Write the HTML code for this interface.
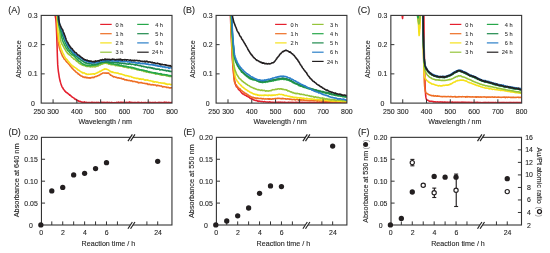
<!DOCTYPE html>
<html><head><meta charset="utf-8"><style>
html,body{margin:0;padding:0;background:#fff;}
body{width:550px;height:253px;overflow:hidden;}
svg{display:block;font-family:"Liberation Sans", sans-serif;will-change:transform;}
text{stroke:#2a2a2a;stroke-width:0.12px;}
text.lg{stroke-width:0.08px;fill:#333;}
</style></head><body>
<svg width="550" height="253" viewBox="0 0 550 253">
<rect width="550" height="253" fill="#fff"/>
<clipPath id="c0"><rect x="41.2" y="15.4" width="130.8" height="87.69999999999999"/></clipPath>
<text transform="translate(8.20 12.70) scale(0.9200 1.0000)" font-size="9.72" text-anchor="start" fill="#262626">(A)</text>
<text transform="translate(32.90 17.90) scale(0.9200 1.0000)" font-size="7.56" text-anchor="middle" fill="#262626">0.3</text>
<text transform="translate(32.90 47.13) scale(0.9200 1.0000)" font-size="7.56" text-anchor="middle" fill="#262626">0.2</text>
<text transform="translate(32.90 76.37) scale(0.9200 1.0000)" font-size="7.56" text-anchor="middle" fill="#262626">0.1</text>
<text transform="translate(32.90 105.60) scale(0.9200 1.0000)" font-size="7.56" text-anchor="middle" fill="#262626">0</text>
<text transform="translate(39.20 113.60) scale(0.9200 1.0000)" font-size="7.56" text-anchor="middle" fill="#262626">250</text>
<text transform="translate(53.09 113.60) scale(0.9200 1.0000)" font-size="7.56" text-anchor="middle" fill="#262626">300</text>
<text transform="translate(76.87 113.60) scale(0.9200 1.0000)" font-size="7.56" text-anchor="middle" fill="#262626">400</text>
<text transform="translate(100.65 113.60) scale(0.9200 1.0000)" font-size="7.56" text-anchor="middle" fill="#262626">500</text>
<text transform="translate(124.44 113.60) scale(0.9200 1.0000)" font-size="7.56" text-anchor="middle" fill="#262626">600</text>
<text transform="translate(148.22 113.60) scale(0.9200 1.0000)" font-size="7.56" text-anchor="middle" fill="#262626">700</text>
<text transform="translate(172.00 113.60) scale(0.9200 1.0000)" font-size="7.56" text-anchor="middle" fill="#262626">800</text>
<text transform="translate(105.20 124.00) scale(0.9200 1.0000)" font-size="7.78" text-anchor="middle" fill="#262626">Wavelength / nm</text>
<text transform="translate(20.50 59.25) rotate(-90) scale(0.9200 1.0000)" font-size="7.67" text-anchor="middle" fill="#262626">Absorbance</text>
<clipPath id="c1"><rect x="216.1" y="15.4" width="130.8" height="87.69999999999999"/></clipPath>
<text transform="translate(183.10 12.70) scale(0.9200 1.0000)" font-size="9.72" text-anchor="start" fill="#262626">(B)</text>
<text transform="translate(207.80 17.90) scale(0.9200 1.0000)" font-size="7.56" text-anchor="middle" fill="#262626">0.3</text>
<text transform="translate(207.80 47.13) scale(0.9200 1.0000)" font-size="7.56" text-anchor="middle" fill="#262626">0.2</text>
<text transform="translate(207.80 76.37) scale(0.9200 1.0000)" font-size="7.56" text-anchor="middle" fill="#262626">0.1</text>
<text transform="translate(207.80 105.60) scale(0.9200 1.0000)" font-size="7.56" text-anchor="middle" fill="#262626">0</text>
<text transform="translate(214.10 113.60) scale(0.9200 1.0000)" font-size="7.56" text-anchor="middle" fill="#262626">250</text>
<text transform="translate(227.99 113.60) scale(0.9200 1.0000)" font-size="7.56" text-anchor="middle" fill="#262626">300</text>
<text transform="translate(251.77 113.60) scale(0.9200 1.0000)" font-size="7.56" text-anchor="middle" fill="#262626">400</text>
<text transform="translate(275.55 113.60) scale(0.9200 1.0000)" font-size="7.56" text-anchor="middle" fill="#262626">500</text>
<text transform="translate(299.34 113.60) scale(0.9200 1.0000)" font-size="7.56" text-anchor="middle" fill="#262626">600</text>
<text transform="translate(323.12 113.60) scale(0.9200 1.0000)" font-size="7.56" text-anchor="middle" fill="#262626">700</text>
<text transform="translate(346.90 113.60) scale(0.9200 1.0000)" font-size="7.56" text-anchor="middle" fill="#262626">800</text>
<text transform="translate(280.10 124.00) scale(0.9200 1.0000)" font-size="7.78" text-anchor="middle" fill="#262626">Wavelength / nm</text>
<text transform="translate(195.40 59.25) rotate(-90) scale(0.9200 1.0000)" font-size="7.67" text-anchor="middle" fill="#262626">Absorbance</text>
<clipPath id="c2"><rect x="390.85" y="15.4" width="130.8" height="87.69999999999999"/></clipPath>
<text transform="translate(357.85 12.70) scale(0.9200 1.0000)" font-size="9.72" text-anchor="start" fill="#262626">(C)</text>
<text transform="translate(382.55 17.90) scale(0.9200 1.0000)" font-size="7.56" text-anchor="middle" fill="#262626">0.3</text>
<text transform="translate(382.55 47.13) scale(0.9200 1.0000)" font-size="7.56" text-anchor="middle" fill="#262626">0.2</text>
<text transform="translate(382.55 76.37) scale(0.9200 1.0000)" font-size="7.56" text-anchor="middle" fill="#262626">0.1</text>
<text transform="translate(382.55 105.60) scale(0.9200 1.0000)" font-size="7.56" text-anchor="middle" fill="#262626">0</text>
<text transform="translate(388.85 113.60) scale(0.9200 1.0000)" font-size="7.56" text-anchor="middle" fill="#262626">250</text>
<text transform="translate(402.74 113.60) scale(0.9200 1.0000)" font-size="7.56" text-anchor="middle" fill="#262626">300</text>
<text transform="translate(426.52 113.60) scale(0.9200 1.0000)" font-size="7.56" text-anchor="middle" fill="#262626">400</text>
<text transform="translate(450.30 113.60) scale(0.9200 1.0000)" font-size="7.56" text-anchor="middle" fill="#262626">500</text>
<text transform="translate(474.09 113.60) scale(0.9200 1.0000)" font-size="7.56" text-anchor="middle" fill="#262626">600</text>
<text transform="translate(497.87 113.60) scale(0.9200 1.0000)" font-size="7.56" text-anchor="middle" fill="#262626">700</text>
<text transform="translate(521.65 113.60) scale(0.9200 1.0000)" font-size="7.56" text-anchor="middle" fill="#262626">800</text>
<text transform="translate(454.85 124.00) scale(0.9200 1.0000)" font-size="7.78" text-anchor="middle" fill="#262626">Wavelength / nm</text>
<text transform="translate(370.15 59.25) rotate(-90) scale(0.9200 1.0000)" font-size="7.67" text-anchor="middle" fill="#262626">Absorbance</text>
<path d="M54.70,8.00 L55.00,13.80 L55.30,16.53 L55.60,17.85 L55.90,19.83 L56.20,24.10 L56.50,30.53 L56.80,37.98 L57.10,47.04 L57.40,57.08 L57.70,64.38 L58.00,68.12 L58.30,70.78 L58.60,72.78 L58.90,74.72 L59.20,76.80 L59.50,78.36 L59.80,79.77 L60.10,81.08 L60.40,82.14 L60.70,83.09 L61.00,84.07 L61.30,84.92 L61.60,85.72 L61.90,86.58 L62.20,87.15 L62.50,87.39 L62.80,87.88 L63.10,88.70 L63.40,89.24 L63.70,89.48 L64.00,89.79 L64.30,90.23 L64.60,90.53 L64.90,91.11 L65.20,91.41 L65.50,91.55 L65.80,92.04 L66.10,92.22 L66.40,92.34 L66.70,92.66 L67.00,92.91 L67.30,92.95 L67.60,93.17 L67.90,93.72 L68.20,93.72 L68.50,93.86 L68.80,94.30 L69.10,94.32 L69.40,94.80 L69.70,95.22 L70.00,95.04 L70.30,95.19 L70.60,95.67 L70.90,95.88 L71.20,96.14 L71.50,96.40 L71.80,96.64 L72.10,97.08 L72.40,97.15 L72.70,97.23 L73.00,97.50 L73.30,97.72 L73.60,97.86 L73.90,98.00 L74.20,98.35 L74.50,98.76 L74.80,99.15 L75.10,99.06 L75.40,99.01 L75.70,99.46 L76.00,99.48 L76.30,99.51 L76.60,99.93 L76.90,100.31 L77.20,100.57 L77.50,100.52 L77.80,100.53 L78.10,100.68 L78.40,101.07 L78.70,101.17 L79.00,101.06 L79.30,101.27 L79.60,101.40 L79.90,101.43 L80.20,101.39 L80.50,101.50 L80.80,101.67 L81.10,101.90 L81.40,102.12 L81.70,102.04 L82.00,102.11 L82.30,102.14 L82.60,102.24 L82.90,102.34 L83.20,102.32 L83.50,102.19 L83.80,102.19 L84.10,102.16 L84.40,101.87 L84.70,102.07 L85.00,102.24 L85.30,102.33 L85.60,102.76 L85.90,102.64 L86.20,102.29 L86.50,102.44 L86.80,102.60 L87.10,102.57 L87.40,102.49 L87.70,102.62 L88.00,102.72 L88.30,102.51 L88.60,102.44 L88.90,102.58 L89.20,102.46 L89.50,102.49 L89.80,102.52 L90.10,102.61 L90.40,102.75 L90.70,102.64 L91.00,102.53 L91.30,102.51 L91.60,102.32 L91.90,102.19 L92.20,102.50 L92.50,102.37 L92.80,102.43 L93.10,102.48 L93.40,102.47 L93.70,102.59 L94.00,102.59 L94.30,102.72 L94.60,102.42 L94.90,102.56 L95.20,102.95 L95.50,102.78 L95.80,102.56 L96.10,102.54 L96.40,102.45 L96.70,102.62 L97.00,102.67 L97.30,102.52 L97.60,102.49 L97.90,102.42 L98.20,102.35 L98.50,102.60 L98.80,102.74 L99.10,102.71 L99.40,102.73 L99.70,102.51 L100.00,102.47 L100.30,102.48 L100.60,102.53 L100.90,102.55 L101.20,102.51 L101.50,102.38 L101.80,102.32 L102.10,102.71 L102.40,102.73 L102.70,102.38 L103.00,102.51 L103.30,102.83 L103.60,102.59 L103.90,102.38 L104.20,102.49 L104.50,102.29 L104.80,102.47 L105.10,102.69 L105.40,102.61 L105.70,102.51 L106.00,102.56 L106.30,102.59 L106.60,102.51 L106.90,102.44 L107.20,102.30 L107.50,102.62 L107.80,102.71 L108.10,102.57 L108.40,102.63 L108.70,102.54 L109.00,102.48 L109.30,102.62 L109.60,102.64 L109.90,102.54 L110.20,102.58 L110.50,102.76 L110.80,102.84 L111.10,102.74 L111.40,102.58 L111.70,102.35 L112.00,102.54 L112.30,102.85 L112.60,102.71 L112.90,102.65 L113.20,102.77 L113.50,102.81 L113.80,102.83 L114.10,102.66 L114.40,102.74 L114.70,102.63 L115.00,102.55 L115.30,102.78 L115.60,102.78 L115.90,102.96 L116.20,103.04 L116.50,102.64 L116.80,102.23 L117.10,102.49 L117.40,102.57 L117.70,102.47 L118.00,102.71 L118.30,102.50 L118.60,102.11 L118.90,102.36 L119.20,102.64 L119.50,102.57 L119.80,102.57 L120.10,102.49 L120.40,102.29 L120.70,102.38 L121.00,102.45 L121.30,102.26 L121.60,102.45 L121.90,102.66 L122.20,102.64 L122.50,102.52 L122.80,102.39 L123.10,102.38 L123.40,102.35 L123.70,102.51 L124.00,102.52 L124.30,102.54 L124.60,102.69 L124.90,102.91 L125.20,102.68 L125.50,102.53 L125.80,102.70 L126.10,102.59 L126.40,102.41 L126.70,102.35 L127.00,102.64 L127.30,102.69 L127.60,102.60 L127.90,102.57 L128.20,102.71 L128.50,102.75 L128.80,102.31 L129.10,102.22 L129.40,102.25 L129.70,101.92 L130.00,102.11 L130.30,102.70 L130.60,102.78 L130.90,102.45 L131.20,102.33 L131.50,102.62 L131.80,102.77 L132.10,102.63 L132.40,102.60 L132.70,102.60 L133.00,102.71 L133.30,102.78 L133.60,102.70 L133.90,102.49 L134.20,102.53 L134.50,102.58 L134.80,102.65 L135.10,102.58 L135.40,102.42 L135.70,102.58 L136.00,102.43 L136.30,102.65 L136.60,103.01 L136.90,102.73 L137.20,102.64 L137.50,102.75 L137.80,102.31 L138.10,102.29 L138.40,102.62 L138.70,102.60 L139.00,102.47 L139.30,102.42 L139.60,102.54 L139.90,102.73 L140.20,102.80 L140.50,102.64 L140.80,102.80 L141.10,102.73 L141.40,102.48 L141.70,102.31 L142.00,102.57 L142.30,102.93 L142.60,102.84 L142.90,102.81 L143.20,102.70 L143.50,102.64 L143.80,102.60 L144.10,102.54 L144.40,102.58 L144.70,102.80 L145.00,102.87 L145.30,102.66 L145.60,102.52 L145.90,102.44 L146.20,102.73 L146.50,102.87 L146.80,102.67 L147.10,102.56 L147.40,102.41 L147.70,102.45 L148.00,102.70 L148.30,102.66 L148.60,102.52 L148.90,102.54 L149.20,102.59 L149.50,102.41 L149.80,102.36 L150.10,102.46 L150.40,102.60 L150.70,102.61 L151.00,102.57 L151.30,102.87 L151.60,102.76 L151.90,102.48 L152.20,102.55 L152.50,102.62 L152.80,102.47 L153.10,102.53 L153.40,102.92 L153.70,102.83 L154.00,102.54 L154.30,102.44 L154.60,102.51 L154.90,102.48 L155.20,102.29 L155.50,102.62 L155.80,102.65 L156.10,102.62 L156.40,102.94 L156.70,102.83 L157.00,102.71 L157.30,102.93 L157.60,102.83 L157.90,102.50 L158.20,102.35 L158.50,102.43 L158.80,102.80 L159.10,102.92 L159.40,102.60 L159.70,102.37 L160.00,102.42 L160.30,102.57 L160.60,102.61 L160.90,102.60 L161.20,102.67 L161.50,102.60 L161.80,102.56 L162.10,102.62 L162.40,102.62 L162.70,102.65 L163.00,102.91 L163.30,102.92 L163.60,102.68 L163.90,102.39 L164.20,102.43 L164.50,102.40 L164.80,102.16 L165.10,102.53 L165.40,102.80 L165.70,102.67 L166.00,102.36 L166.30,102.33 L166.60,102.46 L166.90,102.59 L167.20,102.98 L167.50,102.92 L167.80,102.53 L168.10,102.35 L168.40,102.44 L168.70,102.57 L169.00,102.43 L169.30,102.47 L169.60,102.47 L169.90,102.59 L170.20,102.88 L170.50,102.88 L170.80,102.68 L171.10,102.61 L171.40,102.65 L171.70,102.53 L172.00,102.51" fill="none" stroke="#e5202e" stroke-width="1.55" stroke-linejoin="round" clip-path="url(#c0)"/>
<path d="M56.60,7.83 L56.90,19.64 L57.20,29.92 L57.50,35.48 L57.80,39.11 L58.10,41.67 L58.40,43.29 L58.70,44.57 L59.00,46.11 L59.30,47.47 L59.60,48.49 L59.90,49.56 L60.20,50.54 L60.50,51.09 L60.80,51.77 L61.10,52.82 L61.40,53.76 L61.70,54.13 L62.00,54.92 L62.30,55.87 L62.60,56.44 L62.90,56.84 L63.20,57.13 L63.50,57.51 L63.80,58.33 L64.10,58.89 L64.40,59.18 L64.70,59.53 L65.00,59.74 L65.30,60.00 L65.60,60.32 L65.90,61.03 L66.20,61.28 L66.50,61.64 L66.80,62.18 L67.10,62.24 L67.40,62.47 L67.70,62.88 L68.00,63.27 L68.30,63.61 L68.60,63.86 L68.90,64.24 L69.20,64.58 L69.50,64.81 L69.80,65.30 L70.10,65.94 L70.40,66.11 L70.70,66.35 L71.00,66.82 L71.30,67.03 L71.60,67.56 L71.90,67.95 L72.20,68.36 L72.50,68.65 L72.80,68.82 L73.10,69.21 L73.40,69.37 L73.70,69.79 L74.00,70.17 L74.30,70.47 L74.60,70.78 L74.90,70.85 L75.20,71.12 L75.50,71.55 L75.80,71.96 L76.10,72.09 L76.40,72.23 L76.70,72.39 L77.00,72.74 L77.30,73.09 L77.60,73.04 L77.90,73.43 L78.20,74.07 L78.50,74.13 L78.80,74.09 L79.10,74.43 L79.40,74.66 L79.70,75.03 L80.00,75.28 L80.30,75.34 L80.60,75.71 L80.90,75.88 L81.20,76.02 L81.50,76.13 L81.80,76.05 L82.10,76.06 L82.40,76.58 L82.70,76.90 L83.00,76.80 L83.30,76.94 L83.60,77.03 L83.90,77.14 L84.20,77.45 L84.50,77.39 L84.80,77.02 L85.10,77.09 L85.40,77.18 L85.70,77.46 L86.00,77.79 L86.30,77.63 L86.60,77.39 L86.90,77.52 L87.20,77.93 L87.50,77.65 L87.80,77.58 L88.10,77.85 L88.40,77.94 L88.70,77.97 L89.00,77.81 L89.30,77.77 L89.60,77.68 L89.90,78.04 L90.20,78.25 L90.50,77.99 L90.80,77.73 L91.10,77.49 L91.40,77.49 L91.70,77.67 L92.00,77.65 L92.30,77.57 L92.60,77.36 L92.90,77.28 L93.20,77.35 L93.50,77.44 L93.80,77.61 L94.10,77.35 L94.40,76.93 L94.70,76.86 L95.00,76.79 L95.30,76.62 L95.60,76.59 L95.90,76.45 L96.20,76.43 L96.50,76.45 L96.80,76.29 L97.10,76.17 L97.40,75.93 L97.70,75.71 L98.00,75.65 L98.30,75.58 L98.60,75.52 L98.90,75.47 L99.20,75.13 L99.50,74.99 L99.80,74.83 L100.10,74.56 L100.40,74.51 L100.70,74.12 L101.00,73.98 L101.30,74.07 L101.60,73.85 L101.90,73.60 L102.20,73.42 L102.50,73.20 L102.80,73.10 L103.10,73.07 L103.40,73.06 L103.70,72.96 L104.00,72.97 L104.30,73.15 L104.60,73.10 L104.90,73.02 L105.20,73.11 L105.50,72.96 L105.80,72.94 L106.10,73.19 L106.40,73.17 L106.70,73.19 L107.00,73.06 L107.30,72.98 L107.60,73.15 L107.90,73.24 L108.20,73.18 L108.50,72.93 L108.80,73.05 L109.10,73.62 L109.40,74.00 L109.70,74.25 L110.00,74.31 L110.30,74.78 L110.60,75.28 L110.90,75.05 L111.20,75.28 L111.50,75.56 L111.80,75.48 L112.10,75.73 L112.40,76.19 L112.70,76.35 L113.00,76.34 L113.30,76.73 L113.60,77.01 L113.90,76.87 L114.20,76.73 L114.50,76.67 L114.80,76.71 L115.10,77.01 L115.40,77.24 L115.70,77.28 L116.00,77.44 L116.30,77.40 L116.60,77.34 L116.90,77.62 L117.20,77.77 L117.50,77.89 L117.80,77.94 L118.10,77.83 L118.40,77.90 L118.70,77.88 L119.00,77.70 L119.30,77.98 L119.60,78.26 L119.90,78.31 L120.20,78.17 L120.50,78.16 L120.80,78.39 L121.10,78.40 L121.40,78.26 L121.70,78.41 L122.00,78.89 L122.30,79.06 L122.60,78.94 L122.90,78.97 L123.20,79.22 L123.50,78.93 L123.80,78.89 L124.10,79.39 L124.40,79.57 L124.70,79.79 L125.00,79.92 L125.30,79.81 L125.60,79.77 L125.90,79.90 L126.20,79.86 L126.50,79.82 L126.80,80.07 L127.10,80.40 L127.40,80.33 L127.70,80.13 L128.00,80.25 L128.30,80.49 L128.60,80.53 L128.90,80.61 L129.20,80.55 L129.50,80.40 L129.80,80.56 L130.10,80.75 L130.40,80.98 L130.70,80.74 L131.00,80.55 L131.30,80.85 L131.60,80.95 L131.90,80.77 L132.20,81.05 L132.50,81.37 L132.80,81.36 L133.10,81.30 L133.40,81.43 L133.70,81.52 L134.00,81.59 L134.30,81.56 L134.60,81.37 L134.90,81.58 L135.20,81.65 L135.50,81.78 L135.80,81.96 L136.10,81.81 L136.40,81.84 L136.70,81.97 L137.00,82.14 L137.30,82.16 L137.60,82.04 L137.90,82.34 L138.20,82.74 L138.50,82.90 L138.80,82.67 L139.10,82.49 L139.40,82.74 L139.70,82.75 L140.00,82.48 L140.30,82.56 L140.60,82.80 L140.90,82.73 L141.20,82.51 L141.50,82.49 L141.80,82.84 L142.10,82.98 L142.40,82.93 L142.70,83.11 L143.00,83.26 L143.30,83.24 L143.60,83.28 L143.90,83.26 L144.20,83.20 L144.50,83.23 L144.80,83.48 L145.10,83.66 L145.40,83.47 L145.70,83.48 L146.00,83.60 L146.30,83.79 L146.60,83.66 L146.90,83.48 L147.20,83.69 L147.50,84.21 L147.80,84.43 L148.10,84.14 L148.40,84.15 L148.70,84.49 L149.00,84.41 L149.30,84.15 L149.60,84.38 L149.90,84.54 L150.20,84.52 L150.50,84.44 L150.80,84.65 L151.10,84.99 L151.40,84.86 L151.70,84.78 L152.00,84.49 L152.30,84.53 L152.60,84.82 L152.90,84.84 L153.20,85.01 L153.50,84.96 L153.80,84.70 L154.10,84.84 L154.40,85.01 L154.70,84.97 L155.00,85.04 L155.30,85.09 L155.60,84.92 L155.90,85.17 L156.20,85.55 L156.50,85.59 L156.80,85.87 L157.10,85.78 L157.40,85.34 L157.70,85.27 L158.00,85.40 L158.30,85.50 L158.60,85.72 L158.90,85.58 L159.20,85.67 L159.50,85.78 L159.80,85.83 L160.10,86.06 L160.40,86.04 L160.70,86.10 L161.00,86.12 L161.30,86.10 L161.60,86.01 L161.90,86.14 L162.20,86.65 L162.50,86.96 L162.80,86.95 L163.10,86.84 L163.40,86.63 L163.70,86.78 L164.00,86.91 L164.30,86.77 L164.60,86.79 L164.90,86.87 L165.20,86.90 L165.50,86.94 L165.80,86.91 L166.10,86.92 L166.40,87.41 L166.70,87.51 L167.00,87.24 L167.30,87.37 L167.60,87.55 L167.90,87.39 L168.20,87.32 L168.50,87.64 L168.80,87.76 L169.10,87.71 L169.40,87.93 L169.70,87.89 L170.00,87.75 L170.30,87.83 L170.60,88.06 L170.90,87.93 L171.20,87.71 L171.50,87.95 L171.80,88.18" fill="none" stroke="#ee6e24" stroke-width="1.55" stroke-linejoin="round" clip-path="url(#c0)"/>
<path d="M56.90,8.08 L57.20,17.58 L57.50,24.98 L57.80,30.17 L58.10,33.71 L58.40,36.11 L58.70,38.43 L59.00,40.36 L59.30,41.72 L59.60,43.25 L59.90,44.56 L60.20,45.63 L60.50,46.87 L60.80,47.91 L61.10,48.91 L61.40,49.65 L61.70,50.03 L62.00,50.72 L62.30,51.53 L62.60,52.17 L62.90,53.01 L63.20,53.73 L63.50,54.02 L63.80,54.77 L64.10,55.55 L64.40,56.03 L64.70,56.56 L65.00,57.07 L65.30,57.52 L65.60,58.05 L65.90,58.53 L66.20,58.84 L66.50,59.25 L66.80,59.41 L67.10,59.73 L67.40,60.27 L67.70,60.71 L68.00,60.95 L68.30,61.51 L68.60,62.07 L68.90,62.07 L69.20,62.19 L69.50,62.66 L69.80,63.21 L70.10,63.49 L70.40,63.83 L70.70,64.15 L71.00,64.51 L71.30,64.79 L71.60,64.99 L71.90,65.48 L72.20,66.08 L72.50,66.08 L72.80,65.93 L73.10,66.20 L73.40,66.59 L73.70,66.79 L74.00,66.85 L74.30,67.22 L74.60,67.37 L74.90,67.46 L75.20,67.74 L75.50,67.80 L75.80,67.88 L76.10,68.30 L76.40,68.71 L76.70,68.94 L77.00,68.88 L77.30,69.04 L77.60,69.57 L77.90,69.90 L78.20,69.99 L78.50,70.00 L78.80,70.29 L79.10,70.52 L79.40,70.48 L79.70,70.65 L80.00,71.17 L80.30,71.49 L80.60,71.63 L80.90,71.71 L81.20,71.85 L81.50,72.00 L81.80,72.01 L82.10,72.56 L82.40,72.82 L82.70,72.55 L83.00,72.56 L83.30,72.79 L83.60,73.08 L83.90,73.09 L84.20,72.83 L84.50,72.98 L84.80,73.32 L85.10,73.49 L85.40,73.77 L85.70,73.90 L86.00,73.93 L86.30,73.83 L86.60,73.92 L86.90,74.41 L87.20,74.46 L87.50,74.27 L87.80,74.22 L88.10,74.44 L88.40,74.31 L88.70,74.06 L89.00,74.24 L89.30,74.34 L89.60,74.22 L89.90,74.15 L90.20,74.15 L90.50,74.11 L90.80,74.11 L91.10,73.93 L91.40,73.92 L91.70,74.16 L92.00,74.01 L92.30,73.83 L92.60,74.01 L92.90,73.87 L93.20,73.78 L93.50,73.75 L93.80,73.83 L94.10,74.24 L94.40,74.30 L94.70,73.91 L95.00,73.66 L95.30,73.62 L95.60,73.43 L95.90,73.51 L96.20,73.20 L96.50,73.01 L96.80,73.05 L97.10,72.96 L97.40,72.85 L97.70,72.44 L98.00,72.31 L98.30,72.35 L98.60,72.18 L98.90,72.01 L99.20,71.81 L99.50,71.32 L99.80,71.36 L100.10,71.57 L100.40,71.31 L100.70,71.06 L101.00,71.01 L101.30,70.78 L101.60,70.38 L101.90,70.25 L102.20,70.34 L102.50,70.02 L102.80,69.87 L103.10,69.83 L103.40,69.40 L103.70,69.52 L104.00,69.53 L104.30,69.06 L104.60,68.90 L104.90,69.08 L105.20,69.20 L105.50,69.00 L105.80,68.92 L106.10,69.13 L106.40,69.08 L106.70,69.16 L107.00,69.37 L107.30,69.41 L107.60,69.51 L107.90,69.75 L108.20,69.97 L108.50,70.03 L108.80,70.11 L109.10,70.49 L109.40,70.73 L109.70,70.87 L110.00,71.17 L110.30,71.31 L110.60,71.62 L110.90,71.60 L111.20,71.56 L111.50,71.77 L111.80,72.03 L112.10,72.40 L112.40,72.00 L112.70,71.75 L113.00,72.18 L113.30,72.49 L113.60,72.58 L113.90,72.55 L114.20,72.58 L114.50,72.75 L114.80,72.75 L115.10,72.87 L115.40,72.65 L115.70,72.66 L116.00,72.88 L116.30,72.99 L116.60,73.15 L116.90,72.97 L117.20,73.11 L117.50,73.17 L117.80,73.07 L118.10,73.04 L118.40,73.22 L118.70,73.55 L119.00,73.76 L119.30,73.74 L119.60,73.82 L119.90,73.91 L120.20,73.84 L120.50,73.99 L120.80,74.22 L121.10,74.18 L121.40,74.10 L121.70,74.20 L122.00,74.33 L122.30,74.32 L122.60,74.53 L122.90,74.68 L123.20,74.69 L123.50,74.72 L123.80,74.80 L124.10,75.05 L124.40,75.03 L124.70,75.34 L125.00,75.53 L125.30,75.59 L125.60,75.76 L125.90,75.53 L126.20,75.45 L126.50,75.68 L126.80,75.83 L127.10,75.87 L127.40,75.92 L127.70,75.77 L128.00,75.86 L128.30,75.90 L128.60,76.07 L128.90,76.35 L129.20,76.30 L129.50,76.45 L129.80,76.67 L130.10,76.59 L130.40,76.42 L130.70,76.55 L131.00,76.59 L131.30,76.69 L131.60,77.24 L131.90,77.31 L132.20,77.27 L132.50,77.31 L132.80,77.34 L133.10,77.55 L133.40,77.57 L133.70,77.76 L134.00,78.07 L134.30,78.09 L134.60,77.94 L134.90,77.85 L135.20,77.98 L135.50,78.13 L135.80,78.23 L136.10,78.31 L136.40,78.49 L136.70,78.30 L137.00,78.09 L137.30,78.52 L137.60,78.57 L137.90,78.40 L138.20,78.47 L138.50,78.45 L138.80,78.55 L139.10,79.10 L139.40,79.28 L139.70,78.87 L140.00,78.66 L140.30,78.81 L140.60,79.10 L140.90,79.10 L141.20,78.93 L141.50,79.20 L141.80,79.46 L142.10,79.34 L142.40,79.14 L142.70,79.04 L143.00,79.14 L143.30,79.11 L143.60,79.35 L143.90,79.61 L144.20,79.63 L144.50,80.01 L144.80,80.16 L145.10,79.82 L145.40,79.84 L145.70,80.20 L146.00,80.05 L146.30,79.83 L146.60,79.97 L146.90,79.95 L147.20,80.22 L147.50,80.17 L147.80,79.90 L148.10,80.24 L148.40,80.41 L148.70,80.53 L149.00,80.66 L149.30,80.67 L149.60,80.84 L149.90,80.65 L150.20,80.57 L150.50,80.82 L150.80,80.90 L151.10,81.08 L151.40,81.01 L151.70,80.96 L152.00,81.24 L152.30,81.43 L152.60,81.30 L152.90,81.58 L153.20,82.03 L153.50,81.63 L153.80,81.43 L154.10,82.01 L154.40,82.13 L154.70,81.89 L155.00,81.82 L155.30,81.78 L155.60,81.84 L155.90,81.90 L156.20,82.08 L156.50,82.15 L156.80,82.05 L157.10,82.00 L157.40,82.11 L157.70,82.20 L158.00,82.24 L158.30,82.55 L158.60,82.67 L158.90,82.66 L159.20,82.71 L159.50,82.70 L159.80,82.69 L160.10,82.70 L160.40,82.87 L160.70,82.82 L161.00,82.95 L161.30,83.15 L161.60,82.93 L161.90,82.91 L162.20,82.97 L162.50,83.11 L162.80,83.15 L163.10,83.33 L163.40,83.38 L163.70,82.98 L164.00,83.04 L164.30,83.12 L164.60,83.26 L164.90,83.71 L165.20,83.85 L165.50,83.59 L165.80,83.46 L166.10,83.91 L166.40,84.10 L166.70,83.92 L167.00,84.06 L167.30,84.43 L167.60,84.51 L167.90,84.26 L168.20,84.18 L168.50,84.29 L168.80,84.21 L169.10,84.04 L169.40,84.17 L169.70,84.24 L170.00,84.27 L170.30,84.45 L170.60,84.81 L170.90,84.73 L171.20,84.45 L171.50,84.59 L171.80,84.71" fill="none" stroke="#f5e11a" stroke-width="1.55" stroke-linejoin="round" clip-path="url(#c0)"/>
<path d="M57.50,8.14 L57.80,15.13 L58.10,19.83 L58.40,22.31 L58.70,24.15 L59.00,26.24 L59.30,28.60 L59.60,30.77 L59.90,33.28 L60.20,36.68 L60.50,39.65 L60.80,40.83 L61.10,41.78 L61.40,42.50 L61.70,43.12 L62.00,44.19 L62.30,44.61 L62.60,44.87 L62.90,45.68 L63.20,46.20 L63.50,46.64 L63.80,47.26 L64.10,47.93 L64.40,48.47 L64.70,48.76 L65.00,49.26 L65.30,49.88 L65.60,50.29 L65.90,50.87 L66.20,51.45 L66.50,51.93 L66.80,52.16 L67.10,52.52 L67.40,53.08 L67.70,53.44 L68.00,53.79 L68.30,53.93 L68.60,54.03 L68.90,54.45 L69.20,54.59 L69.50,54.79 L69.80,55.18 L70.10,55.39 L70.40,55.51 L70.70,55.72 L71.00,56.22 L71.30,56.73 L71.60,57.13 L71.90,57.27 L72.20,57.38 L72.50,57.54 L72.80,57.88 L73.10,58.21 L73.40,58.49 L73.70,59.00 L74.00,59.17 L74.30,58.99 L74.60,59.13 L74.90,59.37 L75.20,59.57 L75.50,60.16 L75.80,60.58 L76.10,60.45 L76.40,60.73 L76.70,61.32 L77.00,61.42 L77.30,61.39 L77.60,61.62 L77.90,61.97 L78.20,62.33 L78.50,62.69 L78.80,63.00 L79.10,63.23 L79.40,63.49 L79.70,63.64 L80.00,63.49 L80.30,63.60 L80.60,64.04 L80.90,64.19 L81.20,64.45 L81.50,64.61 L81.80,64.51 L82.10,64.87 L82.40,65.19 L82.70,65.14 L83.00,65.28 L83.30,65.50 L83.60,65.53 L83.90,65.18 L84.20,65.15 L84.50,65.51 L84.80,65.56 L85.10,65.74 L85.40,66.11 L85.70,66.11 L86.00,65.89 L86.30,66.29 L86.60,66.45 L86.90,66.09 L87.20,66.24 L87.50,66.51 L87.80,66.43 L88.10,66.52 L88.40,66.58 L88.70,66.39 L89.00,66.49 L89.30,66.72 L89.60,66.62 L89.90,66.56 L90.20,66.63 L90.50,66.96 L90.80,66.88 L91.10,66.69 L91.40,66.77 L91.70,66.58 L92.00,66.68 L92.30,66.81 L92.60,66.88 L92.90,66.81 L93.20,66.56 L93.50,66.45 L93.80,66.60 L94.10,66.74 L94.40,66.86 L94.70,66.84 L95.00,66.78 L95.30,66.89 L95.60,66.73 L95.90,66.28 L96.20,66.03 L96.50,65.95 L96.80,66.21 L97.10,66.19 L97.40,66.03 L97.70,66.10 L98.00,66.04 L98.30,65.96 L98.60,65.59 L98.90,65.31 L99.20,65.20 L99.50,65.11 L99.80,64.90 L100.10,64.75 L100.40,64.90 L100.70,64.57 L101.00,64.28 L101.30,64.28 L101.60,64.18 L101.90,64.30 L102.20,64.16 L102.50,64.04 L102.80,63.73 L103.10,63.66 L103.40,63.67 L103.70,63.50 L104.00,63.49 L104.30,62.98 L104.60,62.77 L104.90,63.06 L105.20,63.30 L105.50,63.27 L105.80,63.08 L106.10,62.85 L106.40,63.03 L106.70,63.49 L107.00,63.37 L107.30,63.19 L107.60,63.07 L107.90,63.32 L108.20,64.01 L108.50,64.11 L108.80,64.05 L109.10,64.16 L109.40,64.00 L109.70,64.22 L110.00,64.31 L110.30,64.21 L110.60,64.51 L110.90,64.73 L111.20,64.81 L111.50,64.81 L111.80,64.72 L112.10,64.55 L112.40,64.72 L112.70,64.84 L113.00,64.72 L113.30,64.69 L113.60,64.85 L113.90,64.82 L114.20,64.75 L114.50,64.82 L114.80,65.06 L115.10,65.37 L115.40,65.65 L115.70,65.44 L116.00,65.13 L116.30,65.49 L116.60,65.59 L116.90,65.47 L117.20,65.76 L117.50,65.80 L117.80,65.47 L118.10,65.38 L118.40,65.62 L118.70,65.87 L119.00,65.70 L119.30,65.58 L119.60,65.87 L119.90,66.13 L120.20,66.03 L120.50,66.08 L120.80,66.29 L121.10,66.04 L121.40,65.97 L121.70,66.31 L122.00,66.33 L122.30,66.06 L122.60,66.15 L122.90,66.58 L123.20,66.88 L123.50,66.55 L123.80,66.74 L124.10,66.94 L124.40,66.78 L124.70,67.14 L125.00,67.20 L125.30,67.12 L125.60,66.90 L125.90,67.02 L126.20,67.14 L126.50,66.79 L126.80,67.31 L127.10,67.79 L127.40,67.71 L127.70,67.56 L128.00,67.58 L128.30,67.97 L128.60,68.04 L128.90,67.89 L129.20,67.59 L129.50,67.63 L129.80,67.57 L130.10,67.43 L130.40,67.79 L130.70,67.95 L131.00,67.98 L131.30,68.15 L131.60,68.49 L131.90,68.74 L132.20,68.54 L132.50,68.60 L132.80,68.57 L133.10,68.43 L133.40,68.71 L133.70,68.66 L134.00,68.57 L134.30,68.63 L134.60,68.74 L134.90,69.19 L135.20,69.15 L135.50,69.03 L135.80,69.08 L136.10,68.97 L136.40,69.00 L136.70,69.41 L137.00,69.95 L137.30,69.90 L137.60,69.57 L137.90,69.67 L138.20,69.79 L138.50,69.88 L138.80,70.04 L139.10,70.04 L139.40,70.16 L139.70,70.12 L140.00,70.07 L140.30,69.99 L140.60,70.06 L140.90,70.18 L141.20,70.29 L141.50,70.42 L141.80,70.53 L142.10,70.79 L142.40,70.66 L142.70,70.57 L143.00,70.71 L143.30,70.98 L143.60,71.40 L143.90,71.48 L144.20,71.28 L144.50,71.43 L144.80,71.35 L145.10,71.42 L145.40,71.60 L145.70,71.11 L146.00,71.61 L146.30,72.24 L146.60,71.83 L146.90,71.71 L147.20,71.88 L147.50,71.94 L147.80,71.84 L148.10,71.80 L148.40,72.12 L148.70,72.30 L149.00,72.46 L149.30,72.51 L149.60,72.72 L149.90,72.68 L150.20,72.47 L150.50,72.38 L150.80,72.25 L151.10,72.73 L151.40,72.84 L151.70,72.80 L152.00,72.97 L152.30,72.83 L152.60,72.85 L152.90,72.98 L153.20,73.03 L153.50,73.25 L153.80,73.46 L154.10,73.35 L154.40,73.21 L154.70,73.38 L155.00,73.54 L155.30,73.70 L155.60,74.12 L155.90,74.15 L156.20,73.86 L156.50,73.79 L156.80,73.74 L157.10,73.70 L157.40,73.74 L157.70,73.86 L158.00,73.99 L158.30,74.20 L158.60,74.26 L158.90,74.19 L159.20,74.14 L159.50,74.44 L159.80,74.71 L160.10,74.79 L160.40,74.88 L160.70,74.90 L161.00,74.82 L161.30,74.77 L161.60,75.21 L161.90,75.01 L162.20,74.86 L162.50,75.30 L162.80,75.25 L163.10,75.18 L163.40,75.35 L163.70,75.22 L164.00,75.16 L164.30,75.18 L164.60,75.09 L164.90,75.17 L165.20,75.30 L165.50,75.45 L165.80,75.58 L166.10,75.42 L166.40,75.68 L166.70,76.07 L167.00,75.95 L167.30,75.80 L167.60,75.74 L167.90,75.91 L168.20,76.03 L168.50,75.78 L168.80,75.87 L169.10,76.53 L169.40,76.24 L169.70,76.03 L170.00,76.37 L170.30,76.27 L170.60,76.45 L170.90,76.36 L171.20,76.24 L171.50,76.64 L171.80,76.64" fill="none" stroke="#95c43a" stroke-width="1.55" stroke-linejoin="round" clip-path="url(#c0)"/>
<path d="M57.70,7.94 L58.00,15.10 L58.30,19.96 L58.60,22.61 L58.90,24.32 L59.20,25.66 L59.50,27.02 L59.80,28.27 L60.10,29.57 L60.40,30.23 L60.70,31.38 L61.00,32.86 L61.30,34.36 L61.60,36.44 L61.90,37.92 L62.20,38.72 L62.50,40.01 L62.80,41.03 L63.10,41.83 L63.40,42.58 L63.70,42.93 L64.00,43.51 L64.30,44.39 L64.60,45.11 L64.90,45.53 L65.20,46.00 L65.50,46.56 L65.80,47.04 L66.10,47.87 L66.40,48.48 L66.70,48.59 L67.00,49.02 L67.30,49.74 L67.60,50.33 L67.90,50.64 L68.20,50.85 L68.50,51.23 L68.80,51.43 L69.10,51.56 L69.40,52.19 L69.70,52.58 L70.00,52.79 L70.30,53.27 L70.60,53.55 L70.90,53.63 L71.20,54.07 L71.50,54.39 L71.80,54.29 L72.10,54.54 L72.40,54.88 L72.70,54.92 L73.00,55.13 L73.30,55.49 L73.60,55.50 L73.90,55.80 L74.20,56.32 L74.50,56.59 L74.80,56.72 L75.10,57.04 L75.40,57.57 L75.70,57.95 L76.00,58.12 L76.30,58.50 L76.60,58.79 L76.90,58.98 L77.20,59.61 L77.50,59.83 L77.80,59.86 L78.10,60.36 L78.40,60.64 L78.70,60.72 L79.00,61.07 L79.30,61.51 L79.60,61.44 L79.90,61.45 L80.20,61.86 L80.50,62.07 L80.80,62.32 L81.10,62.58 L81.40,62.95 L81.70,63.15 L82.00,63.31 L82.30,63.66 L82.60,63.71 L82.90,63.82 L83.20,64.28 L83.50,64.46 L83.80,64.30 L84.10,64.40 L84.40,64.50 L84.70,64.68 L85.00,65.05 L85.30,65.03 L85.60,65.00 L85.90,65.35 L86.20,65.40 L86.50,65.35 L86.80,65.33 L87.10,65.24 L87.40,65.32 L87.70,65.71 L88.00,65.73 L88.30,65.37 L88.60,65.35 L88.90,65.39 L89.20,65.55 L89.50,65.59 L89.80,65.76 L90.10,65.76 L90.40,65.67 L90.70,65.67 L91.00,65.55 L91.30,65.32 L91.60,65.21 L91.90,65.38 L92.20,65.35 L92.50,65.07 L92.80,65.20 L93.10,65.42 L93.40,65.23 L93.70,65.23 L94.00,65.24 L94.30,65.31 L94.60,65.15 L94.90,64.93 L95.20,65.09 L95.50,65.17 L95.80,65.02 L96.10,64.85 L96.40,64.70 L96.70,64.68 L97.00,64.85 L97.30,64.62 L97.60,64.56 L97.90,64.71 L98.20,64.34 L98.50,64.22 L98.80,63.98 L99.10,63.55 L99.40,63.46 L99.70,63.52 L100.00,63.54 L100.30,63.43 L100.60,63.38 L100.90,63.08 L101.20,63.04 L101.50,63.05 L101.80,62.81 L102.10,62.85 L102.40,62.69 L102.70,62.46 L103.00,62.38 L103.30,62.46 L103.60,62.56 L103.90,62.54 L104.20,62.25 L104.50,61.99 L104.80,61.93 L105.10,62.03 L105.40,61.84 L105.70,61.91 L106.00,62.10 L106.30,61.84 L106.60,61.98 L106.90,62.27 L107.20,62.35 L107.50,62.44 L107.80,62.52 L108.10,62.66 L108.40,62.94 L108.70,62.90 L109.00,63.06 L109.30,63.22 L109.60,63.18 L109.90,63.16 L110.20,63.23 L110.50,63.55 L110.80,63.51 L111.10,63.56 L111.40,63.84 L111.70,63.86 L112.00,63.59 L112.30,63.61 L112.60,64.04 L112.90,64.01 L113.20,63.99 L113.50,63.83 L113.80,63.96 L114.10,64.24 L114.40,64.31 L114.70,64.21 L115.00,64.23 L115.30,64.49 L115.60,64.55 L115.90,64.51 L116.20,64.37 L116.50,64.83 L116.80,64.85 L117.10,64.51 L117.40,64.63 L117.70,64.63 L118.00,64.87 L118.30,65.28 L118.60,65.08 L118.90,64.69 L119.20,64.98 L119.50,65.40 L119.80,65.41 L120.10,65.48 L120.40,65.31 L120.70,65.20 L121.00,65.19 L121.30,65.09 L121.60,65.45 L121.90,65.61 L122.20,65.84 L122.50,66.00 L122.80,65.68 L123.10,65.83 L123.40,66.21 L123.70,66.23 L124.00,65.90 L124.30,65.94 L124.60,66.34 L124.90,66.29 L125.20,66.08 L125.50,66.34 L125.80,66.52 L126.10,66.31 L126.40,66.30 L126.70,66.41 L127.00,66.56 L127.30,66.74 L127.60,66.91 L127.90,67.06 L128.20,66.77 L128.50,66.79 L128.80,67.18 L129.10,67.25 L129.40,67.33 L129.70,67.27 L130.00,67.08 L130.30,67.34 L130.60,67.39 L130.90,67.05 L131.20,67.39 L131.50,67.64 L131.80,67.54 L132.10,67.52 L132.40,67.45 L132.70,67.55 L133.00,67.74 L133.30,68.01 L133.60,67.82 L133.90,67.94 L134.20,68.15 L134.50,67.99 L134.80,68.29 L135.10,68.49 L135.40,68.27 L135.70,68.59 L136.00,68.75 L136.30,68.62 L136.60,68.83 L136.90,69.05 L137.20,69.04 L137.50,69.06 L137.80,69.09 L138.10,69.18 L138.40,69.25 L138.70,69.13 L139.00,69.55 L139.30,69.72 L139.60,69.56 L139.90,69.88 L140.20,69.99 L140.50,69.67 L140.80,69.79 L141.10,69.82 L141.40,69.94 L141.70,70.33 L142.00,70.18 L142.30,70.01 L142.60,70.18 L142.90,70.34 L143.20,70.26 L143.50,70.40 L143.80,70.33 L144.10,70.27 L144.40,70.56 L144.70,70.64 L145.00,70.80 L145.30,70.75 L145.60,70.85 L145.90,71.05 L146.20,70.96 L146.50,70.87 L146.80,70.87 L147.10,71.16 L147.40,71.25 L147.70,71.28 L148.00,71.61 L148.30,71.80 L148.60,71.93 L148.90,71.82 L149.20,71.55 L149.50,71.78 L149.80,72.03 L150.10,72.10 L150.40,72.13 L150.70,72.20 L151.00,72.37 L151.30,72.38 L151.60,72.39 L151.90,72.42 L152.20,72.44 L152.50,72.48 L152.80,72.64 L153.10,72.61 L153.40,72.77 L153.70,72.88 L154.00,72.84 L154.30,72.91 L154.60,72.80 L154.90,73.14 L155.20,73.19 L155.50,72.82 L155.80,72.83 L156.10,73.01 L156.40,73.44 L156.70,73.56 L157.00,73.46 L157.30,73.36 L157.60,73.34 L157.90,73.61 L158.20,73.86 L158.50,73.74 L158.80,73.63 L159.10,73.82 L159.40,73.66 L159.70,73.67 L160.00,73.83 L160.30,73.58 L160.60,73.75 L160.90,74.17 L161.20,74.09 L161.50,73.90 L161.80,74.20 L162.10,74.46 L162.40,74.45 L162.70,74.65 L163.00,74.50 L163.30,74.48 L163.60,74.56 L163.90,74.50 L164.20,74.57 L164.50,74.63 L164.80,74.83 L165.10,74.90 L165.40,74.79 L165.70,74.78 L166.00,74.90 L166.30,74.86 L166.60,74.80 L166.90,74.96 L167.20,75.00 L167.50,75.04 L167.80,75.08 L168.10,75.40 L168.40,75.70 L168.70,75.54 L169.00,75.41 L169.30,75.68 L169.60,75.78 L169.90,75.53 L170.20,75.57 L170.50,75.66 L170.80,75.85 L171.10,75.85 L171.40,75.98 L171.70,75.92 L172.00,75.78" fill="none" stroke="#27a74a" stroke-width="1.55" stroke-linejoin="round" clip-path="url(#c0)"/>
<path d="M57.90,7.87 L58.20,15.34 L58.50,20.19 L58.80,22.12 L59.10,23.84 L59.40,25.20 L59.70,26.02 L60.00,26.85 L60.30,27.71 L60.60,28.59 L60.90,29.52 L61.20,30.23 L61.50,30.97 L61.80,31.86 L62.10,32.88 L62.40,34.13 L62.70,35.58 L63.00,36.37 L63.30,37.15 L63.60,38.22 L63.90,39.13 L64.20,39.85 L64.50,40.52 L64.80,41.23 L65.10,42.03 L65.40,42.85 L65.70,43.38 L66.00,44.03 L66.30,44.62 L66.60,44.95 L66.90,45.62 L67.20,46.42 L67.50,46.86 L67.80,47.47 L68.10,48.16 L68.40,48.37 L68.70,48.58 L69.00,49.36 L69.30,50.07 L69.60,50.16 L69.90,50.20 L70.20,50.56 L70.50,50.99 L70.80,51.20 L71.10,51.59 L71.40,51.93 L71.70,52.07 L72.00,52.64 L72.30,52.99 L72.60,53.13 L72.90,53.56 L73.20,53.93 L73.50,54.06 L73.80,54.20 L74.10,54.38 L74.40,54.82 L74.70,55.22 L75.00,55.05 L75.30,55.17 L75.60,55.62 L75.90,55.91 L76.20,56.30 L76.50,56.68 L76.80,56.64 L77.10,56.72 L77.40,56.91 L77.70,57.23 L78.00,57.71 L78.30,58.31 L78.60,58.58 L78.90,58.24 L79.20,58.40 L79.50,58.95 L79.80,59.12 L80.10,59.23 L80.40,59.57 L80.70,59.93 L81.00,60.17 L81.30,60.22 L81.60,60.55 L81.90,60.80 L82.20,60.84 L82.50,60.93 L82.80,61.09 L83.10,61.54 L83.40,61.62 L83.70,61.71 L84.00,62.18 L84.30,62.30 L84.60,62.39 L84.90,62.43 L85.20,62.70 L85.50,63.10 L85.80,63.06 L86.10,62.78 L86.40,62.68 L86.70,63.11 L87.00,63.54 L87.30,63.52 L87.60,63.53 L87.90,63.48 L88.20,63.36 L88.50,63.50 L88.80,63.64 L89.10,63.50 L89.40,63.62 L89.70,64.05 L90.00,63.83 L90.30,63.53 L90.60,63.77 L90.90,63.91 L91.20,63.60 L91.50,63.82 L91.80,64.19 L92.10,64.05 L92.40,64.33 L92.70,64.44 L93.00,64.08 L93.30,64.09 L93.60,64.07 L93.90,63.96 L94.20,64.15 L94.50,64.17 L94.80,64.04 L95.10,64.30 L95.40,64.42 L95.70,64.25 L96.00,64.14 L96.30,64.02 L96.60,64.05 L96.90,63.90 L97.20,63.86 L97.50,63.64 L97.80,63.27 L98.10,63.11 L98.40,63.01 L98.70,63.16 L99.00,63.30 L99.30,63.07 L99.60,62.80 L99.90,62.77 L100.20,62.62 L100.50,62.45 L100.80,62.49 L101.10,62.35 L101.40,62.29 L101.70,62.45 L102.00,62.28 L102.30,62.08 L102.60,61.92 L102.90,62.23 L103.20,62.18 L103.50,62.08 L103.80,62.28 L104.10,61.99 L104.40,61.72 L104.70,61.86 L105.00,62.21 L105.30,61.93 L105.60,61.65 L105.90,61.90 L106.20,61.98 L106.50,62.11 L106.80,61.99 L107.10,61.81 L107.40,61.73 L107.70,61.94 L108.00,62.03 L108.30,61.48 L108.60,61.58 L108.90,61.86 L109.20,62.15 L109.50,62.14 L109.80,61.91 L110.10,62.06 L110.40,62.29 L110.70,62.23 L111.00,62.19 L111.30,62.29 L111.60,62.15 L111.90,62.12 L112.20,62.19 L112.50,62.09 L112.80,62.28 L113.10,62.25 L113.40,62.28 L113.70,62.61 L114.00,62.48 L114.30,62.29 L114.60,62.31 L114.90,62.50 L115.20,62.66 L115.50,62.67 L115.80,62.74 L116.10,62.66 L116.40,62.59 L116.70,62.50 L117.00,62.60 L117.30,62.85 L117.60,62.73 L117.90,62.89 L118.20,63.06 L118.50,62.57 L118.80,62.52 L119.10,62.72 L119.40,62.89 L119.70,63.43 L120.00,63.25 L120.30,62.97 L120.60,63.04 L120.90,63.10 L121.20,63.25 L121.50,63.41 L121.80,63.23 L122.10,63.30 L122.40,63.34 L122.70,63.20 L123.00,63.51 L123.30,63.60 L123.60,63.36 L123.90,63.21 L124.20,63.30 L124.50,63.42 L124.80,63.67 L125.10,63.54 L125.40,63.49 L125.70,63.77 L126.00,63.82 L126.30,63.83 L126.60,63.99 L126.90,64.03 L127.20,63.98 L127.50,64.03 L127.80,64.18 L128.10,63.90 L128.40,63.87 L128.70,64.12 L129.00,63.95 L129.30,63.89 L129.60,63.72 L129.90,63.83 L130.20,64.02 L130.50,64.17 L130.80,64.11 L131.10,64.26 L131.40,64.53 L131.70,64.35 L132.00,64.26 L132.30,64.23 L132.60,64.21 L132.90,64.28 L133.20,64.47 L133.50,64.56 L133.80,64.42 L134.10,64.45 L134.40,64.56 L134.70,64.66 L135.00,65.06 L135.30,65.17 L135.60,64.94 L135.90,64.69 L136.20,64.60 L136.50,64.65 L136.80,64.98 L137.10,65.16 L137.40,65.13 L137.70,65.21 L138.00,65.27 L138.30,65.59 L138.60,65.55 L138.90,65.39 L139.20,65.44 L139.50,65.66 L139.80,65.69 L140.10,65.49 L140.40,65.51 L140.70,65.54 L141.00,65.85 L141.30,66.43 L141.60,66.30 L141.90,66.16 L142.20,66.38 L142.50,66.18 L142.80,66.17 L143.10,66.35 L143.40,66.36 L143.70,66.70 L144.00,66.61 L144.30,66.46 L144.60,66.82 L144.90,66.75 L145.20,66.78 L145.50,67.03 L145.80,67.09 L146.10,67.08 L146.40,67.21 L146.70,66.95 L147.00,67.11 L147.30,67.72 L147.60,67.72 L147.90,67.61 L148.20,67.35 L148.50,67.26 L148.80,67.39 L149.10,67.39 L149.40,67.68 L149.70,67.70 L150.00,67.62 L150.30,67.53 L150.60,67.58 L150.90,67.89 L151.20,67.88 L151.50,67.83 L151.80,68.22 L152.10,68.21 L152.40,67.88 L152.70,67.99 L153.00,68.33 L153.30,68.77 L153.60,68.71 L153.90,68.39 L154.20,68.35 L154.50,68.64 L154.80,68.63 L155.10,68.73 L155.40,69.09 L155.70,68.96 L156.00,68.91 L156.30,69.06 L156.60,69.23 L156.90,69.05 L157.20,69.05 L157.50,69.19 L157.80,68.99 L158.10,69.11 L158.40,69.23 L158.70,69.15 L159.00,69.02 L159.30,69.08 L159.60,69.53 L159.90,69.96 L160.20,69.91 L160.50,69.86 L160.80,69.76 L161.10,69.65 L161.40,69.81 L161.70,69.73 L162.00,69.61 L162.30,69.82 L162.60,69.96 L162.90,69.86 L163.20,70.01 L163.50,70.16 L163.80,70.30 L164.10,70.38 L164.40,70.26 L164.70,70.33 L165.00,70.40 L165.30,70.35 L165.60,70.37 L165.90,70.61 L166.20,70.80 L166.50,70.92 L166.80,70.66 L167.10,70.50 L167.40,70.71 L167.70,70.84 L168.00,70.89 L168.30,70.85 L168.60,71.06 L168.90,71.20 L169.20,71.00 L169.50,71.20 L169.80,71.53 L170.10,71.33 L170.40,71.36 L170.70,71.39 L171.00,71.48 L171.30,71.60 L171.60,71.40 L171.90,71.43" fill="none" stroke="#1f8a4c" stroke-width="1.55" stroke-linejoin="round" clip-path="url(#c0)"/>
<path d="M58.10,7.88 L58.40,15.20 L58.70,20.06 L59.00,21.99 L59.30,23.27 L59.60,23.72 L59.90,24.73 L60.20,25.90 L60.50,26.71 L60.80,27.89 L61.10,28.52 L61.40,28.88 L61.70,29.41 L62.00,30.09 L62.30,30.73 L62.60,31.44 L62.90,32.25 L63.20,33.46 L63.50,34.56 L63.80,35.46 L64.10,36.32 L64.40,36.99 L64.70,37.79 L65.00,38.63 L65.30,39.55 L65.60,40.25 L65.90,40.73 L66.20,41.26 L66.50,42.31 L66.80,43.03 L67.10,43.32 L67.40,44.18 L67.70,44.95 L68.00,45.34 L68.30,45.62 L68.60,46.41 L68.90,47.03 L69.20,47.21 L69.50,47.57 L69.80,47.70 L70.10,47.93 L70.40,48.63 L70.70,49.30 L71.00,49.58 L71.30,49.70 L71.60,49.87 L71.90,50.37 L72.20,50.71 L72.50,51.25 L72.80,52.01 L73.10,52.64 L73.40,52.92 L73.70,52.68 L74.00,52.70 L74.30,52.53 L74.60,52.86 L74.90,53.65 L75.20,54.16 L75.50,54.54 L75.80,54.71 L76.10,54.88 L76.40,55.09 L76.70,55.48 L77.00,55.39 L77.30,55.26 L77.60,55.38 L77.90,55.89 L78.20,56.50 L78.50,56.56 L78.80,56.37 L79.10,56.51 L79.40,56.91 L79.70,57.14 L80.00,57.40 L80.30,57.73 L80.60,57.94 L80.90,58.24 L81.20,58.57 L81.50,58.59 L81.80,58.74 L82.10,58.91 L82.40,59.27 L82.70,59.49 L83.00,59.61 L83.30,59.79 L83.60,59.70 L83.90,60.10 L84.20,60.35 L84.50,60.49 L84.80,60.90 L85.10,60.68 L85.40,60.62 L85.70,60.94 L86.00,61.09 L86.30,61.09 L86.60,61.44 L86.90,61.68 L87.20,61.70 L87.50,61.75 L87.80,61.81 L88.10,61.83 L88.40,61.85 L88.70,62.13 L89.00,62.21 L89.30,62.11 L89.60,62.00 L89.90,62.16 L90.20,62.45 L90.50,62.44 L90.80,62.31 L91.10,62.49 L91.40,63.05 L91.70,62.96 L92.00,62.66 L92.30,62.80 L92.60,62.37 L92.90,62.35 L93.20,62.67 L93.50,62.89 L93.80,62.97 L94.10,62.63 L94.40,62.64 L94.70,62.78 L95.00,62.69 L95.30,62.61 L95.60,62.43 L95.90,62.33 L96.20,62.60 L96.50,62.86 L96.80,62.76 L97.10,62.40 L97.40,62.37 L97.70,62.39 L98.00,62.37 L98.30,62.28 L98.60,61.90 L98.90,61.68 L99.20,61.65 L99.50,61.58 L99.80,61.52 L100.10,61.29 L100.40,60.87 L100.70,60.83 L101.00,60.79 L101.30,60.85 L101.60,61.12 L101.90,60.79 L102.20,60.85 L102.50,61.20 L102.80,61.06 L103.10,61.14 L103.40,61.38 L103.70,60.87 L104.00,60.70 L104.30,60.93 L104.60,60.80 L104.90,60.86 L105.20,60.66 L105.50,60.40 L105.80,60.37 L106.10,60.35 L106.40,60.46 L106.70,60.35 L107.00,60.20 L107.30,60.53 L107.60,60.69 L107.90,60.66 L108.20,60.38 L108.50,60.20 L108.80,60.42 L109.10,60.55 L109.40,60.56 L109.70,60.71 L110.00,60.80 L110.30,60.66 L110.60,60.68 L110.90,60.80 L111.20,60.74 L111.50,60.81 L111.80,60.97 L112.10,60.83 L112.40,60.78 L112.70,60.85 L113.00,61.01 L113.30,61.09 L113.60,61.01 L113.90,61.01 L114.20,60.98 L114.50,61.05 L114.80,61.04 L115.10,60.53 L115.40,60.76 L115.70,61.12 L116.00,60.73 L116.30,60.70 L116.60,60.76 L116.90,61.14 L117.20,61.38 L117.50,60.80 L117.80,60.83 L118.10,61.03 L118.40,61.26 L118.70,61.17 L119.00,60.52 L119.30,60.72 L119.60,61.04 L119.90,60.99 L120.20,60.72 L120.50,60.88 L120.80,61.51 L121.10,61.16 L121.40,61.10 L121.70,61.34 L122.00,61.55 L122.30,61.73 L122.60,61.35 L122.90,61.49 L123.20,61.63 L123.50,61.38 L123.80,61.44 L124.10,61.48 L124.40,61.10 L124.70,61.54 L125.00,61.79 L125.30,61.40 L125.60,61.54 L125.90,61.41 L126.20,61.17 L126.50,61.37 L126.80,61.53 L127.10,61.65 L127.40,61.94 L127.70,61.88 L128.00,61.80 L128.30,62.00 L128.60,61.78 L128.90,61.74 L129.20,61.79 L129.50,61.96 L129.80,62.21 L130.10,62.07 L130.40,61.81 L130.70,61.86 L131.00,61.98 L131.30,62.10 L131.60,62.23 L131.90,62.02 L132.20,62.22 L132.50,62.49 L132.80,62.28 L133.10,62.38 L133.40,62.46 L133.70,62.26 L134.00,62.36 L134.30,62.32 L134.60,62.26 L134.90,62.39 L135.20,62.74 L135.50,63.04 L135.80,62.79 L136.10,62.84 L136.40,62.91 L136.70,62.75 L137.00,62.94 L137.30,62.96 L137.60,63.24 L137.90,63.27 L138.20,62.73 L138.50,62.94 L138.80,63.10 L139.10,62.88 L139.40,62.51 L139.70,62.76 L140.00,63.41 L140.30,63.42 L140.60,63.48 L140.90,63.66 L141.20,63.54 L141.50,63.46 L141.80,63.39 L142.10,63.22 L142.40,63.55 L142.70,63.71 L143.00,63.37 L143.30,63.41 L143.60,63.63 L143.90,63.49 L144.20,63.63 L144.50,63.74 L144.80,63.46 L145.10,63.38 L145.40,63.96 L145.70,63.94 L146.00,63.73 L146.30,64.11 L146.60,64.22 L146.90,63.97 L147.20,63.86 L147.50,64.12 L147.80,64.34 L148.10,64.26 L148.40,63.99 L148.70,64.30 L149.00,64.70 L149.30,64.65 L149.60,64.42 L149.90,64.47 L150.20,64.62 L150.50,64.74 L150.80,64.56 L151.10,64.49 L151.40,64.71 L151.70,64.56 L152.00,64.67 L152.30,64.90 L152.60,64.84 L152.90,64.94 L153.20,64.83 L153.50,64.80 L153.80,65.15 L154.10,65.25 L154.40,65.40 L154.70,65.21 L155.00,64.84 L155.30,65.12 L155.60,65.48 L155.90,65.83 L156.20,65.91 L156.50,65.48 L156.80,65.56 L157.10,65.61 L157.40,65.29 L157.70,65.90 L158.00,66.24 L158.30,65.98 L158.60,66.07 L158.90,66.30 L159.20,66.31 L159.50,66.26 L159.80,66.11 L160.10,65.74 L160.40,66.19 L160.70,66.70 L161.00,66.60 L161.30,66.46 L161.60,66.46 L161.90,66.36 L162.20,66.64 L162.50,66.91 L162.80,66.80 L163.10,66.80 L163.40,66.95 L163.70,67.02 L164.00,67.03 L164.30,66.82 L164.60,66.84 L164.90,67.43 L165.20,67.32 L165.50,67.01 L165.80,67.29 L166.10,67.52 L166.40,67.54 L166.70,67.18 L167.00,67.22 L167.30,67.35 L167.60,67.19 L167.90,67.53 L168.20,67.67 L168.50,67.77 L168.80,68.38 L169.10,68.44 L169.40,68.11 L169.70,67.90 L170.00,67.75 L170.30,67.78 L170.60,67.86 L170.90,67.91 L171.20,67.95 L171.50,68.16 L171.80,68.17" fill="none" stroke="#2a7fc8" stroke-width="1.55" stroke-linejoin="round" clip-path="url(#c0)"/>
<path d="M58.30,7.77 L58.60,14.89 L58.90,19.85 L59.20,21.87 L59.50,23.23 L59.80,24.32 L60.10,24.89 L60.40,25.62 L60.70,26.19 L61.00,27.11 L61.30,28.13 L61.60,28.29 L61.90,28.46 L62.20,29.11 L62.50,29.58 L62.80,30.03 L63.10,31.15 L63.40,32.05 L63.70,32.65 L64.00,33.61 L64.30,34.35 L64.60,35.05 L64.90,35.92 L65.20,36.49 L65.50,37.42 L65.80,38.17 L66.10,39.17 L66.40,39.99 L66.70,40.74 L67.00,41.36 L67.30,41.81 L67.60,42.43 L67.90,42.69 L68.20,43.45 L68.50,44.29 L68.80,44.56 L69.10,45.11 L69.40,45.65 L69.70,45.92 L70.00,46.53 L70.30,47.02 L70.60,47.07 L70.90,47.62 L71.20,48.38 L71.50,48.42 L71.80,48.53 L72.10,48.68 L72.40,48.97 L72.70,49.66 L73.00,50.16 L73.30,50.21 L73.60,50.50 L73.90,51.24 L74.20,51.57 L74.50,51.53 L74.80,52.09 L75.10,52.54 L75.40,52.61 L75.70,52.72 L76.00,52.74 L76.30,52.92 L76.60,53.36 L76.90,53.78 L77.20,54.17 L77.50,54.56 L77.80,54.79 L78.10,55.00 L78.40,55.05 L78.70,54.93 L79.00,55.25 L79.30,55.68 L79.60,55.90 L79.90,56.24 L80.20,56.37 L80.50,56.46 L80.80,56.86 L81.10,57.26 L81.40,57.38 L81.70,57.63 L82.00,57.88 L82.30,57.82 L82.60,58.04 L82.90,58.68 L83.20,58.74 L83.50,58.80 L83.80,59.30 L84.10,59.52 L84.40,59.33 L84.70,59.57 L85.00,59.88 L85.30,59.66 L85.60,59.74 L85.90,60.01 L86.20,60.18 L86.50,60.17 L86.80,60.47 L87.10,60.48 L87.40,60.19 L87.70,60.51 L88.00,60.86 L88.30,60.98 L88.60,60.77 L88.90,60.84 L89.20,61.16 L89.50,61.33 L89.80,61.12 L90.10,60.94 L90.40,61.16 L90.70,60.92 L91.00,60.91 L91.30,61.40 L91.60,61.48 L91.90,61.23 L92.20,61.48 L92.50,61.79 L92.80,61.84 L93.10,61.58 L93.40,61.44 L93.70,61.74 L94.00,61.66 L94.30,61.38 L94.60,61.61 L94.90,61.96 L95.20,61.61 L95.50,60.90 L95.80,60.80 L96.10,60.99 L96.40,61.14 L96.70,61.33 L97.00,61.25 L97.30,60.96 L97.60,60.92 L97.90,60.79 L98.20,60.68 L98.50,60.65 L98.80,61.00 L99.10,61.16 L99.40,60.52 L99.70,60.17 L100.00,60.17 L100.30,60.01 L100.60,59.90 L100.90,59.98 L101.20,60.18 L101.50,60.16 L101.80,59.83 L102.10,59.61 L102.40,59.48 L102.70,59.62 L103.00,59.72 L103.30,59.85 L103.60,59.73 L103.90,59.66 L104.20,59.76 L104.50,59.54 L104.80,59.15 L105.10,58.91 L105.40,59.33 L105.70,59.75 L106.00,59.66 L106.30,59.56 L106.60,59.46 L106.90,59.28 L107.20,59.24 L107.50,59.46 L107.80,59.63 L108.10,59.44 L108.40,59.34 L108.70,59.47 L109.00,59.58 L109.30,59.36 L109.60,59.59 L109.90,59.77 L110.20,59.51 L110.50,59.71 L110.80,59.88 L111.10,59.63 L111.40,59.56 L111.70,59.41 L112.00,59.23 L112.30,59.04 L112.60,59.34 L112.90,59.41 L113.20,59.32 L113.50,59.50 L113.80,59.24 L114.10,59.34 L114.40,59.55 L114.70,59.68 L115.00,59.93 L115.30,59.89 L115.60,59.75 L115.90,59.60 L116.20,59.58 L116.50,59.71 L116.80,59.53 L117.10,59.49 L117.40,59.56 L117.70,59.61 L118.00,59.69 L118.30,59.59 L118.60,59.41 L118.90,59.62 L119.20,59.48 L119.50,59.27 L119.80,59.80 L120.10,59.47 L120.40,59.12 L120.70,59.68 L121.00,59.53 L121.30,59.85 L121.60,59.71 L121.90,59.54 L122.20,60.21 L122.50,60.14 L122.80,59.87 L123.10,59.79 L123.40,59.69 L123.70,59.78 L124.00,59.76 L124.30,59.60 L124.60,59.95 L124.90,59.83 L125.20,59.62 L125.50,59.84 L125.80,59.70 L126.10,59.88 L126.40,60.16 L126.70,59.75 L127.00,59.70 L127.30,59.83 L127.60,59.75 L127.90,59.90 L128.20,59.91 L128.50,60.07 L128.80,60.09 L129.10,60.11 L129.40,60.23 L129.70,60.23 L130.00,60.17 L130.30,59.97 L130.60,59.89 L130.90,60.09 L131.20,60.44 L131.50,60.71 L131.80,60.79 L132.10,60.51 L132.40,60.30 L132.70,60.34 L133.00,60.40 L133.30,60.59 L133.60,60.77 L133.90,60.43 L134.20,60.19 L134.50,60.57 L134.80,60.75 L135.10,60.52 L135.40,60.69 L135.70,60.69 L136.00,60.48 L136.30,60.49 L136.60,60.25 L136.90,60.49 L137.20,60.63 L137.50,60.43 L137.80,60.53 L138.10,60.77 L138.40,60.90 L138.70,60.82 L139.00,60.59 L139.30,60.60 L139.60,60.66 L139.90,60.75 L140.20,61.08 L140.50,61.05 L140.80,61.35 L141.10,61.47 L141.40,61.27 L141.70,61.24 L142.00,61.15 L142.30,61.31 L142.60,61.55 L142.90,61.22 L143.20,61.25 L143.50,61.57 L143.80,61.59 L144.10,61.62 L144.40,61.30 L144.70,61.08 L145.00,61.60 L145.30,61.87 L145.60,61.39 L145.90,61.45 L146.20,61.66 L146.50,61.35 L146.80,61.08 L147.10,61.16 L147.40,61.62 L147.70,61.91 L148.00,61.88 L148.30,61.98 L148.60,62.16 L148.90,61.83 L149.20,61.73 L149.50,61.98 L149.80,61.89 L150.10,61.98 L150.40,62.21 L150.70,62.31 L151.00,62.15 L151.30,62.17 L151.60,62.77 L151.90,62.74 L152.20,62.20 L152.50,62.46 L152.80,62.88 L153.10,62.97 L153.40,62.75 L153.70,62.89 L154.00,62.99 L154.30,62.71 L154.60,62.79 L154.90,63.01 L155.20,63.28 L155.50,63.45 L155.80,63.38 L156.10,63.49 L156.40,63.56 L156.70,63.60 L157.00,63.42 L157.30,63.08 L157.60,63.48 L157.90,63.56 L158.20,63.44 L158.50,63.70 L158.80,63.72 L159.10,63.72 L159.40,64.08 L159.70,63.80 L160.00,63.77 L160.30,64.60 L160.60,64.51 L160.90,64.20 L161.20,64.36 L161.50,64.71 L161.80,64.46 L162.10,64.24 L162.40,64.45 L162.70,64.58 L163.00,64.70 L163.30,64.77 L163.60,64.73 L163.90,64.69 L164.20,64.70 L164.50,64.65 L164.80,64.79 L165.10,64.93 L165.40,64.82 L165.70,65.15 L166.00,65.37 L166.30,64.95 L166.60,65.21 L166.90,65.37 L167.20,65.33 L167.50,65.50 L167.80,65.52 L168.10,65.61 L168.40,65.53 L168.70,65.57 L169.00,66.05 L169.30,65.74 L169.60,65.48 L169.90,65.97 L170.20,65.85 L170.50,65.62 L170.80,66.19 L171.10,66.41 L171.40,66.45 L171.70,66.66 L172.00,66.40" fill="none" stroke="#231f20" stroke-width="1.55" stroke-linejoin="round" clip-path="url(#c0)"/>
<path d="M230.20,8.06 L230.50,17.30 L230.80,25.65 L231.10,33.32 L231.40,40.07 L231.70,46.37 L232.00,52.60 L232.30,58.20 L232.60,62.55 L232.90,65.86 L233.20,69.06 L233.50,71.89 L233.80,74.40 L234.10,76.73 L234.40,78.84 L234.70,80.83 L235.00,82.52 L235.30,83.69 L235.60,84.72 L235.90,85.43 L236.20,86.18 L236.50,86.84 L236.80,86.98 L237.10,87.23 L237.40,87.26 L237.70,87.73 L238.00,88.50 L238.30,89.13 L238.60,89.31 L238.90,89.66 L239.20,90.14 L239.50,90.33 L239.80,90.39 L240.10,90.66 L240.40,91.25 L240.70,91.65 L241.00,92.03 L241.30,92.13 L241.60,92.54 L241.90,93.05 L242.20,93.29 L242.50,93.60 L242.80,93.90 L243.10,94.00 L243.40,93.92 L243.70,93.95 L244.00,94.46 L244.30,94.89 L244.60,94.91 L244.90,94.93 L245.20,95.08 L245.50,95.29 L245.80,95.40 L246.10,95.47 L246.40,95.92 L246.70,96.19 L247.00,96.02 L247.30,96.00 L247.60,96.16 L247.90,96.58 L248.20,96.95 L248.50,97.03 L248.80,97.14 L249.10,97.33 L249.40,97.38 L249.70,97.77 L250.00,98.13 L250.30,98.46 L250.60,98.49 L250.90,98.34 L251.20,98.69 L251.50,98.83 L251.80,98.70 L252.10,98.77 L252.40,99.09 L252.70,99.39 L253.00,99.50 L253.30,99.71 L253.60,99.97 L253.90,100.01 L254.20,100.01 L254.50,100.06 L254.80,100.22 L255.10,100.46 L255.40,100.49 L255.70,100.51 L256.00,100.55 L256.30,100.40 L256.60,100.39 L256.90,100.72 L257.20,100.96 L257.50,101.13 L257.80,101.14 L258.10,101.11 L258.40,101.32 L258.70,101.39 L259.00,101.21 L259.30,101.11 L259.60,101.24 L259.90,101.19 L260.20,101.26 L260.50,101.54 L260.80,101.46 L261.10,101.60 L261.40,101.66 L261.70,101.43 L262.00,101.46 L262.30,101.43 L262.60,101.54 L262.90,101.65 L263.20,101.82 L263.50,101.92 L263.80,101.81 L264.10,101.73 L264.40,101.52 L264.70,101.56 L265.00,101.65 L265.30,101.79 L265.60,101.91 L265.90,102.01 L266.20,102.12 L266.50,102.04 L266.80,102.00 L267.10,101.94 L267.40,102.01 L267.70,102.11 L268.00,101.96 L268.30,101.93 L268.60,102.35 L268.90,102.29 L269.20,101.96 L269.50,101.91 L269.80,101.78 L270.10,102.02 L270.40,102.22 L270.70,102.13 L271.00,102.36 L271.30,102.64 L271.60,102.32 L271.90,102.16 L272.20,102.36 L272.50,102.30 L272.80,102.29 L273.10,102.26 L273.40,102.40 L273.70,102.49 L274.00,102.36 L274.30,102.45 L274.60,102.52 L274.90,102.44 L275.20,102.38 L275.50,102.55 L275.80,102.58 L276.10,102.37 L276.40,102.22 L276.70,102.20 L277.00,102.18 L277.30,102.24 L277.60,102.41 L277.90,102.15 L278.20,102.13 L278.50,102.46 L278.80,102.48 L279.10,102.30 L279.40,102.43 L279.70,102.47 L280.00,102.17 L280.30,102.13 L280.60,102.27 L280.90,102.52 L281.20,102.67 L281.50,102.58 L281.80,102.29 L282.10,102.19 L282.40,102.23 L282.70,102.29 L283.00,102.19 L283.30,102.22 L283.60,102.52 L283.90,102.49 L284.20,102.47 L284.50,102.37 L284.80,102.14 L285.10,102.18 L285.40,102.50 L285.70,102.70 L286.00,102.51 L286.30,102.53 L286.60,102.55 L286.90,102.59 L287.20,102.69 L287.50,102.45 L287.80,102.49 L288.10,102.45 L288.40,102.25 L288.70,102.17 L289.00,102.31 L289.30,102.48 L289.60,102.44 L289.90,102.40 L290.20,102.59 L290.50,102.59 L290.80,102.33 L291.10,102.53 L291.40,102.79 L291.70,102.68 L292.00,102.30 L292.30,102.19 L292.60,102.48 L292.90,102.55 L293.20,102.67 L293.50,102.50 L293.80,102.40 L294.10,102.49 L294.40,102.57 L294.70,102.64 L295.00,102.60 L295.30,102.54 L295.60,102.24 L295.90,102.19 L296.20,102.29 L296.50,102.30 L296.80,102.52 L297.10,102.80 L297.40,102.69 L297.70,102.41 L298.00,102.36 L298.30,102.41 L298.60,102.60 L298.90,102.72 L299.20,102.60 L299.50,102.52 L299.80,102.22 L300.10,102.18 L300.40,102.29 L300.70,102.42 L301.00,102.57 L301.30,102.43 L301.60,102.37 L301.90,102.66 L302.20,102.59 L302.50,102.30 L302.80,102.38 L303.10,102.41 L303.40,102.39 L303.70,102.54 L304.00,102.80 L304.30,102.52 L304.60,102.31 L304.90,102.53 L305.20,102.53 L305.50,102.50 L305.80,102.47 L306.10,102.61 L306.40,102.60 L306.70,102.47 L307.00,102.52 L307.30,102.55 L307.60,102.53 L307.90,102.64 L308.20,102.66 L308.50,102.56 L308.80,102.56 L309.10,102.42 L309.40,102.33 L309.70,102.32 L310.00,102.44 L310.30,102.49 L310.60,102.34 L310.90,102.45 L311.20,102.64 L311.50,102.40 L311.80,102.54 L312.10,102.76 L312.40,102.55 L312.70,102.67 L313.00,102.69 L313.30,102.49 L313.60,102.75 L313.90,102.69 L314.20,102.42 L314.50,102.65 L314.80,102.53 L315.10,102.42 L315.40,102.60 L315.70,102.90 L316.00,102.75 L316.30,102.45 L316.60,102.64 L316.90,102.66 L317.20,102.43 L317.50,102.47 L317.80,102.63 L318.10,102.64 L318.40,102.76 L318.70,102.83 L319.00,102.74 L319.30,102.66 L319.60,102.48 L319.90,102.43 L320.20,102.58 L320.50,102.55 L320.80,102.54 L321.10,102.49 L321.40,102.66 L321.70,103.02 L322.00,102.79 L322.30,102.58 L322.60,102.60 L322.90,102.70 L323.20,102.78 L323.50,102.64 L323.80,102.56 L324.10,102.57 L324.40,102.48 L324.70,102.54 L325.00,102.58 L325.30,102.56 L325.60,102.66 L325.90,102.73 L326.20,102.71 L326.50,102.71 L326.80,102.60 L327.10,102.55 L327.40,102.63 L327.70,102.58 L328.00,102.62 L328.30,102.71 L328.60,102.46 L328.90,102.39 L329.20,102.45 L329.50,102.55 L329.80,102.50 L330.10,102.23 L330.40,102.27 L330.70,102.59 L331.00,102.63 L331.30,102.45 L331.60,102.54 L331.90,102.31 L332.20,102.34 L332.50,102.63 L332.80,102.65 L333.10,102.68 L333.40,102.66 L333.70,102.55 L334.00,102.55 L334.30,102.59 L334.60,102.86 L334.90,102.87 L335.20,102.66 L335.50,102.54 L335.80,102.43 L336.10,102.68 L336.40,102.64 L336.70,102.35 L337.00,102.48 L337.30,102.53 L337.60,102.78 L337.90,102.55 L338.20,102.36 L338.50,102.73 L338.80,102.55 L339.10,102.39 L339.40,102.57 L339.70,102.85 L340.00,102.68 L340.30,102.30 L340.60,102.53 L340.90,102.90 L341.20,102.74 L341.50,102.29 L341.80,102.51 L342.10,102.75 L342.40,102.71 L342.70,102.73 L343.00,102.55 L343.30,102.50 L343.60,102.72 L343.90,102.95 L344.20,102.52 L344.50,102.23 L344.80,102.70 L345.10,102.77 L345.40,102.39 L345.70,102.44 L346.00,102.59 L346.30,102.58 L346.60,102.53 L346.90,102.51" fill="none" stroke="#e5202e" stroke-width="1.55" stroke-linejoin="round" clip-path="url(#c1)"/>
<path d="M230.40,7.95 L230.70,17.15 L231.00,25.37 L231.30,33.00 L231.60,39.95 L231.90,46.27 L232.20,52.05 L232.50,57.17 L232.80,62.05 L233.10,66.59 L233.40,71.26 L233.70,75.63 L234.00,79.22 L234.30,81.38 L234.60,82.17 L234.90,82.78 L235.20,83.57 L235.50,84.23 L235.80,84.58 L236.10,84.76 L236.40,84.96 L236.70,85.60 L237.00,86.31 L237.30,86.74 L237.60,86.85 L237.90,87.22 L238.20,87.63 L238.50,87.86 L238.80,88.26 L239.10,88.40 L239.40,88.56 L239.70,88.67 L240.00,88.89 L240.30,89.18 L240.60,89.60 L240.90,90.07 L241.20,90.39 L241.50,90.67 L241.80,90.73 L242.10,90.97 L242.40,91.23 L242.70,91.49 L243.00,91.80 L243.30,91.83 L243.60,92.01 L243.90,92.35 L244.20,92.53 L244.50,92.84 L244.80,93.28 L245.10,93.33 L245.40,93.29 L245.70,93.26 L246.00,93.48 L246.30,93.89 L246.60,93.84 L246.90,94.11 L247.20,94.63 L247.50,94.70 L247.80,94.78 L248.10,94.94 L248.40,95.27 L248.70,95.39 L249.00,95.45 L249.30,96.05 L249.60,96.28 L249.90,96.28 L250.20,96.42 L250.50,96.38 L250.80,96.55 L251.10,96.88 L251.40,96.90 L251.70,97.01 L252.00,97.39 L252.30,97.58 L252.60,97.34 L252.90,97.19 L253.20,97.27 L253.50,97.61 L253.80,97.95 L254.10,97.99 L254.40,97.88 L254.70,97.73 L255.00,97.90 L255.30,98.11 L255.60,98.05 L255.90,98.10 L256.20,98.32 L256.50,98.37 L256.80,98.20 L257.10,97.95 L257.40,98.07 L257.70,98.38 L258.00,98.40 L258.30,98.36 L258.60,98.33 L258.90,98.49 L259.20,98.59 L259.50,98.54 L259.80,98.45 L260.10,98.38 L260.40,98.53 L260.70,98.50 L261.00,98.35 L261.30,98.45 L261.60,98.76 L261.90,98.85 L262.20,98.89 L262.50,98.87 L262.80,98.68 L263.10,98.55 L263.40,98.53 L263.70,98.89 L264.00,99.01 L264.30,98.95 L264.60,99.01 L264.90,98.93 L265.20,98.84 L265.50,98.87 L265.80,98.99 L266.10,99.04 L266.40,99.03 L266.70,99.01 L267.00,98.87 L267.30,98.83 L267.60,98.82 L267.90,98.98 L268.20,98.85 L268.50,98.71 L268.80,99.25 L269.10,99.24 L269.40,98.82 L269.70,98.86 L270.00,99.15 L270.30,99.13 L270.60,99.05 L270.90,99.07 L271.20,98.95 L271.50,99.30 L271.80,99.34 L272.10,98.88 L272.40,98.80 L272.70,98.89 L273.00,98.98 L273.30,99.00 L273.60,98.95 L273.90,98.66 L274.20,98.69 L274.50,98.80 L274.80,98.67 L275.10,98.51 L275.40,98.45 L275.70,98.52 L276.00,98.56 L276.30,98.45 L276.60,98.44 L276.90,98.61 L277.20,98.45 L277.50,98.35 L277.80,98.36 L278.10,98.54 L278.40,98.32 L278.70,98.17 L279.00,98.26 L279.30,98.25 L279.60,98.55 L279.90,98.53 L280.20,98.45 L280.50,98.43 L280.80,98.65 L281.10,98.87 L281.40,98.79 L281.70,98.53 L282.00,98.28 L282.30,98.58 L282.60,98.71 L282.90,98.57 L283.20,98.65 L283.50,98.55 L283.80,98.63 L284.10,98.81 L284.40,98.79 L284.70,98.74 L285.00,98.77 L285.30,98.79 L285.60,98.87 L285.90,99.11 L286.20,99.13 L286.50,99.09 L286.80,99.08 L287.10,98.72 L287.40,98.77 L287.70,99.09 L288.00,99.03 L288.30,99.05 L288.60,98.90 L288.90,98.89 L289.20,99.16 L289.50,99.41 L289.80,99.28 L290.10,99.02 L290.40,99.29 L290.70,99.31 L291.00,99.41 L291.30,99.54 L291.60,99.21 L291.90,99.34 L292.20,99.67 L292.50,99.40 L292.80,99.40 L293.10,99.56 L293.40,99.57 L293.70,99.58 L294.00,99.23 L294.30,99.36 L294.60,99.68 L294.90,99.89 L295.20,100.01 L295.50,99.86 L295.80,99.65 L296.10,99.52 L296.40,99.54 L296.70,99.52 L297.00,99.54 L297.30,99.36 L297.60,99.43 L297.90,99.76 L298.20,100.06 L298.50,100.18 L298.80,99.83 L299.10,99.83 L299.40,99.76 L299.70,99.64 L300.00,99.59 L300.30,99.85 L300.60,100.17 L300.90,99.87 L301.20,99.81 L301.50,100.09 L301.80,100.18 L302.10,100.13 L302.40,99.99 L302.70,99.88 L303.00,100.02 L303.30,100.22 L303.60,100.13 L303.90,99.91 L304.20,100.16 L304.50,100.20 L304.80,100.21 L305.10,100.37 L305.40,100.37 L305.70,100.57 L306.00,100.56 L306.30,100.46 L306.60,100.29 L306.90,100.13 L307.20,100.34 L307.50,100.62 L307.80,100.73 L308.10,100.84 L308.40,100.73 L308.70,100.49 L309.00,100.59 L309.30,100.59 L309.60,100.47 L309.90,100.36 L310.20,100.50 L310.50,100.52 L310.80,100.48 L311.10,100.45 L311.40,100.54 L311.70,100.60 L312.00,100.58 L312.30,100.53 L312.60,100.39 L312.90,100.74 L313.20,100.71 L313.50,100.59 L313.80,100.65 L314.10,100.38 L314.40,100.49 L314.70,100.83 L315.00,100.68 L315.30,100.71 L315.60,100.76 L315.90,100.59 L316.20,100.70 L316.50,100.75 L316.80,101.04 L317.10,100.95 L317.40,100.78 L317.70,101.10 L318.00,100.78 L318.30,100.47 L318.60,100.79 L318.90,100.95 L319.20,100.95 L319.50,101.15 L319.80,101.08 L320.10,100.83 L320.40,100.56 L320.70,100.72 L321.00,100.95 L321.30,100.98 L321.60,101.13 L321.90,100.94 L322.20,101.13 L322.50,101.44 L322.80,101.35 L323.10,101.09 L323.40,100.95 L323.70,101.04 L324.00,101.05 L324.30,101.00 L324.60,101.11 L324.90,101.29 L325.20,101.29 L325.50,101.21 L325.80,101.34 L326.10,101.43 L326.40,100.96 L326.70,100.87 L327.00,101.21 L327.30,101.41 L327.60,101.39 L327.90,101.26 L328.20,101.23 L328.50,101.35 L328.80,101.38 L329.10,101.24 L329.40,101.22 L329.70,101.37 L330.00,101.40 L330.30,101.15 L330.60,101.29 L330.90,101.42 L331.20,101.40 L331.50,101.54 L331.80,101.65 L332.10,101.74 L332.40,101.54 L332.70,101.40 L333.00,101.33 L333.30,101.56 L333.60,101.78 L333.90,101.75 L334.20,101.67 L334.50,101.27 L334.80,101.50 L335.10,101.77 L335.40,101.61 L335.70,101.61 L336.00,101.69 L336.30,101.75 L336.60,101.49 L336.90,101.57 L337.20,101.71 L337.50,101.53 L337.80,101.81 L338.10,101.98 L338.40,101.74 L338.70,101.42 L339.00,101.49 L339.30,101.79 L339.60,101.77 L339.90,101.56 L340.20,101.48 L340.50,101.49 L340.80,101.62 L341.10,101.88 L341.40,101.98 L341.70,101.80 L342.00,101.72 L342.30,101.88 L342.60,101.80 L342.90,101.72 L343.20,102.05 L343.50,102.10 L343.80,101.95 L344.10,101.89 L344.40,101.79 L344.70,101.65 L345.00,101.64 L345.30,102.00 L345.60,102.26 L345.90,102.27 L346.20,102.11 L346.50,101.98 L346.80,101.83" fill="none" stroke="#ee6e24" stroke-width="1.55" stroke-linejoin="round" clip-path="url(#c1)"/>
<path d="M230.60,7.98 L230.90,17.22 L231.20,25.44 L231.50,33.25 L231.80,39.99 L232.10,45.59 L232.40,51.04 L232.70,55.82 L233.00,59.64 L233.30,63.02 L233.60,65.75 L233.90,67.91 L234.20,70.17 L234.50,72.38 L234.80,74.24 L235.10,76.08 L235.40,77.64 L235.70,78.40 L236.00,79.11 L236.30,79.54 L236.60,79.92 L236.90,80.53 L237.20,81.10 L237.50,81.45 L237.80,81.72 L238.10,82.23 L238.40,82.79 L238.70,83.14 L239.00,83.48 L239.30,83.70 L239.60,83.85 L239.90,84.27 L240.20,84.59 L240.50,84.81 L240.80,85.35 L241.10,85.68 L241.40,85.65 L241.70,86.02 L242.00,86.63 L242.30,86.85 L242.60,87.05 L242.90,87.24 L243.20,87.29 L243.50,87.51 L243.80,87.80 L244.10,88.34 L244.40,88.46 L244.70,88.67 L245.00,88.91 L245.30,88.91 L245.60,89.35 L245.90,89.67 L246.20,89.81 L246.50,89.75 L246.80,89.96 L247.10,90.23 L247.40,90.69 L247.70,90.98 L248.00,90.89 L248.30,90.97 L248.60,91.08 L248.90,91.25 L249.20,91.61 L249.50,91.92 L249.80,92.05 L250.10,92.18 L250.40,92.23 L250.70,92.64 L251.00,92.74 L251.30,92.53 L251.60,92.85 L251.90,93.07 L252.20,93.10 L252.50,93.47 L252.80,93.54 L253.10,93.64 L253.40,93.76 L253.70,93.94 L254.00,94.28 L254.30,94.15 L254.60,94.07 L254.90,94.13 L255.20,94.28 L255.50,94.61 L255.80,94.51 L256.10,94.57 L256.40,94.67 L256.70,94.54 L257.00,94.56 L257.30,94.99 L257.60,95.28 L257.90,95.12 L258.20,95.09 L258.50,95.23 L258.80,95.10 L259.10,95.01 L259.40,95.55 L259.70,95.51 L260.00,95.26 L260.30,95.38 L260.60,95.28 L260.90,95.21 L261.20,95.42 L261.50,95.44 L261.80,95.37 L262.10,95.30 L262.40,95.30 L262.70,95.34 L263.00,95.48 L263.30,95.56 L263.60,95.36 L263.90,94.98 L264.20,95.09 L264.50,95.48 L264.80,95.28 L265.10,94.95 L265.40,94.92 L265.70,95.27 L266.00,95.28 L266.30,95.12 L266.60,95.27 L266.90,95.47 L267.20,95.44 L267.50,95.29 L267.80,95.22 L268.10,95.43 L268.40,95.62 L268.70,95.42 L269.00,95.12 L269.30,95.04 L269.60,95.27 L269.90,95.28 L270.20,95.32 L270.50,95.45 L270.80,95.37 L271.10,95.39 L271.40,95.41 L271.70,95.21 L272.00,95.10 L272.30,95.46 L272.60,95.34 L272.90,94.98 L273.20,95.23 L273.50,95.25 L273.80,95.00 L274.10,94.83 L274.40,94.97 L274.70,95.23 L275.00,95.31 L275.30,95.17 L275.60,95.09 L275.90,94.92 L276.20,94.77 L276.50,94.76 L276.80,94.70 L277.10,94.81 L277.40,94.86 L277.70,94.60 L278.00,94.57 L278.30,94.59 L278.60,94.28 L278.90,94.28 L279.20,94.21 L279.50,94.23 L279.80,94.44 L280.10,94.43 L280.40,94.49 L280.70,94.51 L281.00,94.49 L281.30,94.40 L281.60,94.46 L281.90,94.59 L282.20,94.60 L282.50,94.76 L282.80,94.91 L283.10,94.79 L283.40,94.66 L283.70,94.89 L284.00,95.20 L284.30,95.35 L284.60,95.47 L284.90,95.64 L285.20,95.65 L285.50,95.56 L285.80,95.43 L286.10,95.39 L286.40,95.52 L286.70,95.73 L287.00,95.88 L287.30,95.91 L287.60,95.94 L287.90,96.08 L288.20,96.19 L288.50,96.22 L288.80,96.30 L289.10,96.27 L289.40,96.18 L289.70,96.37 L290.00,96.61 L290.30,96.59 L290.60,96.56 L290.90,96.92 L291.20,96.94 L291.50,96.70 L291.80,96.88 L292.10,96.83 L292.40,96.87 L292.70,97.27 L293.00,97.42 L293.30,97.33 L293.60,97.33 L293.90,97.31 L294.20,97.40 L294.50,97.41 L294.80,97.28 L295.10,97.35 L295.40,97.55 L295.70,97.61 L296.00,97.62 L296.30,97.38 L296.60,97.47 L296.90,98.03 L297.20,98.08 L297.50,97.80 L297.80,97.57 L298.10,97.67 L298.40,97.69 L298.70,97.78 L299.00,97.86 L299.30,97.92 L299.60,98.18 L299.90,97.85 L300.20,97.75 L300.50,97.94 L300.80,97.77 L301.10,97.80 L301.40,97.98 L301.70,98.20 L302.00,98.07 L302.30,98.10 L302.60,98.56 L302.90,98.53 L303.20,98.38 L303.50,98.33 L303.80,98.15 L304.10,98.24 L304.40,98.46 L304.70,98.51 L305.00,98.80 L305.30,98.82 L305.60,98.59 L305.90,98.72 L306.20,98.53 L306.50,98.23 L306.80,98.38 L307.10,98.46 L307.40,98.62 L307.70,98.68 L308.00,98.83 L308.30,99.08 L308.60,98.99 L308.90,98.79 L309.20,98.80 L309.50,98.97 L309.80,98.80 L310.10,98.77 L310.40,99.01 L310.70,99.02 L311.00,99.15 L311.30,99.30 L311.60,99.04 L311.90,98.94 L312.20,98.97 L312.50,99.05 L312.80,99.07 L313.10,99.14 L313.40,99.32 L313.70,99.35 L314.00,99.32 L314.30,99.06 L314.60,99.31 L314.90,99.49 L315.20,99.48 L315.50,99.58 L315.80,99.52 L316.10,99.72 L316.40,99.70 L316.70,99.68 L317.00,99.49 L317.30,99.45 L317.60,99.63 L317.90,99.54 L318.20,99.59 L318.50,99.68 L318.80,99.90 L319.10,99.67 L319.40,99.50 L319.70,99.66 L320.00,99.82 L320.30,99.89 L320.60,99.83 L320.90,99.86 L321.20,99.91 L321.50,100.11 L321.80,100.00 L322.10,99.91 L322.40,99.82 L322.70,99.87 L323.00,100.17 L323.30,100.10 L323.60,100.15 L323.90,100.00 L324.20,99.66 L324.50,99.77 L324.80,99.96 L325.10,100.15 L325.40,100.23 L325.70,100.24 L326.00,100.36 L326.30,100.34 L326.60,100.12 L326.90,100.05 L327.20,100.48 L327.50,100.37 L327.80,100.12 L328.10,100.60 L328.40,100.70 L328.70,100.45 L329.00,100.41 L329.30,100.64 L329.60,100.81 L329.90,100.62 L330.20,100.58 L330.50,100.74 L330.80,100.81 L331.10,100.96 L331.40,100.81 L331.70,100.49 L332.00,100.60 L332.30,101.00 L332.60,101.06 L332.90,100.89 L333.20,101.12 L333.50,100.98 L333.80,100.82 L334.10,100.90 L334.40,100.81 L334.70,100.91 L335.00,101.10 L335.30,101.00 L335.60,100.77 L335.90,100.71 L336.20,100.85 L336.50,101.00 L336.80,101.01 L337.10,100.95 L337.40,100.88 L337.70,101.15 L338.00,101.18 L338.30,101.15 L338.60,101.25 L338.90,101.15 L339.20,100.91 L339.50,101.09 L339.80,101.31 L340.10,101.33 L340.40,101.08 L340.70,100.78 L341.00,100.78 L341.30,100.89 L341.60,101.29 L341.90,101.47 L342.20,101.36 L342.50,101.32 L342.80,101.43 L343.10,101.39 L343.40,101.36 L343.70,101.43 L344.00,101.13 L344.30,101.08 L344.60,101.52 L344.90,101.53 L345.20,101.36 L345.50,101.35 L345.80,101.32 L346.10,101.54 L346.40,101.58 L346.70,101.33 L347.00,101.00" fill="none" stroke="#f5e11a" stroke-width="1.55" stroke-linejoin="round" clip-path="url(#c1)"/>
<path d="M230.90,7.93 L231.20,17.01 L231.50,24.26 L231.80,30.82 L232.10,37.29 L232.40,43.52 L232.70,49.77 L233.00,55.16 L233.30,59.07 L233.60,62.68 L233.90,65.26 L234.20,66.71 L234.50,68.06 L234.80,69.18 L235.10,70.39 L235.40,71.18 L235.70,71.70 L236.00,72.48 L236.30,73.33 L236.60,74.05 L236.90,74.73 L237.20,75.24 L237.50,75.50 L237.80,76.00 L238.10,76.60 L238.40,76.96 L238.70,77.38 L239.00,78.07 L239.30,78.32 L239.60,78.43 L239.90,78.98 L240.20,79.20 L240.50,79.23 L240.80,79.46 L241.10,79.88 L241.40,80.34 L241.70,80.54 L242.00,80.75 L242.30,81.18 L242.60,81.54 L242.90,81.48 L243.20,81.63 L243.50,82.06 L243.80,82.40 L244.10,82.61 L244.40,82.68 L244.70,82.89 L245.00,82.99 L245.30,83.27 L245.60,83.63 L245.90,83.91 L246.20,84.07 L246.50,84.17 L246.80,84.37 L247.10,84.49 L247.40,84.89 L247.70,85.14 L248.00,85.29 L248.30,85.39 L248.60,85.52 L248.90,85.62 L249.20,85.71 L249.50,86.02 L249.80,86.30 L250.10,86.54 L250.40,86.60 L250.70,86.83 L251.00,87.02 L251.30,87.12 L251.60,87.33 L251.90,87.40 L252.20,87.41 L252.50,87.59 L252.80,87.71 L253.10,87.86 L253.40,88.17 L253.70,88.36 L254.00,88.32 L254.30,88.19 L254.60,88.35 L254.90,88.61 L255.20,88.87 L255.50,88.95 L255.80,88.90 L256.10,89.13 L256.40,89.19 L256.70,89.17 L257.00,89.52 L257.30,89.80 L257.60,89.75 L257.90,89.68 L258.20,89.56 L258.50,89.67 L258.80,89.87 L259.10,89.90 L259.40,89.89 L259.70,89.93 L260.00,90.03 L260.30,90.13 L260.60,90.38 L260.90,90.44 L261.20,90.12 L261.50,90.00 L261.80,90.06 L262.10,90.12 L262.40,90.41 L262.70,90.60 L263.00,90.50 L263.30,90.52 L263.60,90.54 L263.90,90.38 L264.20,90.34 L264.50,90.44 L264.80,90.81 L265.10,90.78 L265.40,90.79 L265.70,91.13 L266.00,90.98 L266.30,90.83 L266.60,90.80 L266.90,90.81 L267.20,90.96 L267.50,90.97 L267.80,91.00 L268.10,91.14 L268.40,91.05 L268.70,90.94 L269.00,90.88 L269.30,90.86 L269.60,90.72 L269.90,90.71 L270.20,90.84 L270.50,90.64 L270.80,90.81 L271.10,90.71 L271.40,90.25 L271.70,90.29 L272.00,90.05 L272.30,89.80 L272.60,89.74 L272.90,89.60 L273.20,89.67 L273.50,89.73 L273.80,89.80 L274.10,89.80 L274.40,89.75 L274.70,89.67 L275.00,89.42 L275.30,89.43 L275.60,89.37 L275.90,89.11 L276.20,89.31 L276.50,89.43 L276.80,89.22 L277.10,89.18 L277.40,89.22 L277.70,88.93 L278.00,88.79 L278.30,88.78 L278.60,88.79 L278.90,88.83 L279.20,88.97 L279.50,89.11 L279.80,88.86 L280.10,88.80 L280.40,88.77 L280.70,88.81 L281.00,89.05 L281.30,89.11 L281.60,88.86 L281.90,88.83 L282.20,89.18 L282.50,89.30 L282.80,89.44 L283.10,89.30 L283.40,89.28 L283.70,89.41 L284.00,89.43 L284.30,89.62 L284.60,89.75 L284.90,89.71 L285.20,89.73 L285.50,89.75 L285.80,89.65 L286.10,89.95 L286.40,90.22 L286.70,90.06 L287.00,90.08 L287.30,90.38 L287.60,90.78 L287.90,91.01 L288.20,91.03 L288.50,90.80 L288.80,90.79 L289.10,91.17 L289.40,91.33 L289.70,91.43 L290.00,91.46 L290.30,91.74 L290.60,92.05 L290.90,91.95 L291.20,91.77 L291.50,92.14 L291.80,92.31 L292.10,92.32 L292.40,92.73 L292.70,92.58 L293.00,92.50 L293.30,92.67 L293.60,92.80 L293.90,92.98 L294.20,93.24 L294.50,93.36 L294.80,93.21 L295.10,93.34 L295.40,93.38 L295.70,93.27 L296.00,93.63 L296.30,93.64 L296.60,93.37 L296.90,93.53 L297.20,93.52 L297.50,93.32 L297.80,93.62 L298.10,93.83 L298.40,93.69 L298.70,93.79 L299.00,93.78 L299.30,93.75 L299.60,93.93 L299.90,94.40 L300.20,94.52 L300.50,94.37 L300.80,94.15 L301.10,94.11 L301.40,94.20 L301.70,94.36 L302.00,94.53 L302.30,94.49 L302.60,94.57 L302.90,94.55 L303.20,94.43 L303.50,94.63 L303.80,94.71 L304.10,94.55 L304.40,94.74 L304.70,94.85 L305.00,94.98 L305.30,95.24 L305.60,95.30 L305.90,95.26 L306.20,95.29 L306.50,95.43 L306.80,95.27 L307.10,95.27 L307.40,95.44 L307.70,95.30 L308.00,95.48 L308.30,95.64 L308.60,95.76 L308.90,96.00 L309.20,95.71 L309.50,95.63 L309.80,96.20 L310.10,96.37 L310.40,96.37 L310.70,96.34 L311.00,96.05 L311.30,95.96 L311.60,96.28 L311.90,96.59 L312.20,96.47 L312.50,96.38 L312.80,96.56 L313.10,96.43 L313.40,96.42 L313.70,96.88 L314.00,97.24 L314.30,97.09 L314.60,97.10 L314.90,97.10 L315.20,96.84 L315.50,96.69 L315.80,96.95 L316.10,97.23 L316.40,97.45 L316.70,97.59 L317.00,97.38 L317.30,97.17 L317.60,97.38 L317.90,97.61 L318.20,97.46 L318.50,97.29 L318.80,97.47 L319.10,97.91 L319.40,97.78 L319.70,97.72 L320.00,97.89 L320.30,98.05 L320.60,98.07 L320.90,98.21 L321.20,98.23 L321.50,98.00 L321.80,98.03 L322.10,97.85 L322.40,97.86 L322.70,98.34 L323.00,98.52 L323.30,98.35 L323.60,98.41 L323.90,98.32 L324.20,98.30 L324.50,98.65 L324.80,98.82 L325.10,98.71 L325.40,98.79 L325.70,99.16 L326.00,99.04 L326.30,98.96 L326.60,98.87 L326.90,98.59 L327.20,98.90 L327.50,99.18 L327.80,99.18 L328.10,99.15 L328.40,99.13 L328.70,99.34 L329.00,99.62 L329.30,99.54 L329.60,99.17 L329.90,99.39 L330.20,99.70 L330.50,99.67 L330.80,99.65 L331.10,99.88 L331.40,99.90 L331.70,99.72 L332.00,99.52 L332.30,99.41 L332.60,99.58 L332.90,99.68 L333.20,99.83 L333.50,99.76 L333.80,99.96 L334.10,99.94 L334.40,99.70 L334.70,99.89 L335.00,99.81 L335.30,99.88 L335.60,100.13 L335.90,100.05 L336.20,100.22 L336.50,100.29 L336.80,100.12 L337.10,100.02 L337.40,99.80 L337.70,99.87 L338.00,100.05 L338.30,100.09 L338.60,100.24 L338.90,100.03 L339.20,99.83 L339.50,99.91 L339.80,100.23 L340.10,100.40 L340.40,100.20 L340.70,100.15 L341.00,100.34 L341.30,100.44 L341.60,100.37 L341.90,100.19 L342.20,100.32 L342.50,100.63 L342.80,100.57 L343.10,100.68 L343.40,100.61 L343.70,100.45 L344.00,100.57 L344.30,100.66 L344.60,100.55 L344.90,100.52 L345.20,100.49 L345.50,100.58 L345.80,100.76 L346.10,100.68 L346.40,100.80 L346.70,100.62 L347.00,100.38" fill="none" stroke="#95c43a" stroke-width="1.55" stroke-linejoin="round" clip-path="url(#c1)"/>
<path d="M231.00,8.20 L231.30,14.23 L231.60,19.75 L231.90,25.95 L232.20,31.95 L232.50,36.34 L232.80,40.22 L233.10,43.66 L233.40,46.63 L233.70,50.08 L234.00,53.62 L234.30,56.21 L234.60,57.75 L234.90,59.01 L235.20,60.15 L235.50,61.21 L235.80,62.13 L236.10,62.81 L236.40,63.22 L236.70,63.72 L237.00,64.43 L237.30,65.34 L237.60,66.04 L237.90,66.32 L238.20,66.85 L238.50,67.29 L238.80,67.78 L239.10,68.34 L239.40,68.76 L239.70,69.31 L240.00,69.60 L240.30,69.96 L240.60,70.25 L240.90,70.58 L241.20,71.19 L241.50,72.04 L241.80,72.33 L242.10,72.17 L242.40,72.28 L242.70,72.70 L243.00,72.92 L243.30,72.99 L243.60,73.52 L243.90,73.75 L244.20,74.17 L244.50,74.72 L244.80,74.73 L245.10,74.80 L245.40,74.96 L245.70,75.11 L246.00,75.58 L246.30,76.06 L246.60,76.29 L246.90,76.48 L247.20,76.59 L247.50,76.82 L247.80,76.93 L248.10,77.09 L248.40,77.65 L248.70,78.00 L249.00,77.95 L249.30,77.93 L249.60,78.33 L249.90,78.75 L250.20,78.56 L250.50,78.44 L250.80,78.79 L251.10,79.12 L251.40,79.12 L251.70,79.16 L252.00,79.33 L252.30,79.64 L252.60,79.83 L252.90,79.61 L253.20,79.61 L253.50,79.84 L253.80,80.04 L254.10,79.87 L254.40,79.90 L254.70,79.96 L255.00,79.94 L255.30,80.04 L255.60,80.08 L255.90,80.27 L256.20,80.43 L256.50,80.70 L256.80,81.04 L257.10,81.07 L257.40,80.97 L257.70,81.23 L258.00,81.25 L258.30,81.04 L258.60,81.50 L258.90,81.93 L259.20,82.07 L259.50,82.07 L259.80,81.90 L260.10,81.96 L260.40,82.26 L260.70,82.30 L261.00,82.21 L261.30,82.18 L261.60,82.16 L261.90,82.45 L262.20,82.65 L262.50,82.40 L262.80,82.20 L263.10,82.26 L263.40,82.43 L263.70,82.33 L264.00,82.21 L264.30,82.06 L264.60,81.89 L264.90,82.16 L265.20,82.37 L265.50,82.13 L265.80,81.88 L266.10,82.06 L266.40,82.05 L266.70,81.84 L267.00,81.89 L267.30,81.92 L267.60,81.94 L267.90,81.95 L268.20,81.69 L268.50,81.53 L268.80,81.54 L269.10,81.34 L269.40,81.17 L269.70,81.40 L270.00,81.27 L270.30,81.22 L270.60,81.38 L270.90,81.19 L271.20,81.15 L271.50,81.16 L271.80,81.18 L272.10,81.01 L272.40,80.77 L272.70,80.72 L273.00,80.91 L273.30,80.98 L273.60,80.58 L273.90,80.36 L274.20,80.32 L274.50,80.29 L274.80,80.34 L275.10,80.55 L275.40,80.24 L275.70,80.03 L276.00,80.24 L276.30,79.98 L276.60,79.85 L276.90,79.81 L277.20,79.78 L277.50,79.89 L277.80,79.64 L278.10,79.60 L278.40,79.67 L278.70,79.63 L279.00,79.66 L279.30,79.56 L279.60,79.52 L279.90,79.44 L280.20,79.33 L280.50,79.05 L280.80,79.08 L281.10,79.23 L281.40,79.37 L281.70,79.02 L282.00,78.73 L282.30,79.10 L282.60,78.97 L282.90,78.83 L283.20,79.26 L283.50,79.49 L283.80,79.17 L284.10,79.22 L284.40,79.52 L284.70,79.50 L285.00,79.47 L285.30,79.47 L285.60,79.39 L285.90,79.38 L286.20,79.65 L286.50,79.81 L286.80,80.03 L287.10,80.06 L287.40,79.63 L287.70,79.72 L288.00,80.13 L288.30,80.30 L288.60,80.37 L288.90,80.33 L289.20,80.62 L289.50,80.76 L289.80,80.80 L290.10,80.98 L290.40,80.90 L290.70,81.25 L291.00,81.25 L291.30,81.13 L291.60,81.65 L291.90,81.87 L292.20,82.08 L292.50,82.27 L292.80,82.30 L293.10,82.73 L293.40,82.92 L293.70,82.81 L294.00,82.86 L294.30,82.94 L294.60,83.30 L294.90,83.59 L295.20,83.65 L295.50,83.64 L295.80,83.86 L296.10,83.87 L296.40,83.88 L296.70,84.19 L297.00,84.27 L297.30,84.45 L297.60,84.60 L297.90,84.62 L298.20,85.05 L298.50,85.37 L298.80,85.42 L299.10,85.47 L299.40,85.56 L299.70,85.77 L300.00,85.93 L300.30,86.24 L300.60,86.18 L300.90,86.04 L301.20,86.18 L301.50,85.83 L301.80,85.78 L302.10,86.31 L302.40,86.66 L302.70,86.69 L303.00,86.86 L303.30,87.18 L303.60,87.10 L303.90,87.22 L304.20,87.57 L304.50,87.56 L304.80,87.33 L305.10,87.55 L305.40,87.74 L305.70,87.62 L306.00,87.74 L306.30,87.82 L306.60,88.03 L306.90,88.28 L307.20,88.39 L307.50,88.46 L307.80,88.30 L308.10,88.31 L308.40,88.60 L308.70,88.65 L309.00,88.99 L309.30,89.10 L309.60,88.76 L309.90,89.02 L310.20,89.26 L310.50,89.21 L310.80,89.17 L311.10,89.31 L311.40,89.53 L311.70,89.65 L312.00,89.60 L312.30,89.64 L312.60,89.86 L312.90,89.98 L313.20,89.59 L313.50,89.48 L313.80,89.84 L314.10,90.00 L314.40,90.19 L314.70,90.41 L315.00,90.54 L315.30,90.50 L315.60,90.51 L315.90,90.81 L316.20,90.82 L316.50,90.72 L316.80,91.06 L317.10,91.15 L317.40,90.80 L317.70,90.88 L318.00,91.16 L318.30,91.18 L318.60,91.43 L318.90,91.58 L319.20,91.50 L319.50,91.63 L319.80,91.79 L320.10,91.78 L320.40,91.84 L320.70,91.94 L321.00,91.94 L321.30,91.93 L321.60,92.05 L321.90,92.07 L322.20,91.99 L322.50,92.34 L322.80,92.54 L323.10,92.46 L323.40,92.55 L323.70,92.63 L324.00,92.72 L324.30,92.80 L324.60,92.78 L324.90,92.95 L325.20,93.04 L325.50,93.13 L325.80,93.05 L326.10,92.88 L326.40,93.30 L326.70,93.48 L327.00,93.35 L327.30,93.48 L327.60,93.51 L327.90,93.54 L328.20,93.47 L328.50,93.48 L328.80,93.73 L329.10,93.92 L329.40,94.17 L329.70,94.07 L330.00,94.22 L330.30,94.32 L330.60,93.95 L330.90,93.80 L331.20,94.29 L331.50,94.63 L331.80,94.43 L332.10,94.41 L332.40,94.42 L332.70,94.73 L333.00,94.91 L333.30,95.02 L333.60,95.07 L333.90,94.63 L334.20,94.81 L334.50,95.11 L334.80,95.04 L335.10,95.33 L335.40,95.38 L335.70,95.39 L336.00,95.47 L336.30,95.30 L336.60,95.42 L336.90,95.49 L337.20,95.63 L337.50,95.87 L337.80,95.78 L338.10,95.80 L338.40,95.91 L338.70,95.86 L339.00,95.95 L339.30,96.00 L339.60,96.02 L339.90,95.99 L340.20,95.98 L340.50,96.19 L340.80,96.13 L341.10,96.08 L341.40,96.16 L341.70,96.35 L342.00,96.37 L342.30,96.39 L342.60,96.70 L342.90,96.74 L343.20,96.41 L343.50,96.43 L343.80,96.79 L344.10,96.79 L344.40,96.84 L344.70,96.99 L345.00,96.95 L345.30,96.89 L345.60,96.82 L345.90,96.86 L346.20,96.97 L346.50,97.11 L346.80,97.19" fill="none" stroke="#27a74a" stroke-width="1.55" stroke-linejoin="round" clip-path="url(#c1)"/>
<path d="M231.10,7.97 L231.40,14.06 L231.70,20.06 L232.00,25.84 L232.30,31.45 L232.60,36.25 L232.90,40.23 L233.20,43.76 L233.50,46.92 L233.80,49.93 L234.10,53.04 L234.40,55.56 L234.70,56.77 L235.00,58.00 L235.30,59.17 L235.60,60.36 L235.90,61.32 L236.20,61.85 L236.50,62.62 L236.80,63.29 L237.10,63.89 L237.40,64.68 L237.70,65.29 L238.00,65.75 L238.30,66.38 L238.60,66.67 L238.90,67.22 L239.20,67.88 L239.50,68.24 L239.80,68.49 L240.10,68.89 L240.40,69.44 L240.70,69.66 L241.00,70.25 L241.30,70.74 L241.60,70.78 L241.90,71.07 L242.20,71.53 L242.50,71.96 L242.80,72.22 L243.10,72.53 L243.40,72.92 L243.70,72.91 L244.00,72.96 L244.30,73.27 L244.60,73.61 L244.90,74.16 L245.20,74.49 L245.50,74.44 L245.80,74.58 L246.10,75.07 L246.40,75.28 L246.70,75.38 L247.00,75.71 L247.30,75.73 L247.60,76.00 L247.90,76.47 L248.20,76.65 L248.50,76.70 L248.80,76.73 L249.10,76.96 L249.40,77.27 L249.70,77.52 L250.00,77.67 L250.30,78.04 L250.60,78.34 L250.90,78.19 L251.20,78.09 L251.50,78.52 L251.80,78.69 L252.10,78.77 L252.40,79.11 L252.70,78.99 L253.00,78.86 L253.30,79.04 L253.60,79.06 L253.90,79.03 L254.20,79.18 L254.50,79.50 L254.80,79.59 L255.10,79.56 L255.40,79.66 L255.70,79.63 L256.00,79.98 L256.30,79.98 L256.60,79.85 L256.90,80.32 L257.20,80.35 L257.50,80.48 L257.80,80.92 L258.10,80.87 L258.40,80.86 L258.70,80.95 L259.00,81.09 L259.30,81.34 L259.60,81.40 L259.90,81.65 L260.20,81.76 L260.50,81.83 L260.80,81.91 L261.10,81.66 L261.40,81.65 L261.70,81.88 L262.00,81.69 L262.30,81.79 L262.60,81.96 L262.90,81.84 L263.20,81.70 L263.50,81.64 L263.80,81.76 L264.10,81.68 L264.40,81.62 L264.70,81.36 L265.00,81.47 L265.30,81.54 L265.60,81.07 L265.90,81.04 L266.20,81.15 L266.50,81.27 L266.80,81.21 L267.10,81.12 L267.40,81.06 L267.70,81.23 L268.00,81.35 L268.30,81.27 L268.60,81.02 L268.90,80.81 L269.20,80.77 L269.50,80.71 L269.80,80.85 L270.10,80.53 L270.40,80.25 L270.70,80.23 L271.00,80.12 L271.30,80.11 L271.60,80.10 L271.90,79.95 L272.20,80.00 L272.50,80.17 L272.80,79.93 L273.10,79.72 L273.40,79.81 L273.70,79.78 L274.00,79.62 L274.30,79.67 L274.60,79.79 L274.90,79.70 L275.20,79.51 L275.50,79.60 L275.80,79.77 L276.10,79.42 L276.40,79.14 L276.70,79.27 L277.00,79.13 L277.30,78.97 L277.60,79.00 L277.90,78.80 L278.20,78.70 L278.50,78.53 L278.80,78.43 L279.10,78.31 L279.40,78.59 L279.70,78.95 L280.00,78.76 L280.30,78.57 L280.60,78.49 L280.90,78.57 L281.20,78.54 L281.50,78.47 L281.80,78.22 L282.10,78.15 L282.40,78.19 L282.70,78.00 L283.00,77.95 L283.30,78.17 L283.60,78.46 L283.90,78.29 L284.20,78.42 L284.50,78.82 L284.80,78.62 L285.10,78.45 L285.40,78.56 L285.70,78.81 L286.00,78.85 L286.30,78.68 L286.60,78.85 L286.90,78.82 L287.20,78.88 L287.50,79.35 L287.80,79.46 L288.10,79.50 L288.40,79.61 L288.70,79.71 L289.00,79.78 L289.30,79.71 L289.60,79.79 L289.90,80.02 L290.20,80.35 L290.50,80.70 L290.80,80.76 L291.10,80.64 L291.40,80.66 L291.70,80.90 L292.00,81.32 L292.30,81.56 L292.60,81.56 L292.90,81.60 L293.20,81.88 L293.50,82.17 L293.80,82.22 L294.10,82.36 L294.40,82.73 L294.70,82.84 L295.00,82.98 L295.30,83.29 L295.60,83.23 L295.90,83.32 L296.20,83.44 L296.50,83.37 L296.80,83.49 L297.10,83.61 L297.40,83.84 L297.70,84.08 L298.00,84.22 L298.30,84.45 L298.60,84.14 L298.90,84.20 L299.20,84.49 L299.50,84.59 L299.80,84.83 L300.10,84.94 L300.40,85.33 L300.70,85.23 L301.00,85.20 L301.30,85.50 L301.60,85.36 L301.90,85.56 L302.20,85.89 L302.50,85.86 L302.80,85.87 L303.10,86.42 L303.40,86.56 L303.70,86.06 L304.00,86.10 L304.30,86.37 L304.60,86.53 L304.90,86.67 L305.20,86.68 L305.50,86.85 L305.80,87.02 L306.10,86.88 L306.40,86.94 L306.70,87.15 L307.00,87.44 L307.30,87.63 L307.60,87.58 L307.90,87.62 L308.20,87.77 L308.50,88.10 L308.80,88.09 L309.10,87.99 L309.40,88.24 L309.70,88.16 L310.00,88.18 L310.30,88.40 L310.60,88.40 L310.90,88.54 L311.20,88.80 L311.50,88.95 L311.80,88.89 L312.10,88.86 L312.40,89.25 L312.70,89.18 L313.00,89.00 L313.30,89.32 L313.60,89.40 L313.90,89.45 L314.20,89.54 L314.50,89.63 L314.80,89.84 L315.10,89.81 L315.40,89.76 L315.70,89.86 L316.00,89.87 L316.30,89.95 L316.60,89.95 L316.90,90.12 L317.20,90.54 L317.50,90.74 L317.80,90.77 L318.10,90.53 L318.40,90.64 L318.70,90.75 L319.00,90.64 L319.30,91.03 L319.60,90.98 L319.90,90.94 L320.20,91.19 L320.50,91.15 L320.80,91.09 L321.10,91.24 L321.40,91.37 L321.70,91.52 L322.00,91.80 L322.30,91.59 L322.60,91.46 L322.90,91.67 L323.20,91.66 L323.50,91.65 L323.80,91.88 L324.10,92.06 L324.40,91.93 L324.70,91.97 L325.00,92.30 L325.30,92.30 L325.60,92.20 L325.90,92.61 L326.20,92.96 L326.50,92.64 L326.80,92.40 L327.10,92.71 L327.40,92.80 L327.70,92.80 L328.00,92.96 L328.30,93.13 L328.60,92.95 L328.90,92.69 L329.20,92.92 L329.50,93.37 L329.80,93.57 L330.10,93.31 L330.40,93.46 L330.70,93.81 L331.00,93.79 L331.30,93.73 L331.60,93.88 L331.90,94.13 L332.20,94.16 L332.50,94.14 L332.80,94.18 L333.10,94.13 L333.40,94.08 L333.70,94.22 L334.00,94.36 L334.30,94.36 L334.60,94.56 L334.90,94.71 L335.20,94.76 L335.50,94.57 L335.80,94.59 L336.10,94.77 L336.40,94.66 L336.70,94.69 L337.00,94.99 L337.30,95.25 L337.60,95.07 L337.90,94.89 L338.20,95.03 L338.50,95.17 L338.80,95.42 L339.10,95.36 L339.40,94.99 L339.70,95.19 L340.00,95.46 L340.30,95.56 L340.60,95.70 L340.90,95.99 L341.20,95.91 L341.50,95.64 L341.80,95.52 L342.10,95.67 L342.40,96.03 L342.70,96.02 L343.00,96.11 L343.30,96.19 L343.60,96.28 L343.90,96.36 L344.20,96.10 L344.50,96.03 L344.80,96.02 L345.10,95.93 L345.40,96.19 L345.70,96.55 L346.00,96.80 L346.30,96.73 L346.60,96.51 L346.90,96.42" fill="none" stroke="#1f8a4c" stroke-width="1.55" stroke-linejoin="round" clip-path="url(#c1)"/>
<path d="M231.30,8.12 L231.60,14.25 L231.90,19.98 L232.20,26.00 L232.50,31.88 L232.80,36.28 L233.10,40.29 L233.40,44.05 L233.70,47.02 L234.00,49.76 L234.30,52.63 L234.60,54.90 L234.90,56.23 L235.20,57.04 L235.50,57.74 L235.80,58.87 L236.10,59.60 L236.40,60.11 L236.70,60.69 L237.00,61.60 L237.30,62.51 L237.60,62.90 L237.90,63.35 L238.20,63.77 L238.50,64.21 L238.80,64.83 L239.10,65.26 L239.40,65.80 L239.70,66.27 L240.00,66.45 L240.30,67.08 L240.60,67.56 L240.90,67.86 L241.20,68.20 L241.50,68.23 L241.80,68.70 L242.10,69.14 L242.40,69.54 L242.70,69.83 L243.00,69.79 L243.30,70.32 L243.60,70.89 L243.90,71.15 L244.20,71.24 L244.50,71.60 L244.80,71.84 L245.10,71.94 L245.40,72.28 L245.70,72.54 L246.00,72.98 L246.30,73.19 L246.60,73.38 L246.90,73.77 L247.20,73.72 L247.50,73.72 L247.80,74.09 L248.10,74.38 L248.40,74.67 L248.70,74.71 L249.00,74.96 L249.30,75.48 L249.60,75.57 L249.90,75.51 L250.20,75.72 L250.50,76.01 L250.80,76.27 L251.10,76.51 L251.40,76.72 L251.70,76.86 L252.00,77.13 L252.30,77.09 L252.60,76.98 L252.90,77.50 L253.20,77.61 L253.50,77.81 L253.80,78.01 L254.10,78.08 L254.40,78.26 L254.70,78.32 L255.00,78.57 L255.30,78.72 L255.60,78.76 L255.90,79.14 L256.20,79.29 L256.50,79.03 L256.80,79.24 L257.10,79.56 L257.40,79.70 L257.70,79.92 L258.00,79.75 L258.30,79.76 L258.60,80.10 L258.90,80.06 L259.20,80.03 L259.50,79.74 L259.80,79.71 L260.10,80.34 L260.40,80.25 L260.70,80.02 L261.00,80.31 L261.30,80.47 L261.60,80.65 L261.90,80.38 L262.20,80.19 L262.50,80.50 L262.80,80.33 L263.10,80.20 L263.40,80.56 L263.70,80.69 L264.00,80.49 L264.30,79.98 L264.60,79.85 L264.90,80.16 L265.20,80.08 L265.50,79.97 L265.80,80.32 L266.10,80.24 L266.40,79.69 L266.70,79.67 L267.00,79.69 L267.30,79.55 L267.60,79.51 L267.90,79.57 L268.20,79.54 L268.50,79.24 L268.80,79.13 L269.10,79.26 L269.40,79.16 L269.70,79.17 L270.00,79.25 L270.30,78.91 L270.60,78.78 L270.90,79.05 L271.20,79.11 L271.50,78.78 L271.80,78.61 L272.10,78.44 L272.40,78.07 L272.70,78.12 L273.00,78.23 L273.30,78.13 L273.60,78.01 L273.90,77.90 L274.20,77.75 L274.50,77.68 L274.80,77.75 L275.10,77.61 L275.40,77.53 L275.70,77.24 L276.00,76.98 L276.30,77.30 L276.60,77.54 L276.90,77.33 L277.20,77.04 L277.50,76.79 L277.80,76.78 L278.10,76.96 L278.40,76.67 L278.70,76.57 L279.00,76.74 L279.30,76.67 L279.60,76.41 L279.90,76.37 L280.20,76.27 L280.50,76.34 L280.80,76.50 L281.10,76.14 L281.40,76.26 L281.70,76.52 L282.00,76.26 L282.30,76.39 L282.60,76.35 L282.90,76.14 L283.20,76.43 L283.50,76.15 L283.80,76.17 L284.10,76.48 L284.40,76.42 L284.70,76.36 L285.00,76.47 L285.30,76.54 L285.60,76.47 L285.90,76.63 L286.20,76.68 L286.50,77.02 L286.80,77.10 L287.10,76.91 L287.40,77.12 L287.70,77.31 L288.00,77.53 L288.30,77.72 L288.60,77.69 L288.90,77.66 L289.20,77.82 L289.50,78.10 L289.80,78.31 L290.10,78.30 L290.40,78.12 L290.70,78.59 L291.00,79.12 L291.30,79.06 L291.60,79.15 L291.90,79.23 L292.20,79.24 L292.50,79.44 L292.80,79.71 L293.10,79.85 L293.40,79.87 L293.70,80.08 L294.00,80.50 L294.30,80.64 L294.60,80.74 L294.90,80.70 L295.20,80.83 L295.50,81.21 L295.80,81.24 L296.10,81.20 L296.40,81.55 L296.70,81.81 L297.00,81.96 L297.30,82.16 L297.60,82.32 L297.90,82.48 L298.20,82.38 L298.50,82.55 L298.80,82.84 L299.10,83.08 L299.40,83.22 L299.70,83.24 L300.00,83.55 L300.30,83.88 L300.60,84.02 L300.90,84.16 L301.20,84.27 L301.50,84.40 L301.80,84.60 L302.10,84.71 L302.40,84.77 L302.70,84.90 L303.00,85.34 L303.30,85.49 L303.60,85.33 L303.90,85.45 L304.20,85.64 L304.50,85.88 L304.80,85.91 L305.10,85.81 L305.40,86.15 L305.70,86.36 L306.00,86.52 L306.30,86.90 L306.60,87.17 L306.90,87.53 L307.20,87.60 L307.50,87.50 L307.80,87.48 L308.10,87.62 L308.40,87.93 L308.70,87.94 L309.00,88.11 L309.30,88.52 L309.60,88.75 L309.90,88.87 L310.20,88.97 L310.50,89.08 L310.80,89.17 L311.10,89.20 L311.40,89.42 L311.70,89.97 L312.00,90.13 L312.30,90.14 L312.60,90.14 L312.90,90.42 L313.20,90.58 L313.50,90.65 L313.80,90.89 L314.10,90.81 L314.40,91.05 L314.70,91.30 L315.00,91.32 L315.30,91.50 L315.60,91.61 L315.90,91.63 L316.20,91.81 L316.50,91.93 L316.80,92.00 L317.10,92.09 L317.40,92.03 L317.70,92.14 L318.00,92.38 L318.30,92.58 L318.60,92.89 L318.90,92.80 L319.20,92.79 L319.50,92.84 L319.80,92.81 L320.10,93.12 L320.40,93.09 L320.70,93.04 L321.00,93.43 L321.30,93.77 L321.60,93.85 L321.90,93.85 L322.20,94.22 L322.50,94.40 L322.80,94.14 L323.10,94.47 L323.40,94.75 L323.70,94.60 L324.00,94.77 L324.30,94.93 L324.60,94.97 L324.90,95.07 L325.20,94.97 L325.50,95.16 L325.80,95.40 L326.10,95.26 L326.40,95.25 L326.70,95.58 L327.00,95.73 L327.30,95.72 L327.60,95.94 L327.90,96.05 L328.20,95.88 L328.50,96.04 L328.80,96.43 L329.10,96.56 L329.40,96.73 L329.70,96.77 L330.00,96.76 L330.30,97.00 L330.60,96.97 L330.90,97.08 L331.20,97.41 L331.50,97.39 L331.80,97.49 L332.10,97.58 L332.40,97.34 L332.70,97.46 L333.00,97.68 L333.30,97.68 L333.60,97.74 L333.90,97.93 L334.20,98.05 L334.50,97.87 L334.80,97.94 L335.10,98.18 L335.40,98.10 L335.70,98.02 L336.00,98.12 L336.30,98.16 L336.60,98.31 L336.90,98.56 L337.20,98.80 L337.50,98.88 L337.80,98.83 L338.10,98.87 L338.40,98.97 L338.70,98.84 L339.00,98.81 L339.30,98.95 L339.60,98.90 L339.90,98.86 L340.20,98.86 L340.50,98.93 L340.80,98.89 L341.10,99.03 L341.40,99.22 L341.70,99.22 L342.00,99.31 L342.30,99.42 L342.60,99.35 L342.90,99.29 L343.20,99.21 L343.50,98.99 L343.80,98.99 L344.10,99.48 L344.40,99.53 L344.70,99.43 L345.00,99.86 L345.30,99.78 L345.60,99.83 L345.90,100.13 L346.20,100.07 L346.50,100.16 L346.80,100.15" fill="none" stroke="#2a7fc8" stroke-width="1.55" stroke-linejoin="round" clip-path="url(#c1)"/>
<path d="M232.00,7.91 L232.30,13.82 L232.60,16.42 L232.90,18.01 L233.20,19.40 L233.50,21.07 L233.80,22.19 L234.10,22.79 L234.40,23.56 L234.70,24.33 L235.00,25.15 L235.30,25.90 L235.60,26.59 L235.90,27.23 L236.20,28.01 L236.50,28.89 L236.80,29.89 L237.10,30.61 L237.40,31.19 L237.70,31.71 L238.00,32.07 L238.30,32.44 L238.60,33.03 L238.90,33.50 L239.20,34.02 L239.50,35.01 L239.80,35.62 L240.10,36.07 L240.40,36.50 L240.70,36.70 L241.00,37.19 L241.30,37.80 L241.60,38.49 L241.90,39.27 L242.20,39.52 L242.50,39.73 L242.80,40.30 L243.10,40.80 L243.40,41.17 L243.70,41.74 L244.00,42.45 L244.30,43.00 L244.60,43.33 L244.90,43.79 L245.20,44.24 L245.50,44.89 L245.80,45.49 L246.10,45.87 L246.40,46.45 L246.70,46.93 L247.00,47.37 L247.30,47.75 L247.60,48.59 L247.90,49.34 L248.20,49.67 L248.50,50.39 L248.80,50.85 L249.10,51.16 L249.40,51.68 L249.70,52.25 L250.00,52.80 L250.30,53.16 L250.60,53.51 L250.90,53.94 L251.20,54.54 L251.50,54.68 L251.80,54.95 L252.10,55.56 L252.40,55.94 L252.70,56.14 L253.00,56.64 L253.30,57.14 L253.60,57.37 L253.90,57.73 L254.20,57.86 L254.50,58.14 L254.80,58.39 L255.10,58.57 L255.40,58.99 L255.70,59.33 L256.00,59.58 L256.30,59.77 L256.60,60.21 L256.90,60.46 L257.20,60.23 L257.50,60.28 L257.80,60.52 L258.10,60.74 L258.40,60.91 L258.70,61.00 L259.00,61.43 L259.30,61.70 L259.60,61.62 L259.90,61.74 L260.20,61.90 L260.50,62.24 L260.80,62.46 L261.10,62.56 L261.40,62.25 L261.70,62.27 L262.00,62.88 L262.30,63.18 L262.60,63.15 L262.90,62.79 L263.20,62.93 L263.50,63.13 L263.80,62.90 L264.10,62.96 L264.40,63.36 L264.70,63.64 L265.00,63.66 L265.30,63.44 L265.60,63.71 L265.90,63.74 L266.20,63.48 L266.50,63.49 L266.80,63.69 L267.10,63.95 L267.40,63.92 L267.70,63.90 L268.00,63.80 L268.30,63.82 L268.60,63.60 L268.90,63.69 L269.20,64.00 L269.50,63.80 L269.80,63.65 L270.10,63.67 L270.40,63.80 L270.70,63.74 L271.00,63.47 L271.30,63.27 L271.60,62.98 L271.90,62.87 L272.20,62.95 L272.50,62.87 L272.80,62.75 L273.10,62.75 L273.40,62.65 L273.70,62.41 L274.00,62.19 L274.30,61.89 L274.60,61.48 L274.90,61.15 L275.20,60.56 L275.50,60.25 L275.80,59.88 L276.10,59.40 L276.40,59.12 L276.70,58.72 L277.00,58.30 L277.30,57.65 L277.60,57.39 L277.90,57.16 L278.20,56.70 L278.50,56.32 L278.80,56.04 L279.10,55.75 L279.40,55.27 L279.70,54.59 L280.00,54.14 L280.30,53.96 L280.60,53.86 L280.90,53.55 L281.20,53.00 L281.50,52.79 L281.80,52.51 L282.10,52.12 L282.40,51.95 L282.70,51.60 L283.00,51.53 L283.30,51.60 L283.60,51.30 L283.90,50.96 L284.20,50.88 L284.50,51.07 L284.80,50.87 L285.10,50.49 L285.40,50.56 L285.70,50.47 L286.00,50.16 L286.30,50.33 L286.60,50.56 L286.90,50.65 L287.20,50.76 L287.50,50.94 L287.80,51.10 L288.10,51.12 L288.40,51.24 L288.70,51.54 L289.00,51.87 L289.30,52.08 L289.60,52.22 L289.90,51.89 L290.20,51.86 L290.50,52.40 L290.80,52.72 L291.10,52.76 L291.40,53.12 L291.70,53.58 L292.00,53.57 L292.30,53.81 L292.60,54.12 L292.90,54.29 L293.20,54.69 L293.50,55.03 L293.80,55.12 L294.10,55.43 L294.40,55.92 L294.70,56.21 L295.00,56.72 L295.30,57.07 L295.60,57.49 L295.90,58.10 L296.20,58.14 L296.50,58.42 L296.80,59.05 L297.10,59.39 L297.40,59.51 L297.70,59.97 L298.00,60.80 L298.30,61.07 L298.60,61.38 L298.90,62.04 L299.20,62.45 L299.50,62.90 L299.80,63.36 L300.10,64.02 L300.40,64.60 L300.70,64.82 L301.00,65.38 L301.30,65.79 L301.60,66.13 L301.90,66.74 L302.20,67.25 L302.50,67.70 L302.80,68.12 L303.10,68.50 L303.40,68.91 L303.70,69.37 L304.00,69.92 L304.30,70.20 L304.60,70.49 L304.90,71.03 L305.20,71.32 L305.50,71.60 L305.80,72.05 L306.10,72.36 L306.40,72.58 L306.70,73.29 L307.00,73.75 L307.30,74.32 L307.60,74.93 L307.90,75.21 L308.20,75.65 L308.50,76.06 L308.80,76.40 L309.10,76.68 L309.40,77.06 L309.70,77.58 L310.00,78.08 L310.30,78.45 L310.60,78.69 L310.90,78.84 L311.20,78.91 L311.50,79.32 L311.80,79.93 L312.10,80.10 L312.40,80.38 L312.70,80.87 L313.00,81.06 L313.30,81.30 L313.60,81.59 L313.90,81.51 L314.20,81.67 L314.50,82.08 L314.80,82.45 L315.10,82.63 L315.40,82.75 L315.70,82.97 L316.00,83.25 L316.30,83.60 L316.60,83.94 L316.90,84.25 L317.20,84.37 L317.50,84.52 L317.80,84.72 L318.10,84.92 L318.40,85.30 L318.70,85.20 L319.00,85.20 L319.30,85.74 L319.60,86.10 L319.90,86.14 L320.20,86.25 L320.50,86.69 L320.80,86.79 L321.10,86.66 L321.40,86.86 L321.70,87.14 L322.00,87.45 L322.30,87.69 L322.60,88.01 L322.90,88.31 L323.20,88.18 L323.50,88.28 L323.80,88.42 L324.10,88.70 L324.40,89.17 L324.70,89.26 L325.00,89.35 L325.30,89.42 L325.60,89.49 L325.90,90.03 L326.20,89.97 L326.50,89.99 L326.80,90.44 L327.10,90.21 L327.40,90.04 L327.70,90.29 L328.00,90.71 L328.30,90.91 L328.60,90.91 L328.90,91.17 L329.20,91.34 L329.50,91.40 L329.80,91.48 L330.10,91.71 L330.40,91.77 L330.70,91.95 L331.00,92.12 L331.30,91.94 L331.60,92.16 L331.90,92.42 L332.20,92.21 L332.50,92.28 L332.80,92.46 L333.10,92.43 L333.40,92.77 L333.70,92.86 L334.00,92.90 L334.30,93.04 L334.60,93.32 L334.90,93.44 L335.20,93.14 L335.50,93.10 L335.80,93.21 L336.10,93.44 L336.40,93.62 L336.70,93.80 L337.00,93.89 L337.30,93.86 L337.60,93.95 L337.90,93.98 L338.20,94.04 L338.50,94.22 L338.80,94.34 L339.10,94.24 L339.40,94.00 L339.70,94.03 L340.00,94.33 L340.30,94.19 L340.60,94.15 L340.90,94.56 L341.20,94.61 L341.50,94.48 L341.80,94.81 L342.10,95.16 L342.40,94.97 L342.70,95.02 L343.00,95.26 L343.30,95.01 L343.60,95.23 L343.90,95.30 L344.20,94.99 L344.50,95.02 L344.80,95.10 L345.10,95.12 L345.40,95.15 L345.70,95.48 L346.00,95.55 L346.30,95.42 L346.60,95.62 L346.90,95.58" fill="none" stroke="#231f20" stroke-width="1.55" stroke-linejoin="round" clip-path="url(#c1)"/>
<path d="M401.70,5.08 L402.00,12.56 L402.30,17.00 L402.60,18.53 L402.90,15.02 L403.20,8.51 L403.50,4.95 L403.80,4.91 L404.10,5.00 L404.40,5.03 L404.70,4.91 L405.00,4.87 L405.30,4.90 L405.60,4.95 L405.90,5.02 L406.20,5.03 L406.50,4.96 L406.80,4.96 L407.10,4.91 L407.40,4.69 L407.70,4.79 L408.00,4.88 L408.30,4.81 L408.60,4.84 L408.90,4.96 L409.20,4.96 L409.50,4.94 L409.80,4.99 L410.10,4.88 L410.40,4.79 L410.70,4.92 L411.00,5.07 L411.30,5.09 L411.60,5.20 L411.90,5.16 L412.20,5.05 L412.50,5.02 L412.80,5.00 L413.10,4.99 L413.40,4.91 L413.70,5.09 L414.00,5.01 L414.30,4.88 L414.60,5.05 L414.90,5.05 L415.20,4.94 L415.50,4.92 L415.80,4.95 L416.10,4.89 L416.40,4.92 L416.70,4.97 L417.00,4.93 L417.30,5.01 L417.60,4.97 L417.90,4.95 L418.20,4.99 L418.50,4.99 L418.80,5.04 L419.10,5.02 L419.40,4.94 L419.70,4.87 L420.00,4.88 L420.30,4.95 L420.60,5.07 L420.90,5.14 L421.20,5.04 L421.50,4.97 L421.80,4.88 L422.10,4.71 L422.40,4.77 L422.70,4.88 L423.00,4.83 L423.30,4.75 L423.60,4.91 L423.90,12.47 L424.20,46.11 L424.50,60.05 L424.80,73.96 L425.10,85.35 L425.40,92.10 L425.70,95.99 L426.00,97.93 L426.30,99.10 L426.60,99.39 L426.90,99.76 L427.20,99.98 L427.50,100.24 L427.80,100.30 L428.10,100.27 L428.40,100.54 L428.70,100.77 L429.00,100.95 L429.30,101.05 L429.60,101.24 L429.90,101.26 L430.20,101.17 L430.50,101.32 L430.80,101.33 L431.10,101.29 L431.40,101.33 L431.70,101.35 L432.00,101.34 L432.30,101.39 L432.60,101.40 L432.90,101.50 L433.20,101.54 L433.50,101.70 L433.80,101.98 L434.10,101.94 L434.40,101.83 L434.70,101.73 L435.00,101.87 L435.30,101.95 L435.60,101.93 L435.90,101.89 L436.20,101.95 L436.50,101.96 L436.80,101.91 L437.10,101.86 L437.40,101.82 L437.70,102.01 L438.00,102.04 L438.30,101.98 L438.60,102.08 L438.90,102.12 L439.20,102.16 L439.50,102.00 L439.80,101.95 L440.10,102.17 L440.40,102.02 L440.70,101.89 L441.00,102.08 L441.30,102.10 L441.60,101.99 L441.90,102.12 L442.20,102.14 L442.50,102.14 L442.80,102.10 L443.10,102.09 L443.40,102.24 L443.70,102.25 L444.00,102.01 L444.30,102.04 L444.60,102.21 L444.90,102.10 L445.20,102.20 L445.50,102.14 L445.80,102.18 L446.10,102.27 L446.40,102.25 L446.70,102.30 L447.00,102.09 L447.30,102.10 L447.60,102.23 L447.90,102.27 L448.20,102.32 L448.50,102.22 L448.80,102.18 L449.10,102.31 L449.40,102.25 L449.70,102.13 L450.00,102.09 L450.30,102.22 L450.60,102.35 L450.90,102.24 L451.20,102.08 L451.50,102.24 L451.80,102.23 L452.10,102.15 L452.40,102.21 L452.70,102.07 L453.00,102.14 L453.30,102.26 L453.60,102.36 L453.90,102.55 L454.20,102.43 L454.50,102.34 L454.80,102.44 L455.10,102.33 L455.40,102.19 L455.70,102.35 L456.00,102.39 L456.30,102.27 L456.60,102.28 L456.90,102.27 L457.20,102.25 L457.50,102.32 L457.80,102.46 L458.10,102.38 L458.40,102.19 L458.70,102.22 L459.00,102.22 L459.30,102.17 L459.60,102.38 L459.90,102.60 L460.20,102.54 L460.50,102.29 L460.80,102.32 L461.10,102.24 L461.40,102.13 L461.70,102.41 L462.00,102.53 L462.30,102.31 L462.60,102.13 L462.90,102.30 L463.20,102.43 L463.50,102.32 L463.80,102.36 L464.10,102.36 L464.40,102.19 L464.70,102.30 L465.00,102.39 L465.30,102.26 L465.60,102.21 L465.90,102.31 L466.20,102.35 L466.50,102.38 L466.80,102.42 L467.10,102.46 L467.40,102.45 L467.70,102.33 L468.00,102.21 L468.30,102.18 L468.60,102.38 L468.90,102.70 L469.20,102.55 L469.50,102.25 L469.80,102.37 L470.10,102.49 L470.40,102.41 L470.70,102.38 L471.00,102.32 L471.30,102.29 L471.60,102.48 L471.90,102.63 L472.20,102.55 L472.50,102.41 L472.80,102.46 L473.10,102.56 L473.40,102.57 L473.70,102.43 L474.00,102.42 L474.30,102.55 L474.60,102.48 L474.90,102.31 L475.20,102.40 L475.50,102.53 L475.80,102.56 L476.10,102.54 L476.40,102.43 L476.70,102.39 L477.00,102.36 L477.30,102.33 L477.60,102.36 L477.90,102.40 L478.20,102.53 L478.50,102.47 L478.80,102.39 L479.10,102.44 L479.40,102.55 L479.70,102.62 L480.00,102.48 L480.30,102.52 L480.60,102.56 L480.90,102.46 L481.20,102.58 L481.50,102.67 L481.80,102.68 L482.10,102.72 L482.40,102.65 L482.70,102.57 L483.00,102.44 L483.30,102.48 L483.60,102.57 L483.90,102.57 L484.20,102.56 L484.50,102.46 L484.80,102.39 L485.10,102.49 L485.40,102.67 L485.70,102.59 L486.00,102.53 L486.30,102.66 L486.60,102.57 L486.90,102.44 L487.20,102.42 L487.50,102.53 L487.80,102.64 L488.10,102.52 L488.40,102.37 L488.70,102.40 L489.00,102.60 L489.30,102.59 L489.60,102.48 L489.90,102.55 L490.20,102.50 L490.50,102.45 L490.80,102.59 L491.10,102.53 L491.40,102.42 L491.70,102.50 L492.00,102.56 L492.30,102.52 L492.60,102.55 L492.90,102.58 L493.20,102.50 L493.50,102.43 L493.80,102.54 L494.10,102.67 L494.40,102.74 L494.70,102.59 L495.00,102.58 L495.30,102.70 L495.60,102.61 L495.90,102.59 L496.20,102.66 L496.50,102.76 L496.80,102.62 L497.10,102.53 L497.40,102.60 L497.70,102.54 L498.00,102.64 L498.30,102.71 L498.60,102.55 L498.90,102.47 L499.20,102.56 L499.50,102.48 L499.80,102.53 L500.10,102.63 L500.40,102.58 L500.70,102.61 L501.00,102.73 L501.30,102.71 L501.60,102.55 L501.90,102.68 L502.20,102.67 L502.50,102.50 L502.80,102.44 L503.10,102.56 L503.40,102.68 L503.70,102.63 L504.00,102.63 L504.30,102.58 L504.60,102.51 L504.90,102.47 L505.20,102.56 L505.50,102.62 L505.80,102.71 L506.10,102.65 L506.40,102.49 L506.70,102.47 L507.00,102.61 L507.30,102.60 L507.60,102.55 L507.90,102.75 L508.20,102.68 L508.50,102.63 L508.80,102.48 L509.10,102.40 L509.40,102.44 L509.70,102.48 L510.00,102.60 L510.30,102.53 L510.60,102.60 L510.90,102.69 L511.20,102.58 L511.50,102.51 L511.80,102.44 L512.10,102.47 L512.40,102.74 L512.70,102.70 L513.00,102.57 L513.30,102.58 L513.60,102.61 L513.90,102.69 L514.20,102.61 L514.50,102.44 L514.80,102.42 L515.10,102.65 L515.40,102.67 L515.70,102.62 L516.00,102.61 L516.30,102.42 L516.60,102.49 L516.90,102.65 L517.20,102.58 L517.50,102.53 L517.80,102.59 L518.10,102.57 L518.40,102.58 L518.70,102.61 L519.00,102.41 L519.30,102.41 L519.60,102.54 L519.90,102.49 L520.20,102.56 L520.50,102.59 L520.80,102.60 L521.10,102.72 L521.40,102.69" fill="none" stroke="#e5202e" stroke-width="1.55" stroke-linejoin="round" clip-path="url(#c2)"/>
<path d="M417.40,4.84 L417.70,7.93 L418.00,11.65 L418.30,15.44 L418.60,19.42 L418.90,25.24 L419.20,29.67 L419.50,28.30 L419.80,21.99 L420.10,16.41 L420.40,11.16 L420.70,6.81 L421.00,4.97 L421.30,4.79 L421.60,4.77 L421.90,4.84 L422.20,5.00 L422.50,5.29 L422.80,5.32 L423.10,19.53 L423.40,46.09 L423.70,60.88 L424.00,73.16 L424.30,82.04 L424.60,86.19 L424.90,88.77 L425.20,90.42 L425.50,91.74 L425.80,92.41 L426.10,92.88 L426.40,93.50 L426.70,93.44 L427.00,93.41 L427.30,93.66 L427.60,93.83 L427.90,94.04 L428.20,94.19 L428.50,94.49 L428.80,94.73 L429.10,94.79 L429.40,94.83 L429.70,94.94 L430.00,95.07 L430.30,95.23 L430.60,95.32 L430.90,95.41 L431.20,95.37 L431.50,95.48 L431.80,95.85 L432.10,95.84 L432.40,95.58 L432.70,95.73 L433.00,95.88 L433.30,95.48 L433.60,95.53 L433.90,95.92 L434.20,96.02 L434.50,96.11 L434.80,96.17 L435.10,96.09 L435.40,95.86 L435.70,95.77 L436.00,96.01 L436.30,96.22 L436.60,96.12 L436.90,96.02 L437.20,96.19 L437.50,96.09 L437.80,95.87 L438.10,96.06 L438.40,96.30 L438.70,96.30 L439.00,96.07 L439.30,96.14 L439.60,96.25 L439.90,96.33 L440.20,96.47 L440.50,96.45 L440.80,96.54 L441.10,96.47 L441.40,96.51 L441.70,96.69 L442.00,96.66 L442.30,96.69 L442.60,96.60 L442.90,96.57 L443.20,96.66 L443.50,96.49 L443.80,96.46 L444.10,96.51 L444.40,96.48 L444.70,96.54 L445.00,96.71 L445.30,96.68 L445.60,96.59 L445.90,96.48 L446.20,96.49 L446.50,96.75 L446.80,96.83 L447.10,96.77 L447.40,96.64 L447.70,96.50 L448.00,96.55 L448.30,96.52 L448.60,96.41 L448.90,96.64 L449.20,96.68 L449.50,96.77 L449.80,96.72 L450.10,96.59 L450.40,96.62 L450.70,96.60 L451.00,96.62 L451.30,96.61 L451.60,96.70 L451.90,96.66 L452.20,96.73 L452.50,96.93 L452.80,96.82 L453.10,96.76 L453.40,96.83 L453.70,96.75 L454.00,96.96 L454.30,96.75 L454.60,96.47 L454.90,96.51 L455.20,96.55 L455.50,96.71 L455.80,97.12 L456.10,97.18 L456.40,96.98 L456.70,97.08 L457.00,96.86 L457.30,96.79 L457.60,97.00 L457.90,96.97 L458.20,96.83 L458.50,96.86 L458.80,96.70 L459.10,96.57 L459.40,96.75 L459.70,96.89 L460.00,96.77 L460.30,96.69 L460.60,96.77 L460.90,96.79 L461.20,96.87 L461.50,96.90 L461.80,96.85 L462.10,96.70 L462.40,96.58 L462.70,96.76 L463.00,96.71 L463.30,96.70 L463.60,96.80 L463.90,96.69 L464.20,96.83 L464.50,96.84 L464.80,96.69 L465.10,96.70 L465.40,96.79 L465.70,97.13 L466.00,96.92 L466.30,96.65 L466.60,96.84 L466.90,96.94 L467.20,96.93 L467.50,96.59 L467.80,96.76 L468.10,96.90 L468.40,96.77 L468.70,96.74 L469.00,96.64 L469.30,96.73 L469.60,96.93 L469.90,97.06 L470.20,96.92 L470.50,96.89 L470.80,96.92 L471.10,96.88 L471.40,96.94 L471.70,96.99 L472.00,96.92 L472.30,96.85 L472.60,96.93 L472.90,96.96 L473.20,96.86 L473.50,97.02 L473.80,97.06 L474.10,96.97 L474.40,97.04 L474.70,97.09 L475.00,96.85 L475.30,96.94 L475.60,97.14 L475.90,96.81 L476.20,96.85 L476.50,97.20 L476.80,97.24 L477.10,96.89 L477.40,96.80 L477.70,97.06 L478.00,96.97 L478.30,96.82 L478.60,96.93 L478.90,97.17 L479.20,97.17 L479.50,97.09 L479.80,97.06 L480.10,96.85 L480.40,97.02 L480.70,97.16 L481.00,96.89 L481.30,96.90 L481.60,97.14 L481.90,97.01 L482.20,96.98 L482.50,97.07 L482.80,97.00 L483.10,96.92 L483.40,96.90 L483.70,96.94 L484.00,96.87 L484.30,96.90 L484.60,96.88 L484.90,96.90 L485.20,97.04 L485.50,96.93 L485.80,97.03 L486.10,97.33 L486.40,97.38 L486.70,97.05 L487.00,97.05 L487.30,97.21 L487.60,97.08 L487.90,97.00 L488.20,97.01 L488.50,97.21 L488.80,97.27 L489.10,97.09 L489.40,96.97 L489.70,96.98 L490.00,97.10 L490.30,97.33 L490.60,97.17 L490.90,96.99 L491.20,97.06 L491.50,96.99 L491.80,97.07 L492.10,97.20 L492.40,97.03 L492.70,96.87 L493.00,97.13 L493.30,97.27 L493.60,97.21 L493.90,97.13 L494.20,97.04 L494.50,97.14 L494.80,97.13 L495.10,96.98 L495.40,97.03 L495.70,97.23 L496.00,97.14 L496.30,97.15 L496.60,97.33 L496.90,97.14 L497.20,97.08 L497.50,97.16 L497.80,97.23 L498.10,97.30 L498.40,97.11 L498.70,96.92 L499.00,97.15 L499.30,97.30 L499.60,97.24 L499.90,97.27 L500.20,97.38 L500.50,97.23 L500.80,97.19 L501.10,97.23 L501.40,97.20 L501.70,97.42 L502.00,97.21 L502.30,97.12 L502.60,97.24 L502.90,97.17 L503.20,97.21 L503.50,97.14 L503.80,97.04 L504.10,97.21 L504.40,97.40 L504.70,97.28 L505.00,97.05 L505.30,97.34 L505.60,97.60 L505.90,97.41 L506.20,97.20 L506.50,97.11 L506.80,97.24 L507.10,97.21 L507.40,97.35 L507.70,97.46 L508.00,97.35 L508.30,97.24 L508.60,97.11 L508.90,97.14 L509.20,97.26 L509.50,97.32 L509.80,97.26 L510.10,97.33 L510.40,97.38 L510.70,97.50 L511.00,97.46 L511.30,97.22 L511.60,97.24 L511.90,97.49 L512.20,97.44 L512.50,97.31 L512.80,97.33 L513.10,97.37 L513.40,97.44 L513.70,97.32 L514.00,97.28 L514.30,97.45 L514.60,97.59 L514.90,97.59 L515.20,97.57 L515.50,97.45 L515.80,97.34 L516.10,97.47 L516.40,97.39 L516.70,97.30 L517.00,97.23 L517.30,97.21 L517.60,97.33 L517.90,97.25 L518.20,97.38 L518.50,97.43 L518.80,97.34 L519.10,97.39 L519.40,97.36 L519.70,97.53 L520.00,97.56 L520.30,97.44 L520.60,97.37 L520.90,97.31 L521.20,97.41 L521.50,97.43" fill="none" stroke="#ee6e24" stroke-width="1.55" stroke-linejoin="round" clip-path="url(#c2)"/>
<path d="M417.00,4.94 L417.30,8.35 L417.60,12.21 L417.90,16.06 L418.20,19.97 L418.50,25.33 L418.80,31.58 L419.10,35.59 L419.40,34.56 L419.70,29.68 L420.00,23.46 L420.30,18.36 L420.60,13.14 L420.90,8.19 L421.20,5.15 L421.50,4.83 L421.80,4.97 L422.10,5.07 L422.40,4.82 L422.70,4.80 L423.00,19.66 L423.30,45.63 L423.60,58.59 L423.90,67.62 L424.20,73.54 L424.50,76.22 L424.80,77.00 L425.10,77.70 L425.40,78.57 L425.70,79.03 L426.00,79.12 L426.30,79.64 L426.60,80.16 L426.90,80.62 L427.20,80.79 L427.50,80.76 L427.80,81.12 L428.10,81.55 L428.40,81.84 L428.70,82.12 L429.00,82.14 L429.30,82.15 L429.60,82.47 L429.90,82.81 L430.20,83.05 L430.50,83.09 L430.80,83.10 L431.10,83.38 L431.40,83.72 L431.70,84.04 L432.00,84.06 L432.30,84.08 L432.60,84.10 L432.90,84.00 L433.20,84.16 L433.50,84.27 L433.80,84.34 L434.10,84.43 L434.40,84.59 L434.70,84.69 L435.00,84.84 L435.30,84.97 L435.60,84.99 L435.90,85.22 L436.20,85.33 L436.50,85.28 L436.80,85.33 L437.10,85.39 L437.40,85.51 L437.70,85.49 L438.00,85.61 L438.30,85.89 L438.60,85.94 L438.90,85.78 L439.20,85.54 L439.50,85.57 L439.80,85.76 L440.10,85.89 L440.40,85.86 L440.70,85.74 L441.00,85.90 L441.30,85.85 L441.60,85.79 L441.90,85.93 L442.20,85.67 L442.50,85.59 L442.80,85.64 L443.10,85.49 L443.40,85.34 L443.70,85.24 L444.00,85.43 L444.30,85.51 L444.60,85.46 L444.90,85.36 L445.20,85.26 L445.50,85.30 L445.80,85.14 L446.10,84.97 L446.40,85.12 L446.70,85.24 L447.00,85.05 L447.30,84.96 L447.60,85.05 L447.90,85.16 L448.20,84.93 L448.50,84.73 L448.80,84.94 L449.10,84.80 L449.40,84.64 L449.70,84.28 L450.00,84.18 L450.30,84.33 L450.60,83.88 L450.90,83.82 L451.20,83.95 L451.50,83.84 L451.80,83.68 L452.10,83.39 L452.40,83.02 L452.70,82.80 L453.00,82.69 L453.30,82.59 L453.60,82.37 L453.90,82.16 L454.20,82.13 L454.50,82.00 L454.80,82.00 L455.10,82.05 L455.40,81.59 L455.70,81.22 L456.00,81.09 L456.30,80.92 L456.60,80.99 L456.90,80.90 L457.20,80.64 L457.50,80.61 L457.80,80.70 L458.10,80.60 L458.40,80.41 L458.70,80.46 L459.00,80.47 L459.30,80.37 L459.60,80.37 L459.90,80.20 L460.20,80.10 L460.50,80.12 L460.80,80.18 L461.10,80.30 L461.40,80.09 L461.70,80.13 L462.00,80.11 L462.30,80.10 L462.60,80.26 L462.90,80.11 L463.20,80.04 L463.50,80.17 L463.80,80.37 L464.10,80.43 L464.40,80.59 L464.70,80.64 L465.00,80.70 L465.30,80.95 L465.60,80.87 L465.90,81.01 L466.20,81.17 L466.50,81.00 L466.80,81.17 L467.10,81.50 L467.40,81.77 L467.70,81.87 L468.00,82.04 L468.30,82.35 L468.60,82.44 L468.90,82.55 L469.20,82.60 L469.50,82.54 L469.80,82.69 L470.10,82.95 L470.40,83.03 L470.70,83.02 L471.00,82.96 L471.30,83.17 L471.60,83.47 L471.90,83.39 L472.20,83.48 L472.50,83.79 L472.80,83.89 L473.10,84.01 L473.40,84.21 L473.70,84.10 L474.00,84.11 L474.30,84.41 L474.60,84.64 L474.90,84.84 L475.20,84.67 L475.50,84.64 L475.80,85.01 L476.10,85.24 L476.40,85.44 L476.70,85.33 L477.00,85.23 L477.30,85.33 L477.60,85.55 L477.90,85.63 L478.20,85.77 L478.50,86.10 L478.80,86.14 L479.10,85.93 L479.40,85.92 L479.70,86.31 L480.00,86.34 L480.30,86.35 L480.60,86.58 L480.90,86.79 L481.20,86.92 L481.50,86.95 L481.80,86.98 L482.10,87.04 L482.40,87.16 L482.70,87.31 L483.00,87.39 L483.30,87.50 L483.60,87.43 L483.90,87.52 L484.20,87.74 L484.50,87.81 L484.80,87.90 L485.10,87.94 L485.40,88.15 L485.70,88.07 L486.00,88.00 L486.30,88.10 L486.60,88.17 L486.90,88.09 L487.20,88.11 L487.50,88.30 L487.80,88.30 L488.10,88.36 L488.40,88.34 L488.70,88.55 L489.00,88.80 L489.30,88.90 L489.60,88.82 L489.90,88.57 L490.20,88.74 L490.50,88.74 L490.80,88.78 L491.10,88.93 L491.40,88.92 L491.70,89.06 L492.00,89.15 L492.30,89.35 L492.60,89.45 L492.90,89.19 L493.20,89.27 L493.50,89.30 L493.80,89.26 L494.10,89.31 L494.40,89.26 L494.70,89.56 L495.00,89.63 L495.30,89.47 L495.60,89.51 L495.90,89.59 L496.20,89.83 L496.50,89.78 L496.80,89.55 L497.10,89.77 L497.40,89.77 L497.70,89.72 L498.00,90.03 L498.30,90.10 L498.60,89.98 L498.90,89.95 L499.20,89.95 L499.50,90.00 L499.80,90.14 L500.10,90.36 L500.40,90.48 L500.70,90.34 L501.00,90.22 L501.30,90.38 L501.60,90.31 L501.90,90.24 L502.20,90.43 L502.50,90.41 L502.80,90.38 L503.10,90.57 L503.40,90.55 L503.70,90.46 L504.00,90.61 L504.30,90.75 L504.60,90.72 L504.90,90.87 L505.20,91.02 L505.50,90.93 L505.80,90.97 L506.10,90.97 L506.40,90.96 L506.70,91.18 L507.00,91.34 L507.30,91.27 L507.60,91.39 L507.90,91.38 L508.20,91.39 L508.50,91.51 L508.80,91.40 L509.10,91.52 L509.40,91.51 L509.70,91.55 L510.00,91.65 L510.30,91.68 L510.60,91.95 L510.90,92.01 L511.20,91.86 L511.50,91.85 L511.80,91.92 L512.10,91.85 L512.40,91.82 L512.70,91.99 L513.00,92.20 L513.30,92.07 L513.60,92.05 L513.90,92.32 L514.20,92.39 L514.50,92.28 L514.80,92.42 L515.10,92.45 L515.40,92.46 L515.70,92.78 L516.00,92.56 L516.30,92.48 L516.60,92.76 L516.90,92.80 L517.20,92.74 L517.50,92.73 L517.80,92.72 L518.10,92.81 L518.40,93.05 L518.70,93.01 L519.00,92.92 L519.30,92.98 L519.60,93.12 L519.90,93.22 L520.20,93.26 L520.50,93.31 L520.80,93.23 L521.10,93.01 L521.40,93.24" fill="none" stroke="#f5e11a" stroke-width="1.55" stroke-linejoin="round" clip-path="url(#c2)"/>
<path d="M416.20,5.13 L416.50,7.62 L416.80,9.94 L417.10,12.47 L417.40,14.84 L417.70,17.31 L418.00,19.82 L418.30,21.94 L418.60,23.42 L418.90,24.06 L419.20,23.38 L419.50,21.90 L419.80,19.81 L420.10,17.31 L420.40,14.78 L420.70,12.30 L421.00,9.03 L421.30,6.13 L421.60,4.76 L421.90,4.63 L422.20,4.95 L422.50,5.01 L422.80,4.95 L423.10,34.84 L423.40,48.73 L423.70,57.95 L424.00,64.04 L424.30,67.17 L424.60,68.84 L424.90,70.06 L425.20,70.89 L425.50,71.33 L425.80,71.96 L426.10,72.85 L426.40,73.51 L426.70,73.88 L427.00,74.37 L427.30,74.87 L427.60,75.27 L427.90,75.47 L428.20,75.64 L428.50,76.15 L428.80,76.48 L429.10,76.71 L429.40,77.18 L429.70,77.35 L430.00,77.41 L430.30,77.59 L430.60,77.71 L430.90,77.95 L431.20,78.04 L431.50,78.01 L431.80,78.43 L432.10,78.77 L432.40,78.87 L432.70,79.00 L433.00,79.01 L433.30,79.15 L433.60,79.30 L433.90,79.20 L434.20,79.33 L434.50,79.43 L434.80,79.40 L435.10,79.82 L435.40,79.87 L435.70,79.85 L436.00,79.87 L436.30,79.83 L436.60,79.92 L436.90,79.95 L437.20,79.91 L437.50,79.83 L437.80,79.99 L438.10,79.96 L438.40,79.88 L438.70,80.13 L439.00,80.18 L439.30,80.06 L439.60,80.04 L439.90,80.17 L440.20,80.27 L440.50,80.30 L440.80,80.34 L441.10,80.53 L441.40,80.53 L441.70,80.18 L442.00,80.25 L442.30,80.46 L442.60,80.47 L442.90,80.33 L443.20,80.43 L443.50,80.59 L443.80,80.47 L444.10,80.32 L444.40,80.36 L444.70,80.49 L445.00,80.55 L445.30,80.49 L445.60,80.21 L445.90,80.23 L446.20,80.22 L446.50,80.21 L446.80,80.15 L447.10,80.04 L447.40,80.08 L447.70,80.03 L448.00,79.95 L448.30,79.81 L448.60,79.80 L448.90,79.76 L449.20,79.71 L449.50,79.68 L449.80,79.38 L450.10,79.33 L450.40,79.61 L450.70,79.55 L451.00,79.36 L451.30,79.25 L451.60,79.02 L451.90,78.70 L452.20,78.68 L452.50,78.76 L452.80,78.59 L453.10,78.37 L453.40,78.20 L453.70,78.00 L454.00,77.84 L454.30,77.71 L454.60,77.58 L454.90,77.36 L455.20,77.15 L455.50,77.17 L455.80,77.07 L456.10,76.64 L456.40,76.55 L456.70,76.43 L457.00,76.47 L457.30,76.63 L457.60,76.40 L457.90,76.16 L458.20,75.89 L458.50,75.86 L458.80,75.91 L459.10,75.82 L459.40,75.82 L459.70,75.97 L460.00,76.05 L460.30,75.93 L460.60,75.72 L460.90,75.90 L461.20,76.13 L461.50,76.27 L461.80,76.59 L462.10,76.80 L462.40,76.77 L462.70,76.82 L463.00,77.05 L463.30,77.04 L463.60,77.01 L463.90,77.19 L464.20,77.27 L464.50,77.25 L464.80,77.30 L465.10,77.47 L465.40,77.61 L465.70,77.81 L466.00,77.97 L466.30,78.16 L466.60,78.45 L466.90,78.32 L467.20,78.45 L467.50,78.67 L467.80,78.83 L468.10,79.06 L468.40,79.06 L468.70,79.22 L469.00,79.30 L469.30,79.41 L469.60,79.63 L469.90,79.72 L470.20,79.85 L470.50,79.90 L470.80,80.05 L471.10,80.17 L471.40,80.31 L471.70,80.61 L472.00,80.76 L472.30,80.80 L472.60,81.17 L472.90,81.34 L473.20,81.20 L473.50,81.29 L473.80,81.56 L474.10,81.72 L474.40,81.82 L474.70,81.91 L475.00,81.98 L475.30,82.16 L475.60,82.35 L475.90,82.49 L476.20,82.44 L476.50,82.63 L476.80,82.72 L477.10,82.70 L477.40,83.00 L477.70,83.03 L478.00,83.14 L478.30,83.39 L478.60,83.34 L478.90,83.52 L479.20,83.77 L479.50,83.80 L479.80,83.83 L480.10,84.07 L480.40,84.26 L480.70,84.28 L481.00,84.23 L481.30,84.25 L481.60,84.36 L481.90,84.61 L482.20,84.81 L482.50,84.87 L482.80,85.03 L483.10,85.06 L483.40,84.97 L483.70,85.05 L484.00,85.34 L484.30,85.26 L484.60,85.18 L484.90,85.49 L485.20,85.53 L485.50,85.78 L485.80,85.95 L486.10,85.87 L486.40,85.74 L486.70,85.78 L487.00,85.89 L487.30,85.91 L487.60,86.02 L487.90,86.04 L488.20,86.14 L488.50,86.40 L488.80,86.50 L489.10,86.43 L489.40,86.21 L489.70,86.35 L490.00,86.70 L490.30,86.64 L490.60,86.56 L490.90,86.70 L491.20,86.74 L491.50,86.81 L491.80,86.85 L492.10,86.75 L492.40,86.92 L492.70,86.93 L493.00,86.99 L493.30,87.24 L493.60,87.18 L493.90,87.28 L494.20,87.42 L494.50,87.45 L494.80,87.58 L495.10,87.55 L495.40,87.54 L495.70,87.49 L496.00,87.53 L496.30,87.68 L496.60,87.96 L496.90,88.19 L497.20,87.97 L497.50,88.01 L497.80,88.23 L498.10,88.18 L498.40,88.26 L498.70,88.43 L499.00,88.40 L499.30,88.36 L499.60,88.49 L499.90,88.48 L500.20,88.54 L500.50,88.69 L500.80,88.66 L501.10,88.65 L501.40,88.80 L501.70,89.02 L502.00,89.09 L502.30,88.98 L502.60,89.08 L502.90,89.24 L503.20,89.28 L503.50,89.43 L503.80,89.35 L504.10,89.28 L504.40,89.37 L504.70,89.36 L505.00,89.66 L505.30,89.88 L505.60,89.59 L505.90,89.60 L506.20,89.77 L506.50,89.89 L506.80,90.01 L507.10,89.94 L507.40,90.00 L507.70,90.11 L508.00,90.15 L508.30,90.15 L508.60,90.19 L508.90,90.32 L509.20,90.28 L509.50,90.29 L509.80,90.44 L510.10,90.45 L510.40,90.58 L510.70,90.56 L511.00,90.51 L511.30,90.61 L511.60,90.75 L511.90,90.84 L512.20,90.84 L512.50,90.98 L512.80,90.88 L513.10,90.94 L513.40,91.07 L513.70,91.06 L514.00,91.17 L514.30,91.32 L514.60,91.45 L514.90,91.60 L515.20,91.60 L515.50,91.44 L515.80,91.43 L516.10,91.59 L516.40,91.83 L516.70,91.86 L517.00,91.71 L517.30,91.75 L517.60,91.88 L517.90,91.91 L518.20,91.87 L518.50,91.68 L518.80,91.75 L519.10,92.13 L519.40,92.25 L519.70,92.00 L520.00,92.03 L520.30,92.11 L520.60,92.35 L520.90,92.59 L521.20,92.34 L521.50,92.45" fill="none" stroke="#95c43a" stroke-width="1.55" stroke-linejoin="round" clip-path="url(#c2)"/>
<path d="M416.00,4.93 L416.30,6.19 L416.60,7.74 L416.90,9.28 L417.20,11.57 L417.50,14.71 L417.80,17.37 L418.10,17.96 L418.40,15.68 L418.70,12.37 L419.00,9.98 L419.30,8.30 L419.60,6.19 L419.90,5.12 L420.20,5.17 L420.50,5.00 L420.80,4.98 L421.10,4.99 L421.40,5.16 L421.70,5.23 L422.00,4.97 L422.30,5.21 L422.60,5.55 L422.90,5.34 L423.20,30.27 L423.50,42.52 L423.80,50.57 L424.10,56.93 L424.40,60.93 L424.70,63.61 L425.00,65.23 L425.30,66.59 L425.60,67.54 L425.90,68.36 L426.20,68.87 L426.50,69.23 L426.80,69.80 L427.10,70.13 L427.40,70.72 L427.70,71.24 L428.00,71.45 L428.30,71.81 L428.60,72.36 L428.90,72.61 L429.20,72.95 L429.50,73.39 L429.80,73.48 L430.10,73.77 L430.40,74.18 L430.70,74.32 L431.00,74.37 L431.30,74.68 L431.60,74.99 L431.90,74.90 L432.20,74.90 L432.50,75.12 L432.80,75.25 L433.10,75.27 L433.40,75.53 L433.70,75.80 L434.00,75.84 L434.30,76.08 L434.60,76.13 L434.90,76.10 L435.20,76.28 L435.50,76.35 L435.80,76.41 L436.10,76.62 L436.40,76.72 L436.70,76.86 L437.00,76.87 L437.30,76.85 L437.60,76.85 L437.90,76.89 L438.20,77.01 L438.50,77.20 L438.80,77.38 L439.10,77.33 L439.40,77.46 L439.70,77.58 L440.00,77.50 L440.30,77.33 L440.60,77.15 L440.90,77.24 L441.20,77.36 L441.50,77.33 L441.80,77.35 L442.10,77.27 L442.40,77.46 L442.70,77.52 L443.00,77.32 L443.30,77.49 L443.60,77.40 L443.90,77.43 L444.20,77.65 L444.50,77.51 L444.80,77.27 L445.10,77.20 L445.40,77.07 L445.70,77.17 L446.00,77.27 L446.30,76.98 L446.60,76.79 L446.90,76.82 L447.20,76.94 L447.50,76.67 L447.80,76.37 L448.10,76.22 L448.40,76.23 L448.70,76.31 L449.00,76.34 L449.30,76.19 L449.60,75.79 L449.90,75.59 L450.20,75.56 L450.50,75.33 L450.80,75.16 L451.10,75.17 L451.40,74.88 L451.70,74.58 L452.00,74.54 L452.30,74.61 L452.60,74.27 L452.90,73.95 L453.20,73.96 L453.50,73.66 L453.80,73.28 L454.10,73.04 L454.40,72.88 L454.70,72.82 L455.00,72.64 L455.30,72.43 L455.60,72.19 L455.90,72.00 L456.20,71.91 L456.50,71.96 L456.80,71.86 L457.10,71.58 L457.40,71.56 L457.70,71.58 L458.00,71.34 L458.30,71.13 L458.60,71.19 L458.90,71.23 L459.20,71.06 L459.50,71.04 L459.80,71.14 L460.10,71.27 L460.40,71.25 L460.70,71.31 L461.00,71.53 L461.30,71.46 L461.60,71.64 L461.90,71.95 L462.20,71.85 L462.50,72.09 L462.80,72.23 L463.10,72.08 L463.40,72.28 L463.70,72.56 L464.00,72.78 L464.30,72.83 L464.60,73.04 L464.90,73.24 L465.20,73.39 L465.50,73.78 L465.80,73.82 L466.10,73.47 L466.40,73.57 L466.70,73.88 L467.00,74.09 L467.30,74.37 L467.60,74.41 L467.90,74.46 L468.20,74.71 L468.50,74.96 L468.80,74.90 L469.10,75.16 L469.40,75.57 L469.70,75.62 L470.00,75.78 L470.30,75.82 L470.60,75.92 L470.90,76.24 L471.20,76.48 L471.50,76.55 L471.80,76.54 L472.10,76.53 L472.40,76.81 L472.70,77.05 L473.00,77.00 L473.30,76.86 L473.60,76.93 L473.90,77.07 L474.20,77.39 L474.50,77.71 L474.80,77.63 L475.10,77.70 L475.40,78.15 L475.70,78.41 L476.00,78.15 L476.30,78.14 L476.60,78.28 L476.90,78.26 L477.20,78.53 L477.50,79.07 L477.80,79.35 L478.10,79.27 L478.40,79.23 L478.70,79.39 L479.00,79.68 L479.30,79.67 L479.60,79.54 L479.90,80.02 L480.20,80.37 L480.50,80.49 L480.80,80.62 L481.10,80.74 L481.40,80.79 L481.70,80.81 L482.00,81.13 L482.30,81.29 L482.60,81.19 L482.90,81.27 L483.20,81.34 L483.50,81.19 L483.80,81.39 L484.10,81.75 L484.40,81.86 L484.70,81.67 L485.00,81.75 L485.30,82.01 L485.60,81.95 L485.90,81.71 L486.20,81.92 L486.50,82.32 L486.80,82.34 L487.10,82.15 L487.40,82.02 L487.70,82.36 L488.00,82.66 L488.30,82.68 L488.60,82.65 L488.90,82.72 L489.20,82.76 L489.50,82.77 L489.80,82.83 L490.10,82.97 L490.40,83.10 L490.70,83.27 L491.00,83.48 L491.30,83.41 L491.60,83.62 L491.90,83.69 L492.20,83.66 L492.50,83.98 L492.80,84.17 L493.10,83.94 L493.40,84.01 L493.70,84.45 L494.00,84.58 L494.30,84.32 L494.60,84.19 L494.90,84.48 L495.20,84.58 L495.50,84.80 L495.80,84.85 L496.10,84.92 L496.40,85.11 L496.70,84.92 L497.00,84.83 L497.30,85.00 L497.60,85.17 L497.90,85.39 L498.20,85.43 L498.50,85.48 L498.80,85.41 L499.10,85.08 L499.40,85.26 L499.70,85.68 L500.00,85.74 L500.30,85.65 L500.60,85.80 L500.90,86.15 L501.20,86.16 L501.50,85.96 L501.80,85.94 L502.10,86.27 L502.40,86.42 L502.70,86.34 L503.00,86.53 L503.30,86.64 L503.60,86.49 L503.90,86.54 L504.20,86.78 L504.50,86.80 L504.80,86.88 L505.10,86.84 L505.40,86.79 L505.70,86.86 L506.00,87.01 L506.30,87.06 L506.60,87.09 L506.90,87.11 L507.20,87.12 L507.50,87.25 L507.80,87.32 L508.10,87.43 L508.40,87.48 L508.70,87.51 L509.00,87.38 L509.30,87.58 L509.60,87.78 L509.90,87.71 L510.20,87.75 L510.50,87.93 L510.80,87.98 L511.10,87.99 L511.40,88.26 L511.70,88.43 L512.00,88.48 L512.30,88.44 L512.60,88.25 L512.90,88.37 L513.20,88.67 L513.50,88.68 L513.80,88.69 L514.10,88.67 L514.40,88.59 L514.70,88.74 L515.00,88.98 L515.30,88.82 L515.60,88.83 L515.90,89.01 L516.20,89.06 L516.50,89.11 L516.80,89.19 L517.10,89.31 L517.40,89.34 L517.70,89.15 L518.00,89.19 L518.30,89.38 L518.60,89.24 L518.90,89.35 L519.20,89.37 L519.50,89.44 L519.80,89.79 L520.10,89.70 L520.40,89.67 L520.70,89.81 L521.00,89.82 L521.30,89.69 L521.60,89.73" fill="none" stroke="#27a74a" stroke-width="1.55" stroke-linejoin="round" clip-path="url(#c2)"/>
<path d="M423.00,5.32 L423.30,35.66 L423.60,45.38 L423.90,53.00 L424.20,58.44 L424.50,61.92 L424.80,64.41 L425.10,65.87 L425.40,66.93 L425.70,67.74 L426.00,68.34 L426.30,68.81 L426.60,69.33 L426.90,69.99 L427.20,70.38 L427.50,70.79 L427.80,71.27 L428.10,71.50 L428.40,71.88 L428.70,72.48 L429.00,72.72 L429.30,72.71 L429.60,73.03 L429.90,73.38 L430.20,73.78 L430.50,74.05 L430.80,74.07 L431.10,74.21 L431.40,74.42 L431.70,74.61 L432.00,74.66 L432.30,74.87 L432.60,75.03 L432.90,75.31 L433.20,75.42 L433.50,75.41 L433.80,75.58 L434.10,75.57 L434.40,75.91 L434.70,75.95 L435.00,76.03 L435.30,76.21 L435.60,76.17 L435.90,76.63 L436.20,76.51 L436.50,76.24 L436.80,76.67 L437.10,76.90 L437.40,76.79 L437.70,76.84 L438.00,76.86 L438.30,76.93 L438.60,77.22 L438.90,77.21 L439.20,77.10 L439.50,77.29 L439.80,77.50 L440.10,77.35 L440.40,77.21 L440.70,77.24 L441.00,77.17 L441.30,77.21 L441.60,77.23 L441.90,77.12 L442.20,77.00 L442.50,77.12 L442.80,77.33 L443.10,77.53 L443.40,77.47 L443.70,77.34 L444.00,77.45 L444.30,77.51 L444.60,77.40 L444.90,77.28 L445.20,77.41 L445.50,77.32 L445.80,77.01 L446.10,76.80 L446.40,76.80 L446.70,76.84 L447.00,76.88 L447.30,76.77 L447.60,76.56 L447.90,76.58 L448.20,76.56 L448.50,76.24 L448.80,76.12 L449.10,76.13 L449.40,75.84 L449.70,75.66 L450.00,75.49 L450.30,75.34 L450.60,74.99 L450.90,74.92 L451.20,74.98 L451.50,74.66 L451.80,74.46 L452.10,74.59 L452.40,74.44 L452.70,73.98 L453.00,73.91 L453.30,73.68 L453.60,73.30 L453.90,73.14 L454.20,72.95 L454.50,72.91 L454.80,72.82 L455.10,72.53 L455.40,72.32 L455.70,72.27 L456.00,72.10 L456.30,71.95 L456.60,71.77 L456.90,71.57 L457.20,71.51 L457.50,71.35 L457.80,71.27 L458.10,71.25 L458.40,71.03 L458.70,70.93 L459.00,70.92 L459.30,70.95 L459.60,71.01 L459.90,71.03 L460.20,70.99 L460.50,71.22 L460.80,71.48 L461.10,71.45 L461.40,71.57 L461.70,71.71 L462.00,71.72 L462.30,71.82 L462.60,72.24 L462.90,72.46 L463.20,72.42 L463.50,72.41 L463.80,72.49 L464.10,72.88 L464.40,73.00 L464.70,73.02 L465.00,73.25 L465.30,73.36 L465.60,73.55 L465.90,73.67 L466.20,73.72 L466.50,73.81 L466.80,74.18 L467.10,74.43 L467.40,74.36 L467.70,74.63 L468.00,74.73 L468.30,74.76 L468.60,74.89 L468.90,75.05 L469.20,75.24 L469.50,75.44 L469.80,75.61 L470.10,75.64 L470.40,75.75 L470.70,75.93 L471.00,76.04 L471.30,76.26 L471.60,76.50 L471.90,76.54 L472.20,76.48 L472.50,76.64 L472.80,76.75 L473.10,76.83 L473.40,77.07 L473.70,77.11 L474.00,77.14 L474.30,77.25 L474.60,77.64 L474.90,77.80 L475.20,77.70 L475.50,77.94 L475.80,78.12 L476.10,78.25 L476.40,78.22 L476.70,78.14 L477.00,78.71 L477.30,78.95 L477.60,78.74 L477.90,78.90 L478.20,79.18 L478.50,79.20 L478.80,79.28 L479.10,79.54 L479.40,79.73 L479.70,79.90 L480.00,79.93 L480.30,79.98 L480.60,79.94 L480.90,80.25 L481.20,80.47 L481.50,80.47 L481.80,80.88 L482.10,80.99 L482.40,80.99 L482.70,81.11 L483.00,81.21 L483.30,81.32 L483.60,81.29 L483.90,81.50 L484.20,81.60 L484.50,81.42 L484.80,81.48 L485.10,81.74 L485.40,81.73 L485.70,81.83 L486.00,82.08 L486.30,82.27 L486.60,82.21 L486.90,82.13 L487.20,82.10 L487.50,82.07 L487.80,82.31 L488.10,82.46 L488.40,82.52 L488.70,82.54 L489.00,82.56 L489.30,82.61 L489.60,82.78 L489.90,82.96 L490.20,83.08 L490.50,83.21 L490.80,83.36 L491.10,83.19 L491.40,83.13 L491.70,83.39 L492.00,83.49 L492.30,83.71 L492.60,83.94 L492.90,83.93 L493.20,83.97 L493.50,84.20 L493.80,84.25 L494.10,84.19 L494.40,84.39 L494.70,84.54 L495.00,84.67 L495.30,84.74 L495.60,84.75 L495.90,84.74 L496.20,84.65 L496.50,84.77 L496.80,84.68 L497.10,84.79 L497.40,85.20 L497.70,85.24 L498.00,85.19 L498.30,85.36 L498.60,85.44 L498.90,85.49 L499.20,85.77 L499.50,85.81 L499.80,85.75 L500.10,85.79 L500.40,85.79 L500.70,85.83 L501.00,85.87 L501.30,86.01 L501.60,85.91 L501.90,85.85 L502.20,86.13 L502.50,86.13 L502.80,86.12 L503.10,86.20 L503.40,86.31 L503.70,86.52 L504.00,86.68 L504.30,86.71 L504.60,86.57 L504.90,86.61 L505.20,86.80 L505.50,86.97 L505.80,86.78 L506.10,86.74 L506.40,86.84 L506.70,86.93 L507.00,87.21 L507.30,87.26 L507.60,87.36 L507.90,87.41 L508.20,87.33 L508.50,87.39 L508.80,87.63 L509.10,87.64 L509.40,87.59 L509.70,87.55 L510.00,87.72 L510.30,87.84 L510.60,87.72 L510.90,87.78 L511.20,87.83 L511.50,87.91 L511.80,88.17 L512.10,88.32 L512.40,88.39 L512.70,88.51 L513.00,88.34 L513.30,88.30 L513.60,88.59 L513.90,88.81 L514.20,88.59 L514.50,88.29 L514.80,88.52 L515.10,88.67 L515.40,88.59 L515.70,88.71 L516.00,88.78 L516.30,88.58 L516.60,88.70 L516.90,88.98 L517.20,89.09 L517.50,89.22 L517.80,89.22 L518.10,89.16 L518.40,89.13 L518.70,89.04 L519.00,89.11 L519.30,89.41 L519.60,89.56 L519.90,89.71 L520.20,89.68 L520.50,89.36 L520.80,89.50 L521.10,89.81 L521.40,89.66" fill="none" stroke="#1f8a4c" stroke-width="1.55" stroke-linejoin="round" clip-path="url(#c2)"/>
<path d="M423.00,4.31 L423.30,34.60 L423.60,44.61 L423.90,52.04 L424.20,57.33 L424.50,60.89 L424.80,63.17 L425.10,64.62 L425.40,65.87 L425.70,66.79 L426.00,67.34 L426.30,67.62 L426.60,68.40 L426.90,69.09 L427.20,69.33 L427.50,69.76 L427.80,70.26 L428.10,70.63 L428.40,70.98 L428.70,71.50 L429.00,71.93 L429.30,72.11 L429.60,72.18 L429.90,72.52 L430.20,73.07 L430.50,73.14 L430.80,73.13 L431.10,73.43 L431.40,73.62 L431.70,73.95 L432.00,74.10 L432.30,74.21 L432.60,74.38 L432.90,74.42 L433.20,74.50 L433.50,74.50 L433.80,74.61 L434.10,74.83 L434.40,74.95 L434.70,75.24 L435.00,75.43 L435.30,75.50 L435.60,75.69 L435.90,75.44 L436.20,75.46 L436.50,75.83 L436.80,75.85 L437.10,75.78 L437.40,75.93 L437.70,76.29 L438.00,76.41 L438.30,76.32 L438.60,76.32 L438.90,76.48 L439.20,76.65 L439.50,76.72 L439.80,76.54 L440.10,76.44 L440.40,76.47 L440.70,76.51 L441.00,76.45 L441.30,76.54 L441.60,76.54 L441.90,76.37 L442.20,76.51 L442.50,76.55 L442.80,76.49 L443.10,76.32 L443.40,76.45 L443.70,76.70 L444.00,76.58 L444.30,76.61 L444.60,76.62 L444.90,76.43 L445.20,76.59 L445.50,76.55 L445.80,76.35 L446.10,76.54 L446.40,76.26 L446.70,75.95 L447.00,75.83 L447.30,75.84 L447.60,75.80 L447.90,75.43 L448.20,75.53 L448.50,75.67 L448.80,75.30 L449.10,75.21 L449.40,75.20 L449.70,75.24 L450.00,75.28 L450.30,74.74 L450.60,74.35 L450.90,74.15 L451.20,74.03 L451.50,73.96 L451.80,73.85 L452.10,73.66 L452.40,73.20 L452.70,72.90 L453.00,73.05 L453.30,73.09 L453.60,72.71 L453.90,72.37 L454.20,72.19 L454.50,72.03 L454.80,71.69 L455.10,71.64 L455.40,71.63 L455.70,71.40 L456.00,71.04 L456.30,70.91 L456.60,71.23 L456.90,70.79 L457.20,70.68 L457.50,70.88 L457.80,70.49 L458.10,70.15 L458.40,70.29 L458.70,70.44 L459.00,70.33 L459.30,70.24 L459.60,70.08 L459.90,70.24 L460.20,70.28 L460.50,70.35 L460.80,70.35 L461.10,70.23 L461.40,70.37 L461.70,70.76 L462.00,70.85 L462.30,70.69 L462.60,71.11 L462.90,71.40 L463.20,71.71 L463.50,72.02 L463.80,71.96 L464.10,71.95 L464.40,71.79 L464.70,71.75 L465.00,72.07 L465.30,72.31 L465.60,72.34 L465.90,72.41 L466.20,72.64 L466.50,73.04 L466.80,73.36 L467.10,73.35 L467.40,73.44 L467.70,73.68 L468.00,73.79 L468.30,73.89 L468.60,73.92 L468.90,74.19 L469.20,74.67 L469.50,74.78 L469.80,74.86 L470.10,75.00 L470.40,75.32 L470.70,75.43 L471.00,75.16 L471.30,75.13 L471.60,75.50 L471.90,75.87 L472.20,76.00 L472.50,76.09 L472.80,76.14 L473.10,75.97 L473.40,75.98 L473.70,76.06 L474.00,76.21 L474.30,76.38 L474.60,76.56 L474.90,76.81 L475.20,76.69 L475.50,76.91 L475.80,77.36 L476.10,77.23 L476.40,77.28 L476.70,77.66 L477.00,77.74 L477.30,77.89 L477.60,78.09 L477.90,78.26 L478.20,78.41 L478.50,78.41 L478.80,78.60 L479.10,78.87 L479.40,78.99 L479.70,78.99 L480.00,79.01 L480.30,79.17 L480.60,79.33 L480.90,79.54 L481.20,79.76 L481.50,79.85 L481.80,79.94 L482.10,80.08 L482.40,80.37 L482.70,80.59 L483.00,80.43 L483.30,80.42 L483.60,80.53 L483.90,80.55 L484.20,80.64 L484.50,80.66 L484.80,80.60 L485.10,80.45 L485.40,80.71 L485.70,81.22 L486.00,81.15 L486.30,81.14 L486.60,81.27 L486.90,81.31 L487.20,81.33 L487.50,81.33 L487.80,81.49 L488.10,81.30 L488.40,81.41 L488.70,81.76 L489.00,81.51 L489.30,81.68 L489.60,82.06 L489.90,82.09 L490.20,82.22 L490.50,82.24 L490.80,82.16 L491.10,82.26 L491.40,82.44 L491.70,82.86 L492.00,83.24 L492.30,83.02 L492.60,82.85 L492.90,83.05 L493.20,83.27 L493.50,83.24 L493.80,83.15 L494.10,83.55 L494.40,83.88 L494.70,83.54 L495.00,83.28 L495.30,83.44 L495.60,83.76 L495.90,84.00 L496.20,84.00 L496.50,83.81 L496.80,83.95 L497.10,84.29 L497.40,84.33 L497.70,84.27 L498.00,84.40 L498.30,84.52 L498.60,84.38 L498.90,84.47 L499.20,84.51 L499.50,84.68 L499.80,84.95 L500.10,84.78 L500.40,84.81 L500.70,85.14 L501.00,84.92 L501.30,84.81 L501.60,85.34 L501.90,85.23 L502.20,85.07 L502.50,85.14 L502.80,85.22 L503.10,85.16 L503.40,85.03 L503.70,85.32 L504.00,85.60 L504.30,85.78 L504.60,85.88 L504.90,86.03 L505.20,86.13 L505.50,86.15 L505.80,86.00 L506.10,85.96 L506.40,86.53 L506.70,86.89 L507.00,86.67 L507.30,86.54 L507.60,86.63 L507.90,86.55 L508.20,86.73 L508.50,86.80 L508.80,86.61 L509.10,86.98 L509.40,86.80 L509.70,86.64 L510.00,86.74 L510.30,86.68 L510.60,86.94 L510.90,87.03 L511.20,87.12 L511.50,87.13 L511.80,87.15 L512.10,87.15 L512.40,87.17 L512.70,87.20 L513.00,87.39 L513.30,87.45 L513.60,87.51 L513.90,87.67 L514.20,87.60 L514.50,87.85 L514.80,87.96 L515.10,87.63 L515.40,87.73 L515.70,87.66 L516.00,87.68 L516.30,88.04 L516.60,87.88 L516.90,87.99 L517.20,88.18 L517.50,88.47 L517.80,88.50 L518.10,88.54 L518.40,88.81 L518.70,88.55 L519.00,88.32 L519.30,88.61 L519.60,88.74 L519.90,88.64 L520.20,88.67 L520.50,88.55 L520.80,88.58 L521.10,88.65 L521.40,88.55" fill="none" stroke="#2a7fc8" stroke-width="1.55" stroke-linejoin="round" clip-path="url(#c2)"/>
<path d="M423.00,4.95 L423.30,35.48 L423.60,45.50 L423.90,52.81 L424.20,58.00 L424.50,61.61 L424.80,64.17 L425.10,65.66 L425.40,66.48 L425.70,67.18 L426.00,68.06 L426.30,69.05 L426.60,69.29 L426.90,69.08 L427.20,69.76 L427.50,70.51 L427.80,70.85 L428.10,71.46 L428.40,71.83 L428.70,71.81 L429.00,71.83 L429.30,72.32 L429.60,72.69 L429.90,72.98 L430.20,73.19 L430.50,73.31 L430.80,73.49 L431.10,73.68 L431.40,74.02 L431.70,74.35 L432.00,74.78 L432.30,74.83 L432.60,74.65 L432.90,75.11 L433.20,75.43 L433.50,75.36 L433.80,75.52 L434.10,75.76 L434.40,75.93 L434.70,75.93 L435.00,76.00 L435.30,75.87 L435.60,75.77 L435.90,75.98 L436.20,76.18 L436.50,76.29 L436.80,76.41 L437.10,76.49 L437.40,76.45 L437.70,76.27 L438.00,76.52 L438.30,76.91 L438.60,76.70 L438.90,76.72 L439.20,76.95 L439.50,76.91 L439.80,76.61 L440.10,76.44 L440.40,76.66 L440.70,77.10 L441.00,77.09 L441.30,76.82 L441.60,76.80 L441.90,76.80 L442.20,77.03 L442.50,76.81 L442.80,76.34 L443.10,76.76 L443.40,77.19 L443.70,77.01 L444.00,77.14 L444.30,77.35 L444.60,76.86 L444.90,76.64 L445.20,77.06 L445.50,76.92 L445.80,76.63 L446.10,76.79 L446.40,76.71 L446.70,76.29 L447.00,76.13 L447.30,76.00 L447.60,76.09 L447.90,75.92 L448.20,75.89 L448.50,75.80 L448.80,75.54 L449.10,75.45 L449.40,75.26 L449.70,75.50 L450.00,75.56 L450.30,75.46 L450.60,75.12 L450.90,74.78 L451.20,74.66 L451.50,74.56 L451.80,74.28 L452.10,74.16 L452.40,74.08 L452.70,73.89 L453.00,73.71 L453.30,73.45 L453.60,73.08 L453.90,72.72 L454.20,72.46 L454.50,72.31 L454.80,72.31 L455.10,72.33 L455.40,72.03 L455.70,72.25 L456.00,72.28 L456.30,71.85 L456.60,71.88 L456.90,71.17 L457.20,70.84 L457.50,71.31 L457.80,70.87 L458.10,70.67 L458.40,70.81 L458.70,70.55 L459.00,70.68 L459.30,70.45 L459.60,70.45 L459.90,70.66 L460.20,70.57 L460.50,70.84 L460.80,71.57 L461.10,71.61 L461.40,71.28 L461.70,71.34 L462.00,71.28 L462.30,71.46 L462.60,71.92 L462.90,72.04 L463.20,72.07 L463.50,72.13 L463.80,72.50 L464.10,72.41 L464.40,72.26 L464.70,72.73 L465.00,72.83 L465.30,72.73 L465.60,72.68 L465.90,72.97 L466.20,73.32 L466.50,73.34 L466.80,73.33 L467.10,73.76 L467.40,74.24 L467.70,74.24 L468.00,74.14 L468.30,74.28 L468.60,74.91 L468.90,75.25 L469.20,75.02 L469.50,75.25 L469.80,75.75 L470.10,75.91 L470.40,75.48 L470.70,75.43 L471.00,75.71 L471.30,75.79 L471.60,75.79 L471.90,75.91 L472.20,76.05 L472.50,76.27 L472.80,76.56 L473.10,76.41 L473.40,76.26 L473.70,76.52 L474.00,76.99 L474.30,77.25 L474.60,77.26 L474.90,76.81 L475.20,76.86 L475.50,77.36 L475.80,77.51 L476.10,77.56 L476.40,77.67 L476.70,77.88 L477.00,78.48 L477.30,78.83 L477.60,78.53 L477.90,78.56 L478.20,78.72 L478.50,78.91 L478.80,79.02 L479.10,79.14 L479.40,79.50 L479.70,79.78 L480.00,79.82 L480.30,80.04 L480.60,80.17 L480.90,79.96 L481.20,79.79 L481.50,79.96 L481.80,80.33 L482.10,80.60 L482.40,80.88 L482.70,80.83 L483.00,80.63 L483.30,80.92 L483.60,81.31 L483.90,81.20 L484.20,81.15 L484.50,81.51 L484.80,81.58 L485.10,81.44 L485.40,81.15 L485.70,81.43 L486.00,81.91 L486.30,81.79 L486.60,81.70 L486.90,81.56 L487.20,81.68 L487.50,81.92 L487.80,82.17 L488.10,82.07 L488.40,82.20 L488.70,82.46 L489.00,82.50 L489.30,82.43 L489.60,82.38 L489.90,82.79 L490.20,82.85 L490.50,82.54 L490.80,82.57 L491.10,82.97 L491.40,82.91 L491.70,82.71 L492.00,83.06 L492.30,83.24 L492.60,83.41 L492.90,83.48 L493.20,83.20 L493.50,83.36 L493.80,83.95 L494.10,84.03 L494.40,83.88 L494.70,84.13 L495.00,84.07 L495.30,84.27 L495.60,84.52 L495.90,84.49 L496.20,84.29 L496.50,84.03 L496.80,83.94 L497.10,84.24 L497.40,84.69 L497.70,84.90 L498.00,85.22 L498.30,85.14 L498.60,84.94 L498.90,85.11 L499.20,85.45 L499.50,85.32 L499.80,85.25 L500.10,85.40 L500.40,85.31 L500.70,85.54 L501.00,85.53 L501.30,85.31 L501.60,85.59 L501.90,85.81 L502.20,85.73 L502.50,85.77 L502.80,85.95 L503.10,85.98 L503.40,86.08 L503.70,86.26 L504.00,86.43 L504.30,86.62 L504.60,86.59 L504.90,86.44 L505.20,86.39 L505.50,86.40 L505.80,86.87 L506.10,86.99 L506.40,86.71 L506.70,87.01 L507.00,86.79 L507.30,86.52 L507.60,86.73 L507.90,86.77 L508.20,86.70 L508.50,86.83 L508.80,87.28 L509.10,87.53 L509.40,87.40 L509.70,87.36 L510.00,87.16 L510.30,87.32 L510.60,87.69 L510.90,87.48 L511.20,87.51 L511.50,87.70 L511.80,87.65 L512.10,87.58 L512.40,87.61 L512.70,87.68 L513.00,87.90 L513.30,88.15 L513.60,88.19 L513.90,88.16 L514.20,88.10 L514.50,88.49 L514.80,88.32 L515.10,88.25 L515.40,88.63 L515.70,88.51 L516.00,88.44 L516.30,88.44 L516.60,88.39 L516.90,88.27 L517.20,88.48 L517.50,88.49 L517.80,88.68 L518.10,89.15 L518.40,88.55 L518.70,88.20 L519.00,88.80 L519.30,89.12 L519.60,89.14 L519.90,89.22 L520.20,89.36 L520.50,89.47 L520.80,89.67 L521.10,89.59 L521.40,89.50" fill="none" stroke="#231f20" stroke-width="1.6" stroke-linejoin="round" clip-path="url(#c2)"/>
<line x1="41.20" y1="73.87" x2="44.70" y2="73.87" stroke="#333" stroke-width="1"/>
<line x1="41.20" y1="44.63" x2="44.70" y2="44.63" stroke="#333" stroke-width="1"/>
<line x1="53.09" y1="103.10" x2="53.09" y2="99.30" stroke="#333" stroke-width="1"/>
<line x1="76.87" y1="103.10" x2="76.87" y2="99.30" stroke="#333" stroke-width="1"/>
<line x1="100.65" y1="103.10" x2="100.65" y2="99.30" stroke="#333" stroke-width="1"/>
<line x1="124.44" y1="103.10" x2="124.44" y2="99.30" stroke="#333" stroke-width="1"/>
<line x1="148.22" y1="103.10" x2="148.22" y2="99.30" stroke="#333" stroke-width="1"/>
<rect x="41.2" y="15.4" width="130.8" height="87.69999999999999" fill="none" stroke="#333" stroke-width="1.1"/>
<line x1="216.10" y1="73.87" x2="219.60" y2="73.87" stroke="#333" stroke-width="1"/>
<line x1="216.10" y1="44.63" x2="219.60" y2="44.63" stroke="#333" stroke-width="1"/>
<line x1="227.99" y1="103.10" x2="227.99" y2="99.30" stroke="#333" stroke-width="1"/>
<line x1="251.77" y1="103.10" x2="251.77" y2="99.30" stroke="#333" stroke-width="1"/>
<line x1="275.55" y1="103.10" x2="275.55" y2="99.30" stroke="#333" stroke-width="1"/>
<line x1="299.34" y1="103.10" x2="299.34" y2="99.30" stroke="#333" stroke-width="1"/>
<line x1="323.12" y1="103.10" x2="323.12" y2="99.30" stroke="#333" stroke-width="1"/>
<rect x="216.1" y="15.4" width="130.8" height="87.69999999999999" fill="none" stroke="#333" stroke-width="1.1"/>
<line x1="390.85" y1="73.87" x2="394.35" y2="73.87" stroke="#333" stroke-width="1"/>
<line x1="390.85" y1="44.63" x2="394.35" y2="44.63" stroke="#333" stroke-width="1"/>
<line x1="402.74" y1="103.10" x2="402.74" y2="99.30" stroke="#333" stroke-width="1"/>
<line x1="426.52" y1="103.10" x2="426.52" y2="99.30" stroke="#333" stroke-width="1"/>
<line x1="450.30" y1="103.10" x2="450.30" y2="99.30" stroke="#333" stroke-width="1"/>
<line x1="474.09" y1="103.10" x2="474.09" y2="99.30" stroke="#333" stroke-width="1"/>
<line x1="497.87" y1="103.10" x2="497.87" y2="99.30" stroke="#333" stroke-width="1"/>
<rect x="390.85" y="15.4" width="130.8" height="87.69999999999999" fill="none" stroke="#333" stroke-width="1.1"/>
<line x1="100.20" y1="24.40" x2="111.70" y2="24.40" stroke="#e5202e" stroke-width="1.2"/>
<text transform="translate(115.50 26.60) scale(0.9200 1.0000)" font-size="6.16" text-anchor="start" fill="#262626" class="lg">0 h</text>
<line x1="100.20" y1="33.70" x2="111.70" y2="33.70" stroke="#ee6e24" stroke-width="1.2"/>
<text transform="translate(115.50 35.90) scale(0.9200 1.0000)" font-size="6.16" text-anchor="start" fill="#262626" class="lg">1 h</text>
<line x1="100.20" y1="42.90" x2="111.70" y2="42.90" stroke="#f5e11a" stroke-width="1.2"/>
<text transform="translate(115.50 45.10) scale(0.9200 1.0000)" font-size="6.16" text-anchor="start" fill="#262626" class="lg">2 h</text>
<line x1="100.20" y1="52.20" x2="111.70" y2="52.20" stroke="#95c43a" stroke-width="1.2"/>
<text transform="translate(115.50 54.40) scale(0.9200 1.0000)" font-size="6.16" text-anchor="start" fill="#262626" class="lg">3 h</text>
<line x1="137.20" y1="24.40" x2="148.70" y2="24.40" stroke="#27a74a" stroke-width="1.2"/>
<text transform="translate(163.00 26.60) scale(0.9200 1.0000)" font-size="6.16" text-anchor="end" fill="#262626" class="lg">4 h</text>
<line x1="137.20" y1="33.70" x2="148.70" y2="33.70" stroke="#1f8a4c" stroke-width="1.2"/>
<text transform="translate(163.00 35.90) scale(0.9200 1.0000)" font-size="6.16" text-anchor="end" fill="#262626" class="lg">5 h</text>
<line x1="137.20" y1="42.90" x2="148.70" y2="42.90" stroke="#2a7fc8" stroke-width="1.2"/>
<text transform="translate(163.00 45.10) scale(0.9200 1.0000)" font-size="6.16" text-anchor="end" fill="#262626" class="lg">6 h</text>
<line x1="137.20" y1="52.20" x2="148.70" y2="52.20" stroke="#231f20" stroke-width="1.2"/>
<text transform="translate(163.00 54.40) scale(0.9200 1.0000)" font-size="6.16" text-anchor="end" fill="#262626" class="lg">24 h</text>
<line x1="275.10" y1="24.40" x2="286.60" y2="24.40" stroke="#e5202e" stroke-width="1.2"/>
<text transform="translate(290.40 26.60) scale(0.9200 1.0000)" font-size="6.16" text-anchor="start" fill="#262626" class="lg">0 h</text>
<line x1="275.10" y1="33.70" x2="286.60" y2="33.70" stroke="#ee6e24" stroke-width="1.2"/>
<text transform="translate(290.40 35.90) scale(0.9200 1.0000)" font-size="6.16" text-anchor="start" fill="#262626" class="lg">1 h</text>
<line x1="275.10" y1="42.90" x2="286.60" y2="42.90" stroke="#f5e11a" stroke-width="1.2"/>
<text transform="translate(290.40 45.10) scale(0.9200 1.0000)" font-size="6.16" text-anchor="start" fill="#262626" class="lg">2 h</text>
<line x1="312.10" y1="24.40" x2="323.60" y2="24.40" stroke="#95c43a" stroke-width="1.2"/>
<text transform="translate(337.90 26.60) scale(0.9200 1.0000)" font-size="6.16" text-anchor="end" fill="#262626" class="lg">3 h</text>
<line x1="312.10" y1="33.70" x2="323.60" y2="33.70" stroke="#27a74a" stroke-width="1.2"/>
<text transform="translate(337.90 35.90) scale(0.9200 1.0000)" font-size="6.16" text-anchor="end" fill="#262626" class="lg">4 h</text>
<line x1="312.10" y1="42.90" x2="323.60" y2="42.90" stroke="#1f8a4c" stroke-width="1.2"/>
<text transform="translate(337.90 45.10) scale(0.9200 1.0000)" font-size="6.16" text-anchor="end" fill="#262626" class="lg">5 h</text>
<line x1="312.10" y1="52.20" x2="323.60" y2="52.20" stroke="#2a7fc8" stroke-width="1.2"/>
<text transform="translate(337.90 54.40) scale(0.9200 1.0000)" font-size="6.16" text-anchor="end" fill="#262626" class="lg">6 h</text>
<line x1="312.10" y1="61.40" x2="323.60" y2="61.40" stroke="#231f20" stroke-width="1.2"/>
<text transform="translate(337.90 63.60) scale(0.9200 1.0000)" font-size="6.16" text-anchor="end" fill="#262626" class="lg">24 h</text>
<line x1="449.85" y1="24.40" x2="461.35" y2="24.40" stroke="#e5202e" stroke-width="1.2"/>
<text transform="translate(465.15 26.60) scale(0.9200 1.0000)" font-size="6.16" text-anchor="start" fill="#262626" class="lg">0 h</text>
<line x1="449.85" y1="33.70" x2="461.35" y2="33.70" stroke="#ee6e24" stroke-width="1.2"/>
<text transform="translate(465.15 35.90) scale(0.9200 1.0000)" font-size="6.16" text-anchor="start" fill="#262626" class="lg">1 h</text>
<line x1="449.85" y1="42.90" x2="461.35" y2="42.90" stroke="#f5e11a" stroke-width="1.2"/>
<text transform="translate(465.15 45.10) scale(0.9200 1.0000)" font-size="6.16" text-anchor="start" fill="#262626" class="lg">2 h</text>
<line x1="449.85" y1="52.20" x2="461.35" y2="52.20" stroke="#95c43a" stroke-width="1.2"/>
<text transform="translate(465.15 54.40) scale(0.9200 1.0000)" font-size="6.16" text-anchor="start" fill="#262626" class="lg">3 h</text>
<line x1="486.85" y1="24.40" x2="498.35" y2="24.40" stroke="#27a74a" stroke-width="1.2"/>
<text transform="translate(512.65 26.60) scale(0.9200 1.0000)" font-size="6.16" text-anchor="end" fill="#262626" class="lg">4 h</text>
<line x1="486.85" y1="33.70" x2="498.35" y2="33.70" stroke="#1f8a4c" stroke-width="1.2"/>
<text transform="translate(512.65 35.90) scale(0.9200 1.0000)" font-size="6.16" text-anchor="end" fill="#262626" class="lg">5 h</text>
<line x1="486.85" y1="42.90" x2="498.35" y2="42.90" stroke="#2a7fc8" stroke-width="1.2"/>
<text transform="translate(512.65 45.10) scale(0.9200 1.0000)" font-size="6.16" text-anchor="end" fill="#262626" class="lg">6 h</text>
<line x1="486.85" y1="52.20" x2="498.35" y2="52.20" stroke="#231f20" stroke-width="1.2"/>
<text transform="translate(512.65 54.40) scale(0.9200 1.0000)" font-size="6.16" text-anchor="end" fill="#262626" class="lg">24 h</text>
<text transform="translate(8.45 135.00) scale(0.9200 1.0000)" font-size="9.72" text-anchor="start" fill="#262626">(D)</text>
<text transform="translate(31.05 139.85) scale(0.9200 1.0000)" font-size="7.56" text-anchor="middle" fill="#262626">0.20</text>
<text transform="translate(31.05 161.76) scale(0.9200 1.0000)" font-size="7.56" text-anchor="middle" fill="#262626">0.15</text>
<text transform="translate(31.05 183.68) scale(0.9200 1.0000)" font-size="7.56" text-anchor="middle" fill="#262626">0.10</text>
<text transform="translate(31.05 205.59) scale(0.9200 1.0000)" font-size="7.56" text-anchor="middle" fill="#262626">0.05</text>
<text transform="translate(31.05 227.50) scale(0.9200 1.0000)" font-size="7.56" text-anchor="middle" fill="#262626">0</text>
<text transform="translate(41.15 235.10) scale(0.9200 1.0000)" font-size="7.56" text-anchor="middle" fill="#262626">0</text>
<text transform="translate(63.03 235.10) scale(0.9200 1.0000)" font-size="7.56" text-anchor="middle" fill="#262626">2</text>
<text transform="translate(84.91 235.10) scale(0.9200 1.0000)" font-size="7.56" text-anchor="middle" fill="#262626">4</text>
<text transform="translate(106.79 235.10) scale(0.9200 1.0000)" font-size="7.56" text-anchor="middle" fill="#262626">6</text>
<text transform="translate(158.00 235.10) scale(0.9200 1.0000)" font-size="7.56" text-anchor="middle" fill="#262626">24</text>
<text transform="translate(108.45 246.40) scale(0.9200 1.0000)" font-size="7.78" text-anchor="middle" fill="#262626">Reaction time / h</text>
<rect x="41.45" y="137.35" width="130.5" height="87.65" fill="none" stroke="#333" stroke-width="1.1"/>
<line x1="41.45" y1="203.09" x2="45.05" y2="203.09" stroke="#333" stroke-width="1"/>
<line x1="41.45" y1="181.18" x2="45.05" y2="181.18" stroke="#333" stroke-width="1"/>
<line x1="41.45" y1="159.26" x2="45.05" y2="159.26" stroke="#333" stroke-width="1"/>
<line x1="51.79" y1="225.00" x2="51.79" y2="221.40" stroke="#333" stroke-width="1"/>
<line x1="62.73" y1="225.00" x2="62.73" y2="221.40" stroke="#333" stroke-width="1"/>
<line x1="73.67" y1="225.00" x2="73.67" y2="221.40" stroke="#333" stroke-width="1"/>
<line x1="84.61" y1="225.00" x2="84.61" y2="221.40" stroke="#333" stroke-width="1"/>
<line x1="95.55" y1="225.00" x2="95.55" y2="221.40" stroke="#333" stroke-width="1"/>
<line x1="106.49" y1="225.00" x2="106.49" y2="221.40" stroke="#333" stroke-width="1"/>
<line x1="117.43" y1="225.00" x2="117.43" y2="221.40" stroke="#333" stroke-width="1"/>
<line x1="146.90" y1="225.00" x2="146.90" y2="221.40" stroke="#333" stroke-width="1"/>
<line x1="157.70" y1="225.00" x2="157.70" y2="221.40" stroke="#333" stroke-width="1"/>
<polygon points="127.95,141.15 132.35,134.35 134.95,134.35 130.55,141.15" fill="#fff"/>
<line x1="127.95" y1="141.15" x2="132.35" y2="134.35" stroke="#222" stroke-width="1.15"/>
<line x1="130.55" y1="141.15" x2="134.95" y2="134.35" stroke="#222" stroke-width="1.15"/>
<polygon points="127.95,228.80 132.35,222.00 134.95,222.00 130.55,228.80" fill="#fff"/>
<line x1="127.95" y1="228.80" x2="132.35" y2="222.00" stroke="#222" stroke-width="1.15"/>
<line x1="130.55" y1="228.80" x2="134.95" y2="222.00" stroke="#222" stroke-width="1.15"/>
<text transform="translate(183.40 135.00) scale(0.9200 1.0000)" font-size="9.72" text-anchor="start" fill="#262626">(E)</text>
<text transform="translate(206.00 139.85) scale(0.9200 1.0000)" font-size="7.56" text-anchor="middle" fill="#262626">0.20</text>
<text transform="translate(206.00 161.76) scale(0.9200 1.0000)" font-size="7.56" text-anchor="middle" fill="#262626">0.15</text>
<text transform="translate(206.00 183.68) scale(0.9200 1.0000)" font-size="7.56" text-anchor="middle" fill="#262626">0.10</text>
<text transform="translate(206.00 205.59) scale(0.9200 1.0000)" font-size="7.56" text-anchor="middle" fill="#262626">0.05</text>
<text transform="translate(206.00 227.50) scale(0.9200 1.0000)" font-size="7.56" text-anchor="middle" fill="#262626">0</text>
<text transform="translate(216.10 235.10) scale(0.9200 1.0000)" font-size="7.56" text-anchor="middle" fill="#262626">0</text>
<text transform="translate(237.98 235.10) scale(0.9200 1.0000)" font-size="7.56" text-anchor="middle" fill="#262626">2</text>
<text transform="translate(259.86 235.10) scale(0.9200 1.0000)" font-size="7.56" text-anchor="middle" fill="#262626">4</text>
<text transform="translate(281.74 235.10) scale(0.9200 1.0000)" font-size="7.56" text-anchor="middle" fill="#262626">6</text>
<text transform="translate(332.95 235.10) scale(0.9200 1.0000)" font-size="7.56" text-anchor="middle" fill="#262626">24</text>
<text transform="translate(283.40 246.40) scale(0.9200 1.0000)" font-size="7.78" text-anchor="middle" fill="#262626">Reaction time / h</text>
<rect x="216.4" y="137.35" width="130.5" height="87.65" fill="none" stroke="#333" stroke-width="1.1"/>
<line x1="216.40" y1="203.09" x2="220.00" y2="203.09" stroke="#333" stroke-width="1"/>
<line x1="216.40" y1="181.18" x2="220.00" y2="181.18" stroke="#333" stroke-width="1"/>
<line x1="216.40" y1="159.26" x2="220.00" y2="159.26" stroke="#333" stroke-width="1"/>
<line x1="226.74" y1="225.00" x2="226.74" y2="221.40" stroke="#333" stroke-width="1"/>
<line x1="237.68" y1="225.00" x2="237.68" y2="221.40" stroke="#333" stroke-width="1"/>
<line x1="248.62" y1="225.00" x2="248.62" y2="221.40" stroke="#333" stroke-width="1"/>
<line x1="259.56" y1="225.00" x2="259.56" y2="221.40" stroke="#333" stroke-width="1"/>
<line x1="270.50" y1="225.00" x2="270.50" y2="221.40" stroke="#333" stroke-width="1"/>
<line x1="281.44" y1="225.00" x2="281.44" y2="221.40" stroke="#333" stroke-width="1"/>
<line x1="292.38" y1="225.00" x2="292.38" y2="221.40" stroke="#333" stroke-width="1"/>
<line x1="321.85" y1="225.00" x2="321.85" y2="221.40" stroke="#333" stroke-width="1"/>
<line x1="332.65" y1="225.00" x2="332.65" y2="221.40" stroke="#333" stroke-width="1"/>
<polygon points="302.90,141.15 307.30,134.35 309.90,134.35 305.50,141.15" fill="#fff"/>
<line x1="302.90" y1="141.15" x2="307.30" y2="134.35" stroke="#222" stroke-width="1.15"/>
<line x1="305.50" y1="141.15" x2="309.90" y2="134.35" stroke="#222" stroke-width="1.15"/>
<polygon points="302.90,228.80 307.30,222.00 309.90,222.00 305.50,228.80" fill="#fff"/>
<line x1="302.90" y1="228.80" x2="307.30" y2="222.00" stroke="#222" stroke-width="1.15"/>
<line x1="305.50" y1="228.80" x2="309.90" y2="222.00" stroke="#222" stroke-width="1.15"/>
<text transform="translate(358.00 135.00) scale(0.9200 1.0000)" font-size="9.72" text-anchor="start" fill="#262626">(F)</text>
<text transform="translate(380.60 139.85) scale(0.9200 1.0000)" font-size="7.56" text-anchor="middle" fill="#262626">0.20</text>
<text transform="translate(380.60 161.76) scale(0.9200 1.0000)" font-size="7.56" text-anchor="middle" fill="#262626">0.15</text>
<text transform="translate(380.60 183.68) scale(0.9200 1.0000)" font-size="7.56" text-anchor="middle" fill="#262626">0.10</text>
<text transform="translate(380.60 205.59) scale(0.9200 1.0000)" font-size="7.56" text-anchor="middle" fill="#262626">0.05</text>
<text transform="translate(380.60 227.50) scale(0.9200 1.0000)" font-size="7.56" text-anchor="middle" fill="#262626">0</text>
<text transform="translate(390.70 235.10) scale(0.9200 1.0000)" font-size="7.56" text-anchor="middle" fill="#262626">0</text>
<text transform="translate(412.58 235.10) scale(0.9200 1.0000)" font-size="7.56" text-anchor="middle" fill="#262626">2</text>
<text transform="translate(434.46 235.10) scale(0.9200 1.0000)" font-size="7.56" text-anchor="middle" fill="#262626">4</text>
<text transform="translate(456.34 235.10) scale(0.9200 1.0000)" font-size="7.56" text-anchor="middle" fill="#262626">6</text>
<text transform="translate(507.55 235.10) scale(0.9200 1.0000)" font-size="7.56" text-anchor="middle" fill="#262626">24</text>
<text transform="translate(458.00 246.40) scale(0.9200 1.0000)" font-size="7.78" text-anchor="middle" fill="#262626">Reaction time / h</text>
<rect x="391.0" y="137.35" width="130.5" height="87.65" fill="none" stroke="#333" stroke-width="1.1"/>
<line x1="391.00" y1="203.09" x2="394.60" y2="203.09" stroke="#333" stroke-width="1"/>
<line x1="391.00" y1="181.18" x2="394.60" y2="181.18" stroke="#333" stroke-width="1"/>
<line x1="391.00" y1="159.26" x2="394.60" y2="159.26" stroke="#333" stroke-width="1"/>
<line x1="401.34" y1="225.00" x2="401.34" y2="221.40" stroke="#333" stroke-width="1"/>
<line x1="412.28" y1="225.00" x2="412.28" y2="221.40" stroke="#333" stroke-width="1"/>
<line x1="423.22" y1="225.00" x2="423.22" y2="221.40" stroke="#333" stroke-width="1"/>
<line x1="434.16" y1="225.00" x2="434.16" y2="221.40" stroke="#333" stroke-width="1"/>
<line x1="445.10" y1="225.00" x2="445.10" y2="221.40" stroke="#333" stroke-width="1"/>
<line x1="456.04" y1="225.00" x2="456.04" y2="221.40" stroke="#333" stroke-width="1"/>
<line x1="466.98" y1="225.00" x2="466.98" y2="221.40" stroke="#333" stroke-width="1"/>
<line x1="496.45" y1="225.00" x2="496.45" y2="221.40" stroke="#333" stroke-width="1"/>
<line x1="507.25" y1="225.00" x2="507.25" y2="221.40" stroke="#333" stroke-width="1"/>
<line x1="521.50" y1="212.48" x2="517.90" y2="212.48" stroke="#333" stroke-width="1"/>
<line x1="521.50" y1="199.96" x2="517.90" y2="199.96" stroke="#333" stroke-width="1"/>
<line x1="521.50" y1="187.44" x2="517.90" y2="187.44" stroke="#333" stroke-width="1"/>
<line x1="521.50" y1="174.91" x2="517.90" y2="174.91" stroke="#333" stroke-width="1"/>
<line x1="521.50" y1="162.39" x2="517.90" y2="162.39" stroke="#333" stroke-width="1"/>
<line x1="521.50" y1="149.87" x2="517.90" y2="149.87" stroke="#333" stroke-width="1"/>
<polygon points="477.50,141.15 481.90,134.35 484.50,134.35 480.10,141.15" fill="#fff"/>
<line x1="477.50" y1="141.15" x2="481.90" y2="134.35" stroke="#222" stroke-width="1.15"/>
<line x1="480.10" y1="141.15" x2="484.50" y2="134.35" stroke="#222" stroke-width="1.15"/>
<polygon points="477.50,228.80 481.90,222.00 484.50,222.00 480.10,228.80" fill="#fff"/>
<line x1="477.50" y1="228.80" x2="481.90" y2="222.00" stroke="#222" stroke-width="1.15"/>
<line x1="480.10" y1="228.80" x2="484.50" y2="222.00" stroke="#222" stroke-width="1.15"/>
<text transform="translate(18.55 180.40) rotate(-90) scale(0.9200 1.0000)" font-size="7.99" text-anchor="middle" fill="#262626">Absorbance at 640 nm</text>
<text transform="translate(193.50 181.20) rotate(-90) scale(0.9200 1.0000)" font-size="7.99" text-anchor="middle" fill="#262626">Absorbance at 550 nm</text>
<text transform="translate(368.30 222.80) rotate(-90) scale(0.9200 1.0000)" font-size="7.78" text-anchor="start" fill="#262626">Absorbance at 530 nm</text>
<text transform="translate(368.30 149.60) rotate(-90) scale(0.9200 1.0000)" font-size="7.78" text-anchor="start" fill="#9a9a9a" style="stroke:#9a9a9a">(</text>
<text transform="translate(368.30 141.90) rotate(-90) scale(0.9200 1.0000)" font-size="7.78" text-anchor="start" fill="#9a9a9a" style="stroke:#9a9a9a">)</text>
<circle cx="365.60" cy="144.4" r="2.5" fill="#231f20"/>
<text transform="translate(529.00 227.50) scale(0.9200 1.0000)" font-size="7.56" text-anchor="middle" fill="#262626">2</text>
<text transform="translate(529.00 214.98) scale(0.9200 1.0000)" font-size="7.56" text-anchor="middle" fill="#262626">4</text>
<text transform="translate(529.00 202.46) scale(0.9200 1.0000)" font-size="7.56" text-anchor="middle" fill="#262626">6</text>
<text transform="translate(529.00 189.94) scale(0.9200 1.0000)" font-size="7.56" text-anchor="middle" fill="#262626">8</text>
<text transform="translate(529.00 177.41) scale(0.9200 1.0000)" font-size="7.56" text-anchor="middle" fill="#262626">10</text>
<text transform="translate(529.00 164.89) scale(0.9200 1.0000)" font-size="7.56" text-anchor="middle" fill="#262626">12</text>
<text transform="translate(529.00 152.37) scale(0.9200 1.0000)" font-size="7.56" text-anchor="middle" fill="#262626">14</text>
<text transform="translate(529.00 139.85) scale(0.9200 1.0000)" font-size="7.56" text-anchor="middle" fill="#262626">16</text>
<text transform="translate(537.30 147.40) rotate(90) scale(0.9200 1.0000)" font-size="7.78" text-anchor="start" fill="#262626">Au/Pt atomic ratio</text>
<text transform="translate(537.30 206.40) rotate(90) scale(0.9200 1.0000)" font-size="7.78" text-anchor="start" fill="#9a9a9a" style="stroke:#9a9a9a">(</text>
<text transform="translate(537.30 214.60) rotate(90) scale(0.9200 1.0000)" font-size="7.78" text-anchor="start" fill="#9a9a9a" style="stroke:#9a9a9a">)</text>
<circle cx="539.50" cy="211.5" r="2.0" fill="#fff" stroke="#231f20" stroke-width="1.25"/>
<circle cx="40.85" cy="224.90" r="2.65" fill="#231f20"/>
<circle cx="51.79" cy="190.90" r="2.65" fill="#231f20"/>
<circle cx="62.73" cy="187.40" r="2.65" fill="#231f20"/>
<circle cx="73.67" cy="174.90" r="2.65" fill="#231f20"/>
<circle cx="84.61" cy="173.30" r="2.65" fill="#231f20"/>
<circle cx="95.55" cy="168.60" r="2.65" fill="#231f20"/>
<circle cx="106.49" cy="162.70" r="2.65" fill="#231f20"/>
<circle cx="157.70" cy="161.30" r="2.65" fill="#231f20"/>
<circle cx="215.80" cy="224.90" r="2.65" fill="#231f20"/>
<circle cx="226.74" cy="221.00" r="2.65" fill="#231f20"/>
<circle cx="237.68" cy="215.80" r="2.65" fill="#231f20"/>
<circle cx="248.62" cy="208.00" r="2.65" fill="#231f20"/>
<circle cx="259.56" cy="193.30" r="2.65" fill="#231f20"/>
<circle cx="270.50" cy="185.90" r="2.65" fill="#231f20"/>
<circle cx="281.44" cy="186.60" r="2.65" fill="#231f20"/>
<circle cx="332.65" cy="146.10" r="2.65" fill="#231f20"/>
<circle cx="390.40" cy="224.90" r="2.65" fill="#231f20"/>
<circle cx="401.34" cy="218.40" r="2.65" fill="#231f20"/>
<circle cx="412.28" cy="192.00" r="2.65" fill="#231f20"/>
<circle cx="434.16" cy="176.40" r="2.65" fill="#231f20"/>
<circle cx="445.10" cy="177.20" r="2.65" fill="#231f20"/>
<circle cx="456.04" cy="177.20" r="2.65" fill="#231f20"/>
<circle cx="507.25" cy="178.70" r="2.65" fill="#231f20"/>
<line x1="412.48" y1="159.40" x2="412.48" y2="165.80" stroke="#231f20" stroke-width="1.15"/>
<line x1="410.38" y1="159.40" x2="414.38" y2="159.40" stroke="#231f20" stroke-width="1.1"/>
<line x1="410.38" y1="165.80" x2="414.38" y2="165.80" stroke="#231f20" stroke-width="1.1"/>
<circle cx="412.28" cy="162.60" r="2.12" fill="#fff" stroke="#231f20" stroke-width="1.15"/>
<line x1="423.42" y1="184.00" x2="423.42" y2="186.40" stroke="#231f20" stroke-width="1.15"/>
<line x1="421.32" y1="184.00" x2="425.32" y2="184.00" stroke="#231f20" stroke-width="1.1"/>
<line x1="421.32" y1="186.40" x2="425.32" y2="186.40" stroke="#231f20" stroke-width="1.1"/>
<circle cx="423.22" cy="185.20" r="2.12" fill="#fff" stroke="#231f20" stroke-width="1.15"/>
<line x1="434.36" y1="188.10" x2="434.36" y2="197.50" stroke="#231f20" stroke-width="1.15"/>
<line x1="432.26" y1="188.10" x2="436.26" y2="188.10" stroke="#231f20" stroke-width="1.1"/>
<line x1="432.26" y1="197.50" x2="436.26" y2="197.50" stroke="#231f20" stroke-width="1.1"/>
<circle cx="434.16" cy="192.80" r="2.12" fill="#fff" stroke="#231f20" stroke-width="1.15"/>
<line x1="456.24" y1="174.10" x2="456.24" y2="206.50" stroke="#231f20" stroke-width="1.15"/>
<line x1="454.14" y1="174.10" x2="458.14" y2="174.10" stroke="#231f20" stroke-width="1.1"/>
<line x1="454.14" y1="206.50" x2="458.14" y2="206.50" stroke="#231f20" stroke-width="1.1"/>
<circle cx="456.04" cy="190.30" r="2.12" fill="#fff" stroke="#231f20" stroke-width="1.15"/>
<circle cx="507.25" cy="191.60" r="2.12" fill="#fff" stroke="#231f20" stroke-width="1.15"/>
</svg>
</body></html>
